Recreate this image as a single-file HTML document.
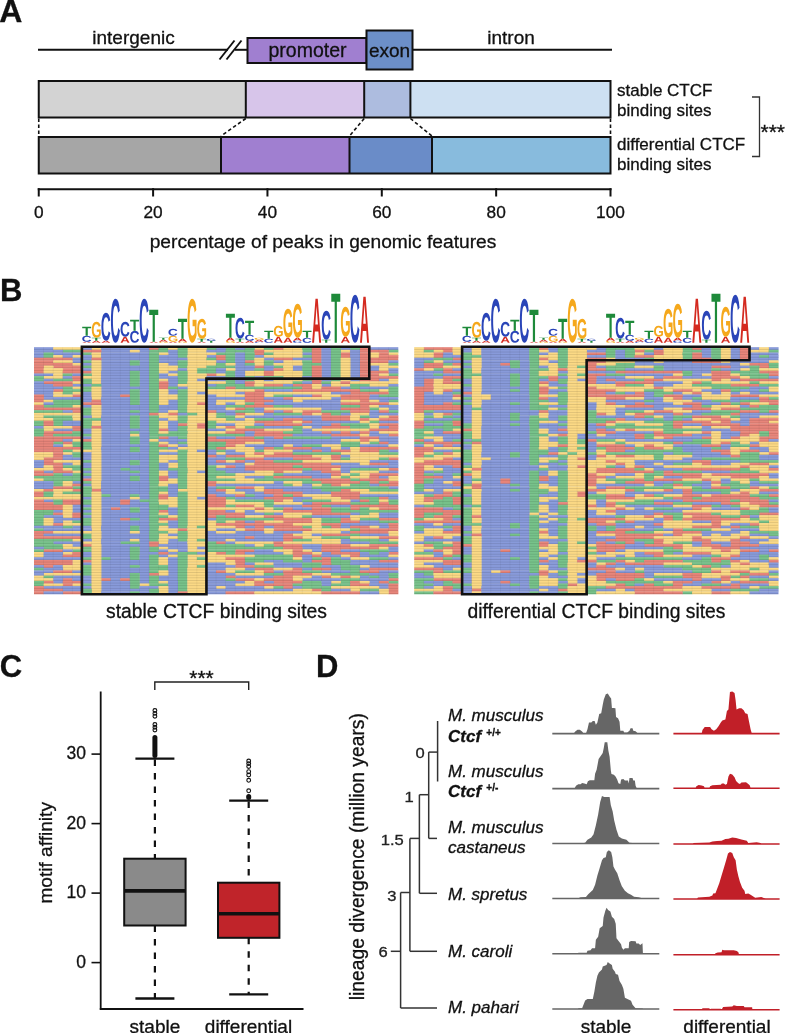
<!DOCTYPE html>
<html><head><meta charset="utf-8"><style>
html,body{margin:0;padding:0;background:#fff;}
svg{display:block;font-family:"Liberation Sans", sans-serif;will-change:transform;}
rect.A{fill:#e8857a}rect.C{fill:#889ada}rect.G{fill:#fbd985}rect.T{fill:#77c28a}
</style></head><body>
<svg width="785" height="1033" viewBox="0 0 785 1033">
<rect width="785" height="1033" fill="#fff"/>
<text x="-0.80" y="21.80" font-size="32" text-anchor="start" font-weight="bold" font-style="normal" fill="#111" stroke="#111" stroke-width="0.3" >A</text>
<text x="-0.10" y="301.00" font-size="31" text-anchor="start" font-weight="bold" font-style="normal" fill="#111" stroke="#111" stroke-width="0.3" >B</text>
<text x="-0.20" y="677.20" font-size="31" text-anchor="start" font-weight="bold" font-style="normal" fill="#111" stroke="#111" stroke-width="0.3" >C</text>
<text x="315.90" y="677.10" font-size="31" text-anchor="start" font-weight="bold" font-style="normal" fill="#111" stroke="#111" stroke-width="0.3" >D</text>
<line x1="38.00" y1="49.80" x2="228.00" y2="49.80" stroke="#111" stroke-width="2" />
<line x1="235.00" y1="49.80" x2="248.00" y2="49.80" stroke="#111" stroke-width="2" />
<line x1="412.00" y1="49.80" x2="612.00" y2="49.80" stroke="#111" stroke-width="2" />
<line x1="219.50" y1="59.50" x2="234.50" y2="40.50" stroke="#111" stroke-width="1.9" />
<line x1="226.50" y1="59.50" x2="241.50" y2="40.50" stroke="#111" stroke-width="1.9" />
<rect x="247.50" y="38.00" width="119.00" height="25.00" fill="#a07fd0" stroke="#111" stroke-width="2" />
<rect x="366.50" y="30.50" width="46.00" height="39.00" fill="#6c8fc8" stroke="#111" stroke-width="2" />
<text x="133.50" y="44.00" font-size="19" text-anchor="middle" font-weight="normal" font-style="normal" fill="#111" stroke="#111" stroke-width="0.3" >intergenic</text>
<text x="307.50" y="57.20" font-size="19.5" text-anchor="middle" font-weight="normal" font-style="normal" fill="#111" stroke="#111" stroke-width="0.3" >promoter</text>
<text x="389.50" y="57.00" font-size="19" text-anchor="middle" font-weight="normal" font-style="normal" fill="#111" stroke="#111" stroke-width="0.3" >exon</text>
<text x="511.00" y="44.00" font-size="19" text-anchor="middle" font-weight="normal" font-style="normal" fill="#111" stroke="#111" stroke-width="0.3" >intron</text>
<rect x="38.75" y="81.00" width="207.05" height="36.50" fill="#d3d3d3" stroke="none" stroke-width="0" />
<rect x="245.80" y="81.00" width="118.40" height="36.50" fill="#d7c5ea" stroke="none" stroke-width="0" />
<rect x="364.20" y="81.00" width="46.20" height="36.50" fill="#adbcdf" stroke="none" stroke-width="0" />
<rect x="410.40" y="81.00" width="200.10" height="36.50" fill="#cde0f2" stroke="none" stroke-width="0" />
<line x1="245.80" y1="81.00" x2="245.80" y2="117.50" stroke="#111" stroke-width="2" />
<line x1="364.20" y1="81.00" x2="364.20" y2="117.50" stroke="#111" stroke-width="2" />
<line x1="410.40" y1="81.00" x2="410.40" y2="117.50" stroke="#111" stroke-width="2" />
<rect x="38.75" y="81.00" width="571.75" height="36.50" fill="none" stroke="#111" stroke-width="2" />
<rect x="38.75" y="137.00" width="182.25" height="36.50" fill="#a6a6a6" stroke="none" stroke-width="0" />
<rect x="221.00" y="137.00" width="128.50" height="36.50" fill="#a07fd0" stroke="none" stroke-width="0" />
<rect x="349.50" y="137.00" width="82.50" height="36.50" fill="#6a8cc8" stroke="none" stroke-width="0" />
<rect x="432.00" y="137.00" width="178.50" height="36.50" fill="#88bbdd" stroke="none" stroke-width="0" />
<line x1="221.00" y1="137.00" x2="221.00" y2="173.50" stroke="#111" stroke-width="2" />
<line x1="349.50" y1="137.00" x2="349.50" y2="173.50" stroke="#111" stroke-width="2" />
<line x1="432.00" y1="137.00" x2="432.00" y2="173.50" stroke="#111" stroke-width="2" />
<rect x="38.75" y="137.00" width="571.75" height="36.50" fill="none" stroke="#111" stroke-width="2" />
<line x1="38.75" y1="118.50" x2="38.75" y2="136.00" stroke="#111" stroke-width="1.6" stroke-dasharray="3.5,2.5"/>
<line x1="245.80" y1="118.50" x2="221.00" y2="136.00" stroke="#111" stroke-width="1.6" stroke-dasharray="3.5,2.5"/>
<line x1="364.20" y1="118.50" x2="349.50" y2="136.00" stroke="#111" stroke-width="1.6" stroke-dasharray="3.5,2.5"/>
<line x1="410.40" y1="118.50" x2="432.00" y2="136.00" stroke="#111" stroke-width="1.6" stroke-dasharray="3.5,2.5"/>
<line x1="610.50" y1="118.50" x2="610.50" y2="136.00" stroke="#111" stroke-width="1.6" stroke-dasharray="3.5,2.5"/>
<line x1="37.75" y1="189.20" x2="611.50" y2="189.20" stroke="#111" stroke-width="2" />
<line x1="38.75" y1="188.20" x2="38.75" y2="196.50" stroke="#111" stroke-width="2" />
<text x="38.75" y="217.80" font-size="17.3" text-anchor="middle" font-weight="normal" font-style="normal" fill="#111" stroke="#111" stroke-width="0.3" >0</text>
<line x1="153.10" y1="188.20" x2="153.10" y2="196.50" stroke="#111" stroke-width="2" />
<text x="153.10" y="217.80" font-size="17.3" text-anchor="middle" font-weight="normal" font-style="normal" fill="#111" stroke="#111" stroke-width="0.3" >20</text>
<line x1="267.45" y1="188.20" x2="267.45" y2="196.50" stroke="#111" stroke-width="2" />
<text x="267.45" y="217.80" font-size="17.3" text-anchor="middle" font-weight="normal" font-style="normal" fill="#111" stroke="#111" stroke-width="0.3" >40</text>
<line x1="381.80" y1="188.20" x2="381.80" y2="196.50" stroke="#111" stroke-width="2" />
<text x="381.80" y="217.80" font-size="17.3" text-anchor="middle" font-weight="normal" font-style="normal" fill="#111" stroke="#111" stroke-width="0.3" >60</text>
<line x1="496.15" y1="188.20" x2="496.15" y2="196.50" stroke="#111" stroke-width="2" />
<text x="496.15" y="217.80" font-size="17.3" text-anchor="middle" font-weight="normal" font-style="normal" fill="#111" stroke="#111" stroke-width="0.3" >80</text>
<line x1="610.50" y1="188.20" x2="610.50" y2="196.50" stroke="#111" stroke-width="2" />
<text x="610.50" y="217.80" font-size="17.3" text-anchor="middle" font-weight="normal" font-style="normal" fill="#111" stroke="#111" stroke-width="0.3" >100</text>
<text x="323.00" y="248.00" font-size="19.2" text-anchor="middle" font-weight="normal" font-style="normal" fill="#111" stroke="#111" stroke-width="0.3" >percentage of peaks in genomic features</text>
<text x="617.00" y="95.50" font-size="17" text-anchor="start" font-weight="normal" font-style="normal" fill="#111" stroke="#111" stroke-width="0.3" >stable CTCF</text>
<text x="617.00" y="115.50" font-size="17" text-anchor="start" font-weight="normal" font-style="normal" fill="#111" stroke="#111" stroke-width="0.3" >binding sites</text>
<text x="617.00" y="149.50" font-size="17" text-anchor="start" font-weight="normal" font-style="normal" fill="#111" stroke="#111" stroke-width="0.3" >differential CTCF</text>
<text x="617.00" y="169.50" font-size="17" text-anchor="start" font-weight="normal" font-style="normal" fill="#111" stroke="#111" stroke-width="0.3" >binding sites</text>
<path d="M752 97 H759.5 V156.5 H752" fill="none" stroke="#333" stroke-width="1.3"/>
<text x="760.50" y="138.70" font-size="21" text-anchor="start" font-weight="normal" font-style="normal" fill="#111" stroke="#111" stroke-width="0.3" >***</text>
<defs><path id="gA" d="M1133 0 1008 360H471L346 0H51L565 1409H913L1425 0ZM739 1192 733 1170Q723 1134 709.0 1088.0Q695 1042 537 582H942L803 987L760 1123Z" fill="#d42a20"/><path id="gC" d="M795 212Q1062 212 1166 480L1423 383Q1340 179 1179.5 79.5Q1019 -20 795 -20Q455 -20 269.5 172.5Q84 365 84 711Q84 1058 263.0 1244.0Q442 1430 782 1430Q1030 1430 1186.0 1330.5Q1342 1231 1405 1038L1145 967Q1112 1073 1015.5 1135.5Q919 1198 788 1198Q588 1198 484.5 1074.0Q381 950 381 711Q381 468 487.5 340.0Q594 212 795 212Z" fill="#2a45b8"/><path id="gG" d="M806 211Q921 211 1029.0 244.5Q1137 278 1196 330V525H852V743H1466V225Q1354 110 1174.5 45.0Q995 -20 798 -20Q454 -20 269.0 170.5Q84 361 84 711Q84 1059 270.0 1244.5Q456 1430 805 1430Q1301 1430 1436 1063L1164 981Q1120 1088 1026.0 1143.0Q932 1198 805 1198Q597 1198 489.0 1072.0Q381 946 381 711Q381 472 492.5 341.5Q604 211 806 211Z" fill="#f5a81c"/><path id="gT" d="M773 1181V0H478V1181H23V1409H1229V1181Z" fill="#1e8a3a"/></defs>
<defs><pattern id="rows" patternUnits="userSpaceOnUse" width="10" height="2.6255" y="347.2"><rect x="0" y="1.8255" width="10" height="0.8" fill="rgba(0,0,0,0.12)"/></pattern></defs>
<rect class="G" x="283.1" y="347.2" width="19.5" height="2.9"/>
<rect class="G" x="91.5" y="347.2" width="9.9" height="2.9"/>
<rect class="C" x="34.0" y="347.2" width="19.5" height="2.9"/>
<rect class="G" x="254.3" y="347.2" width="9.9" height="2.9"/>
<rect class="C" x="101.1" y="347.2" width="48.2" height="2.9"/>
<rect class="T" x="225.6" y="347.2" width="9.9" height="2.9"/>
<rect class="T" x="263.9" y="347.2" width="9.9" height="2.9"/>
<rect class="A" x="359.7" y="347.2" width="9.9" height="2.9"/>
<rect class="A" x="149.0" y="347.2" width="9.9" height="2.9"/>
<rect class="C" x="81.9" y="347.2" width="9.9" height="2.9"/>
<rect class="C" x="235.2" y="347.2" width="9.9" height="2.9"/>
<rect class="A" x="273.5" y="347.2" width="9.9" height="2.9"/>
<rect class="T" x="244.8" y="347.2" width="9.9" height="2.9"/>
<rect class="C" x="369.3" y="347.2" width="29.0" height="2.9"/>
<rect class="T" x="350.1" y="347.2" width="9.9" height="2.9"/>
<rect class="G" x="53.2" y="347.2" width="29.0" height="2.9"/>
<rect class="C" x="340.6" y="347.2" width="9.9" height="2.9"/>
<rect class="C" x="216.0" y="347.2" width="9.9" height="2.9"/>
<rect class="T" x="158.5" y="347.2" width="9.9" height="2.9"/>
<rect class="G" x="168.1" y="347.2" width="9.9" height="2.9"/>
<rect class="T" x="206.4" y="347.2" width="9.9" height="2.9"/>
<rect class="G" x="187.3" y="347.2" width="19.5" height="5.6"/>
<rect class="T" x="302.2" y="347.2" width="9.9" height="5.6"/>
<rect class="C" x="206.4" y="349.8" width="19.5" height="2.9"/>
<rect class="G" x="340.6" y="349.8" width="9.9" height="2.9"/>
<rect class="T" x="62.7" y="349.8" width="19.5" height="2.9"/>
<rect class="T" x="149.0" y="349.8" width="19.5" height="2.9"/>
<rect class="C" x="101.1" y="349.8" width="29.0" height="2.9"/>
<rect class="T" x="388.5" y="349.8" width="9.9" height="2.9"/>
<rect class="T" x="225.6" y="349.8" width="29.0" height="2.9"/>
<rect class="A" x="359.7" y="349.8" width="29.0" height="2.9"/>
<rect class="C" x="34.0" y="349.8" width="29.0" height="2.9"/>
<rect class="G" x="263.9" y="349.8" width="38.6" height="2.9"/>
<rect class="C" x="139.4" y="349.8" width="9.9" height="2.9"/>
<rect class="G" x="129.8" y="349.8" width="9.9" height="2.9"/>
<rect class="A" x="81.9" y="349.8" width="19.5" height="2.9"/>
<rect class="C" x="168.1" y="349.8" width="9.9" height="5.6"/>
<rect class="A" x="254.3" y="349.8" width="9.9" height="5.6"/>
<rect class="C" x="53.2" y="352.5" width="29.0" height="2.9"/>
<rect class="T" x="263.9" y="352.5" width="9.9" height="2.9"/>
<rect class="G" x="388.5" y="352.5" width="9.9" height="2.9"/>
<rect class="A" x="378.9" y="352.5" width="9.9" height="2.9"/>
<rect class="T" x="216.0" y="352.5" width="19.5" height="2.9"/>
<rect class="G" x="187.3" y="352.5" width="29.0" height="2.9"/>
<rect class="T" x="81.9" y="352.5" width="9.9" height="2.9"/>
<rect class="C" x="302.2" y="352.5" width="9.9" height="2.9"/>
<rect class="G" x="273.5" y="352.5" width="29.0" height="2.9"/>
<rect class="G" x="158.5" y="352.5" width="9.9" height="2.9"/>
<rect class="T" x="177.7" y="347.2" width="9.9" height="10.8"/>
<rect class="G" x="91.5" y="352.5" width="9.9" height="5.6"/>
<rect class="A" x="359.7" y="352.5" width="9.9" height="5.6"/>
<rect class="C" x="34.0" y="352.5" width="9.9" height="5.6"/>
<rect class="G" x="369.3" y="352.5" width="9.9" height="5.6"/>
<rect class="A" x="340.6" y="352.5" width="9.9" height="5.6"/>
<rect class="T" x="43.6" y="352.5" width="9.9" height="5.6"/>
<rect class="G" x="72.3" y="355.1" width="9.9" height="2.9"/>
<rect class="A" x="378.9" y="355.1" width="19.5" height="2.9"/>
<rect class="C" x="81.9" y="355.1" width="9.9" height="2.9"/>
<rect class="G" x="53.2" y="355.1" width="9.9" height="2.9"/>
<rect class="T" x="302.2" y="355.1" width="9.9" height="2.9"/>
<rect class="C" x="206.4" y="355.1" width="9.9" height="2.9"/>
<rect class="C" x="254.3" y="355.1" width="9.9" height="2.9"/>
<rect class="G" x="263.9" y="355.1" width="38.6" height="2.9"/>
<rect class="C" x="158.5" y="355.1" width="19.5" height="2.9"/>
<rect class="C" x="62.7" y="355.1" width="9.9" height="2.9"/>
<rect class="C" x="101.1" y="352.5" width="48.2" height="8.2"/>
<rect class="T" x="244.8" y="352.5" width="9.9" height="8.2"/>
<rect class="G" x="187.3" y="355.1" width="19.5" height="5.6"/>
<rect class="A" x="216.0" y="355.1" width="9.9" height="5.6"/>
<rect class="A" x="273.5" y="357.7" width="19.5" height="2.9"/>
<rect class="C" x="72.3" y="357.7" width="19.5" height="2.9"/>
<rect class="A" x="34.0" y="357.7" width="38.6" height="2.9"/>
<rect class="C" x="158.5" y="357.7" width="29.0" height="2.9"/>
<rect class="A" x="91.5" y="357.7" width="9.9" height="2.9"/>
<rect class="C" x="263.9" y="357.7" width="9.9" height="2.9"/>
<rect class="C" x="292.7" y="357.7" width="19.5" height="2.9"/>
<rect class="A" x="359.7" y="357.7" width="38.6" height="2.9"/>
<rect class="T" x="206.4" y="357.7" width="9.9" height="2.9"/>
<rect class="A" x="311.8" y="347.2" width="9.9" height="16.1"/>
<rect class="T" x="225.6" y="355.1" width="9.9" height="8.2"/>
<rect class="G" x="283.1" y="360.3" width="19.5" height="2.9"/>
<rect class="A" x="244.8" y="360.3" width="9.9" height="2.9"/>
<rect class="C" x="273.5" y="360.3" width="9.9" height="2.9"/>
<rect class="T" x="302.2" y="360.3" width="9.9" height="2.9"/>
<rect class="A" x="34.0" y="360.3" width="19.5" height="2.9"/>
<rect class="A" x="359.7" y="360.3" width="29.0" height="2.9"/>
<rect class="C" x="72.3" y="360.3" width="9.9" height="2.9"/>
<rect class="C" x="216.0" y="360.3" width="9.9" height="2.9"/>
<rect class="T" x="81.9" y="360.3" width="9.9" height="2.9"/>
<rect class="G" x="53.2" y="360.3" width="19.5" height="2.9"/>
<rect class="C" x="388.5" y="360.3" width="9.9" height="2.9"/>
<rect class="C" x="158.5" y="360.3" width="19.5" height="2.9"/>
<rect class="C" x="235.2" y="352.5" width="9.9" height="13.4"/>
<rect class="G" x="254.3" y="357.7" width="9.9" height="8.2"/>
<rect class="C" x="101.1" y="360.3" width="29.0" height="5.6"/>
<rect class="T" x="263.9" y="360.3" width="9.9" height="5.6"/>
<rect class="G" x="187.3" y="360.3" width="29.0" height="5.6"/>
<rect class="C" x="139.4" y="360.3" width="9.9" height="5.6"/>
<rect class="T" x="129.8" y="360.3" width="9.9" height="5.6"/>
<rect class="G" x="72.3" y="363.0" width="9.9" height="2.9"/>
<rect class="T" x="216.0" y="363.0" width="9.9" height="2.9"/>
<rect class="G" x="369.3" y="363.0" width="19.5" height="2.9"/>
<rect class="G" x="225.6" y="363.0" width="9.9" height="2.9"/>
<rect class="C" x="81.9" y="363.0" width="9.9" height="2.9"/>
<rect class="T" x="388.5" y="363.0" width="9.9" height="2.9"/>
<rect class="A" x="34.0" y="363.0" width="38.6" height="2.9"/>
<rect class="T" x="244.8" y="363.0" width="9.9" height="2.9"/>
<rect class="C" x="168.1" y="363.0" width="9.9" height="2.9"/>
<rect class="T" x="302.2" y="363.0" width="19.5" height="2.9"/>
<rect class="G" x="273.5" y="363.0" width="29.0" height="2.9"/>
<rect class="G" x="158.5" y="363.0" width="9.9" height="2.9"/>
<rect class="T" x="177.7" y="360.3" width="9.9" height="8.2"/>
<rect class="A" x="53.2" y="365.6" width="29.0" height="2.9"/>
<rect class="G" x="187.3" y="365.6" width="19.5" height="2.9"/>
<rect class="G" x="378.9" y="365.6" width="19.5" height="2.9"/>
<rect class="T" x="273.5" y="365.6" width="9.9" height="2.9"/>
<rect class="T" x="81.9" y="365.6" width="9.9" height="2.9"/>
<rect class="T" x="206.4" y="365.6" width="29.0" height="2.9"/>
<rect class="A" x="254.3" y="365.6" width="9.9" height="2.9"/>
<rect class="G" x="43.6" y="365.6" width="9.9" height="2.9"/>
<rect class="A" x="359.7" y="363.0" width="9.9" height="8.2"/>
<rect class="C" x="369.3" y="365.6" width="9.9" height="5.6"/>
<rect class="C" x="101.1" y="365.6" width="48.2" height="5.6"/>
<rect class="C" x="292.7" y="365.6" width="9.9" height="5.6"/>
<rect class="G" x="158.5" y="365.6" width="19.5" height="5.6"/>
<rect class="G" x="283.1" y="365.6" width="9.9" height="5.6"/>
<rect class="C" x="263.9" y="365.6" width="9.9" height="5.6"/>
<rect class="C" x="235.2" y="365.6" width="19.5" height="5.6"/>
<rect class="T" x="254.3" y="368.2" width="9.9" height="2.9"/>
<rect class="G" x="225.6" y="368.2" width="9.9" height="2.9"/>
<rect class="C" x="81.9" y="368.2" width="9.9" height="2.9"/>
<rect class="A" x="273.5" y="368.2" width="9.9" height="2.9"/>
<rect class="C" x="177.7" y="368.2" width="9.9" height="2.9"/>
<rect class="A" x="62.7" y="368.2" width="19.5" height="2.9"/>
<rect class="G" x="378.9" y="368.2" width="9.9" height="2.9"/>
<rect class="A" x="34.0" y="365.6" width="9.9" height="8.2"/>
<rect class="T" x="196.9" y="368.2" width="19.5" height="5.6"/>
<rect class="G" x="43.6" y="368.2" width="19.5" height="5.6"/>
<rect class="C" x="216.0" y="368.2" width="9.9" height="5.6"/>
<rect class="G" x="187.3" y="368.2" width="9.9" height="5.6"/>
<rect class="C" x="388.5" y="368.2" width="9.9" height="5.6"/>
<rect class="A" x="62.7" y="370.8" width="29.0" height="2.9"/>
<rect class="C" x="168.1" y="370.8" width="9.9" height="2.9"/>
<rect class="A" x="359.7" y="370.8" width="29.0" height="2.9"/>
<rect class="G" x="158.5" y="370.8" width="9.9" height="2.9"/>
<rect class="G" x="91.5" y="360.3" width="9.9" height="16.1"/>
<rect class="T" x="302.2" y="365.6" width="9.9" height="10.8"/>
<rect class="G" x="244.8" y="370.8" width="19.5" height="5.6"/>
<rect class="G" x="273.5" y="370.8" width="29.0" height="5.6"/>
<rect class="A" x="263.9" y="370.8" width="9.9" height="5.6"/>
<rect class="G" x="216.0" y="373.5" width="9.9" height="2.9"/>
<rect class="C" x="34.0" y="373.5" width="19.5" height="2.9"/>
<rect class="G" x="53.2" y="373.5" width="9.9" height="2.9"/>
<rect class="A" x="359.7" y="373.5" width="19.5" height="2.9"/>
<rect class="T" x="388.5" y="373.5" width="9.9" height="2.9"/>
<rect class="T" x="62.7" y="373.5" width="9.9" height="2.9"/>
<rect class="C" x="158.5" y="373.5" width="9.9" height="2.9"/>
<rect class="C" x="72.3" y="373.5" width="9.9" height="2.9"/>
<rect class="A" x="206.4" y="373.5" width="9.9" height="2.9"/>
<rect class="T" x="81.9" y="373.5" width="9.9" height="2.9"/>
<rect class="G" x="378.9" y="373.5" width="9.9" height="2.9"/>
<rect class="G" x="168.1" y="373.5" width="9.9" height="2.9"/>
<rect class="G" x="187.3" y="373.5" width="19.5" height="5.6"/>
<rect class="G" x="283.1" y="376.1" width="19.5" height="2.9"/>
<rect class="C" x="206.4" y="376.1" width="19.5" height="2.9"/>
<rect class="G" x="81.9" y="376.1" width="19.5" height="2.9"/>
<rect class="G" x="43.6" y="376.1" width="19.5" height="2.9"/>
<rect class="C" x="254.3" y="376.1" width="9.9" height="2.9"/>
<rect class="C" x="302.2" y="376.1" width="9.9" height="2.9"/>
<rect class="T" x="263.9" y="376.1" width="19.5" height="2.9"/>
<rect class="C" x="158.5" y="376.1" width="19.5" height="2.9"/>
<rect class="C" x="62.7" y="376.1" width="9.9" height="2.9"/>
<rect class="A" x="359.7" y="376.1" width="38.6" height="2.9"/>
<rect class="C" x="321.4" y="347.2" width="9.9" height="34.4"/>
<rect class="T" x="331.0" y="347.2" width="9.9" height="34.4"/>
<rect class="C" x="350.1" y="349.8" width="9.9" height="31.8"/>
<rect class="G" x="340.6" y="357.7" width="9.9" height="23.9"/>
<rect class="T" x="34.0" y="376.1" width="9.9" height="5.6"/>
<rect class="T" x="244.8" y="376.1" width="9.9" height="5.6"/>
<rect class="A" x="72.3" y="376.1" width="9.9" height="5.6"/>
<rect class="G" x="254.3" y="378.7" width="9.9" height="2.9"/>
<rect class="T" x="302.2" y="378.7" width="9.9" height="2.9"/>
<rect class="C" x="43.6" y="378.7" width="9.9" height="2.9"/>
<rect class="G" x="388.5" y="378.7" width="9.9" height="2.9"/>
<rect class="C" x="378.9" y="378.7" width="9.9" height="2.9"/>
<rect class="C" x="196.9" y="378.7" width="29.0" height="2.9"/>
<rect class="G" x="187.3" y="378.7" width="9.9" height="2.9"/>
<rect class="T" x="53.2" y="378.7" width="19.5" height="2.9"/>
<rect class="C" x="263.9" y="378.7" width="9.9" height="2.9"/>
<rect class="G" x="273.5" y="378.7" width="29.0" height="2.9"/>
<rect class="G" x="158.5" y="378.7" width="9.9" height="2.9"/>
<rect class="A" x="359.7" y="378.7" width="19.5" height="2.9"/>
<rect class="A" x="311.8" y="365.6" width="9.9" height="18.7"/>
<rect class="T" x="177.7" y="370.8" width="9.9" height="13.4"/>
<rect class="T" x="225.6" y="370.8" width="9.9" height="13.4"/>
<rect class="C" x="235.2" y="370.8" width="9.9" height="13.4"/>
<rect class="G" x="91.5" y="378.7" width="9.9" height="5.6"/>
<rect class="T" x="81.9" y="378.7" width="9.9" height="5.6"/>
<rect class="G" x="72.3" y="381.3" width="9.9" height="2.9"/>
<rect class="G" x="187.3" y="381.3" width="38.6" height="2.9"/>
<rect class="A" x="43.6" y="381.3" width="29.0" height="2.9"/>
<rect class="T" x="321.4" y="381.3" width="9.9" height="2.9"/>
<rect class="C" x="34.0" y="381.3" width="9.9" height="2.9"/>
<rect class="G" x="331.0" y="381.3" width="9.9" height="2.9"/>
<rect class="G" x="254.3" y="381.3" width="38.6" height="2.9"/>
<rect class="A" x="340.6" y="381.3" width="9.9" height="2.9"/>
<rect class="T" x="292.7" y="381.3" width="9.9" height="2.9"/>
<rect class="G" x="350.1" y="381.3" width="48.2" height="2.9"/>
<rect class="C" x="302.2" y="381.3" width="9.9" height="2.9"/>
<rect class="C" x="101.1" y="370.8" width="29.0" height="16.1"/>
<rect class="C" x="139.4" y="370.8" width="9.9" height="16.1"/>
<rect class="T" x="129.8" y="370.8" width="9.9" height="16.1"/>
<rect class="C" x="168.1" y="378.7" width="9.9" height="8.2"/>
<rect class="A" x="244.8" y="381.3" width="9.9" height="5.6"/>
<rect class="C" x="321.4" y="384.0" width="9.9" height="2.9"/>
<rect class="G" x="177.7" y="384.0" width="29.0" height="2.9"/>
<rect class="T" x="216.0" y="384.0" width="29.0" height="2.9"/>
<rect class="C" x="34.0" y="384.0" width="19.5" height="2.9"/>
<rect class="C" x="72.3" y="384.0" width="19.5" height="2.9"/>
<rect class="G" x="369.3" y="384.0" width="19.5" height="2.9"/>
<rect class="G" x="254.3" y="384.0" width="9.9" height="2.9"/>
<rect class="G" x="331.0" y="384.0" width="19.5" height="2.9"/>
<rect class="A" x="53.2" y="384.0" width="19.5" height="2.9"/>
<rect class="C" x="206.4" y="384.0" width="9.9" height="2.9"/>
<rect class="A" x="263.9" y="384.0" width="19.5" height="2.9"/>
<rect class="C" x="388.5" y="384.0" width="9.9" height="2.9"/>
<rect class="A" x="292.7" y="384.0" width="19.5" height="2.9"/>
<rect class="C" x="283.1" y="384.0" width="9.9" height="2.9"/>
<rect class="T" x="91.5" y="384.0" width="9.9" height="2.9"/>
<rect class="T" x="350.1" y="384.0" width="19.5" height="2.9"/>
<rect class="A" x="158.5" y="381.3" width="9.9" height="8.2"/>
<rect class="G" x="311.8" y="384.0" width="9.9" height="5.6"/>
<rect class="G" x="72.3" y="386.6" width="9.9" height="2.9"/>
<rect class="T" x="235.2" y="386.6" width="67.4" height="2.9"/>
<rect class="G" x="187.3" y="386.6" width="19.5" height="2.9"/>
<rect class="C" x="101.1" y="386.6" width="48.2" height="2.9"/>
<rect class="C" x="359.7" y="386.6" width="29.0" height="2.9"/>
<rect class="T" x="62.7" y="386.6" width="9.9" height="2.9"/>
<rect class="T" x="350.1" y="386.6" width="9.9" height="2.9"/>
<rect class="T" x="206.4" y="386.6" width="19.5" height="2.9"/>
<rect class="C" x="340.6" y="386.6" width="9.9" height="2.9"/>
<rect class="C" x="177.7" y="386.6" width="9.9" height="2.9"/>
<rect class="C" x="34.0" y="386.6" width="29.0" height="2.9"/>
<rect class="A" x="321.4" y="386.6" width="19.5" height="2.9"/>
<rect class="T" x="81.9" y="386.6" width="9.9" height="2.9"/>
<rect class="T" x="168.1" y="386.6" width="9.9" height="2.9"/>
<rect class="A" x="225.6" y="386.6" width="9.9" height="2.9"/>
<rect class="A" x="302.2" y="386.6" width="9.9" height="2.9"/>
<rect class="G" x="378.9" y="389.2" width="9.9" height="2.9"/>
<rect class="C" x="263.9" y="389.2" width="29.0" height="2.9"/>
<rect class="T" x="62.7" y="389.2" width="29.0" height="2.9"/>
<rect class="A" x="254.3" y="389.2" width="9.9" height="2.9"/>
<rect class="A" x="53.2" y="389.2" width="9.9" height="2.9"/>
<rect class="G" x="187.3" y="389.2" width="67.4" height="2.9"/>
<rect class="T" x="359.7" y="389.2" width="19.5" height="2.9"/>
<rect class="A" x="292.7" y="389.2" width="67.4" height="2.9"/>
<rect class="T" x="388.5" y="386.6" width="9.9" height="8.2"/>
<rect class="C" x="34.0" y="389.2" width="19.5" height="5.6"/>
<rect class="C" x="101.1" y="389.2" width="29.0" height="5.6"/>
<rect class="C" x="168.1" y="389.2" width="9.9" height="5.6"/>
<rect class="G" x="158.5" y="389.2" width="9.9" height="5.6"/>
<rect class="G" x="72.3" y="391.8" width="9.9" height="2.9"/>
<rect class="G" x="53.2" y="391.8" width="9.9" height="2.9"/>
<rect class="C" x="235.2" y="391.8" width="9.9" height="2.9"/>
<rect class="T" x="62.7" y="391.8" width="9.9" height="2.9"/>
<rect class="C" x="196.9" y="391.8" width="9.9" height="2.9"/>
<rect class="G" x="263.9" y="391.8" width="67.4" height="2.9"/>
<rect class="G" x="187.3" y="391.8" width="9.9" height="2.9"/>
<rect class="A" x="350.1" y="391.8" width="38.6" height="2.9"/>
<rect class="C" x="331.0" y="391.8" width="19.5" height="2.9"/>
<rect class="G" x="206.4" y="391.8" width="29.0" height="2.9"/>
<rect class="C" x="81.9" y="391.8" width="9.9" height="5.6"/>
<rect class="G" x="321.4" y="394.5" width="19.5" height="2.9"/>
<rect class="A" x="311.8" y="394.5" width="9.9" height="2.9"/>
<rect class="G" x="216.0" y="394.5" width="29.0" height="2.9"/>
<rect class="C" x="369.3" y="394.5" width="9.9" height="2.9"/>
<rect class="G" x="263.9" y="394.5" width="9.9" height="2.9"/>
<rect class="C" x="43.6" y="394.5" width="9.9" height="2.9"/>
<rect class="T" x="273.5" y="394.5" width="19.5" height="2.9"/>
<rect class="T" x="378.9" y="394.5" width="19.5" height="2.9"/>
<rect class="C" x="101.1" y="394.5" width="19.5" height="2.9"/>
<rect class="C" x="206.4" y="394.5" width="9.9" height="2.9"/>
<rect class="A" x="72.3" y="394.5" width="9.9" height="2.9"/>
<rect class="C" x="292.7" y="394.5" width="19.5" height="2.9"/>
<rect class="G" x="53.2" y="394.5" width="19.5" height="2.9"/>
<rect class="A" x="120.2" y="394.5" width="9.9" height="2.9"/>
<rect class="G" x="91.5" y="386.6" width="9.9" height="13.4"/>
<rect class="A" x="244.8" y="391.8" width="19.5" height="8.2"/>
<rect class="G" x="158.5" y="394.5" width="19.5" height="5.6"/>
<rect class="A" x="340.6" y="394.5" width="29.0" height="5.6"/>
<rect class="C" x="206.4" y="397.1" width="38.6" height="2.9"/>
<rect class="A" x="283.1" y="397.1" width="9.9" height="2.9"/>
<rect class="C" x="331.0" y="397.1" width="9.9" height="2.9"/>
<rect class="G" x="292.7" y="397.1" width="38.6" height="2.9"/>
<rect class="C" x="369.3" y="397.1" width="29.0" height="2.9"/>
<rect class="C" x="43.6" y="397.1" width="48.2" height="2.9"/>
<rect class="C" x="263.9" y="397.1" width="19.5" height="2.9"/>
<rect class="G" x="187.3" y="394.5" width="19.5" height="8.2"/>
<rect class="A" x="34.0" y="394.5" width="9.9" height="8.2"/>
<rect class="G" x="216.0" y="399.7" width="29.0" height="2.9"/>
<rect class="A" x="359.7" y="399.7" width="9.9" height="2.9"/>
<rect class="C" x="81.9" y="399.7" width="9.9" height="2.9"/>
<rect class="A" x="244.8" y="399.7" width="29.0" height="2.9"/>
<rect class="T" x="388.5" y="399.7" width="9.9" height="2.9"/>
<rect class="C" x="302.2" y="399.7" width="38.6" height="2.9"/>
<rect class="G" x="340.6" y="399.7" width="19.5" height="2.9"/>
<rect class="C" x="378.9" y="399.7" width="9.9" height="2.9"/>
<rect class="A" x="91.5" y="399.7" width="9.9" height="2.9"/>
<rect class="G" x="369.3" y="399.7" width="9.9" height="2.9"/>
<rect class="G" x="292.7" y="399.7" width="9.9" height="2.9"/>
<rect class="G" x="43.6" y="399.7" width="9.9" height="2.9"/>
<rect class="C" x="273.5" y="399.7" width="19.5" height="2.9"/>
<rect class="C" x="139.4" y="389.2" width="9.9" height="16.1"/>
<rect class="T" x="129.8" y="389.2" width="9.9" height="16.1"/>
<rect class="C" x="101.1" y="397.1" width="29.0" height="8.2"/>
<rect class="T" x="53.2" y="399.7" width="29.0" height="5.6"/>
<rect class="C" x="168.1" y="399.7" width="9.9" height="5.6"/>
<rect class="C" x="206.4" y="399.7" width="9.9" height="5.6"/>
<rect class="G" x="158.5" y="399.7" width="9.9" height="5.6"/>
<rect class="G" x="34.0" y="402.3" width="9.9" height="2.9"/>
<rect class="G" x="216.0" y="402.3" width="9.9" height="2.9"/>
<rect class="C" x="43.6" y="402.3" width="9.9" height="2.9"/>
<rect class="T" x="244.8" y="402.3" width="9.9" height="2.9"/>
<rect class="G" x="388.5" y="402.3" width="9.9" height="2.9"/>
<rect class="C" x="263.9" y="402.3" width="76.9" height="2.9"/>
<rect class="A" x="196.9" y="402.3" width="9.9" height="2.9"/>
<rect class="G" x="187.3" y="402.3" width="9.9" height="2.9"/>
<rect class="C" x="225.6" y="402.3" width="9.9" height="2.9"/>
<rect class="A" x="340.6" y="402.3" width="48.2" height="2.9"/>
<rect class="A" x="254.3" y="402.3" width="9.9" height="2.9"/>
<rect class="G" x="235.2" y="402.3" width="9.9" height="2.9"/>
<rect class="A" x="81.9" y="402.3" width="19.5" height="2.9"/>
<rect class="G" x="72.3" y="405.0" width="9.9" height="2.9"/>
<rect class="A" x="359.7" y="405.0" width="9.9" height="2.9"/>
<rect class="C" x="81.9" y="405.0" width="9.9" height="2.9"/>
<rect class="A" x="244.8" y="405.0" width="29.0" height="2.9"/>
<rect class="T" x="340.6" y="405.0" width="19.5" height="2.9"/>
<rect class="T" x="273.5" y="405.0" width="19.5" height="2.9"/>
<rect class="C" x="292.7" y="405.0" width="48.2" height="2.9"/>
<rect class="G" x="369.3" y="405.0" width="9.9" height="2.9"/>
<rect class="T" x="43.6" y="405.0" width="29.0" height="2.9"/>
<rect class="A" x="34.0" y="405.0" width="9.9" height="2.9"/>
<rect class="T" x="225.6" y="405.0" width="19.5" height="2.9"/>
<rect class="C" x="378.9" y="405.0" width="19.5" height="2.9"/>
<rect class="C" x="206.4" y="405.0" width="19.5" height="5.6"/>
<rect class="C" x="101.1" y="405.0" width="48.2" height="5.6"/>
<rect class="C" x="158.5" y="405.0" width="19.5" height="5.6"/>
<rect class="G" x="263.9" y="407.6" width="57.8" height="2.9"/>
<rect class="G" x="225.6" y="407.6" width="9.9" height="2.9"/>
<rect class="T" x="244.8" y="407.6" width="9.9" height="2.9"/>
<rect class="A" x="235.2" y="407.6" width="9.9" height="2.9"/>
<rect class="C" x="321.4" y="407.6" width="19.5" height="2.9"/>
<rect class="T" x="369.3" y="407.6" width="9.9" height="2.9"/>
<rect class="A" x="340.6" y="407.6" width="29.0" height="2.9"/>
<rect class="C" x="388.5" y="407.6" width="9.9" height="2.9"/>
<rect class="A" x="34.0" y="407.6" width="48.2" height="2.9"/>
<rect class="G" x="378.9" y="407.6" width="9.9" height="2.9"/>
<rect class="T" x="149.0" y="352.5" width="9.9" height="60.7"/>
<rect class="T" x="177.7" y="389.2" width="9.9" height="23.9"/>
<rect class="G" x="187.3" y="405.0" width="19.5" height="8.2"/>
<rect class="C" x="254.3" y="407.6" width="9.9" height="5.6"/>
<rect class="A" x="283.1" y="410.2" width="9.9" height="2.9"/>
<rect class="C" x="216.0" y="410.2" width="19.5" height="2.9"/>
<rect class="T" x="34.0" y="410.2" width="29.0" height="2.9"/>
<rect class="C" x="101.1" y="410.2" width="29.0" height="2.9"/>
<rect class="C" x="369.3" y="410.2" width="9.9" height="2.9"/>
<rect class="C" x="273.5" y="410.2" width="9.9" height="2.9"/>
<rect class="T" x="235.2" y="410.2" width="19.5" height="2.9"/>
<rect class="T" x="388.5" y="410.2" width="9.9" height="2.9"/>
<rect class="C" x="158.5" y="410.2" width="9.9" height="2.9"/>
<rect class="A" x="302.2" y="410.2" width="19.5" height="2.9"/>
<rect class="A" x="378.9" y="410.2" width="9.9" height="2.9"/>
<rect class="A" x="206.4" y="410.2" width="9.9" height="2.9"/>
<rect class="A" x="72.3" y="410.2" width="9.9" height="2.9"/>
<rect class="T" x="321.4" y="410.2" width="29.0" height="2.9"/>
<rect class="A" x="350.1" y="410.2" width="19.5" height="2.9"/>
<rect class="G" x="292.7" y="410.2" width="9.9" height="2.9"/>
<rect class="C" x="139.4" y="410.2" width="9.9" height="2.9"/>
<rect class="T" x="129.8" y="410.2" width="9.9" height="2.9"/>
<rect class="A" x="263.9" y="410.2" width="9.9" height="2.9"/>
<rect class="C" x="62.7" y="410.2" width="9.9" height="2.9"/>
<rect class="G" x="168.1" y="410.2" width="9.9" height="2.9"/>
<rect class="T" x="81.9" y="407.6" width="9.9" height="8.2"/>
<rect class="G" x="350.1" y="412.8" width="19.5" height="2.9"/>
<rect class="T" x="216.0" y="412.8" width="9.9" height="2.9"/>
<rect class="G" x="244.8" y="412.8" width="19.5" height="2.9"/>
<rect class="A" x="321.4" y="412.8" width="9.9" height="2.9"/>
<rect class="G" x="34.0" y="412.8" width="48.2" height="2.9"/>
<rect class="C" x="101.1" y="412.8" width="48.2" height="2.9"/>
<rect class="A" x="149.0" y="412.8" width="9.9" height="2.9"/>
<rect class="G" x="196.9" y="412.8" width="19.5" height="2.9"/>
<rect class="C" x="369.3" y="412.8" width="29.0" height="2.9"/>
<rect class="G" x="311.8" y="412.8" width="9.9" height="2.9"/>
<rect class="A" x="235.2" y="412.8" width="9.9" height="2.9"/>
<rect class="C" x="340.6" y="412.8" width="9.9" height="2.9"/>
<rect class="A" x="168.1" y="412.8" width="9.9" height="2.9"/>
<rect class="C" x="177.7" y="412.8" width="9.9" height="2.9"/>
<rect class="T" x="331.0" y="412.8" width="9.9" height="2.9"/>
<rect class="T" x="187.3" y="412.8" width="9.9" height="2.9"/>
<rect class="C" x="225.6" y="412.8" width="9.9" height="2.9"/>
<rect class="C" x="263.9" y="412.8" width="9.9" height="2.9"/>
<rect class="T" x="273.5" y="412.8" width="29.0" height="2.9"/>
<rect class="G" x="158.5" y="412.8" width="9.9" height="2.9"/>
<rect class="A" x="302.2" y="412.8" width="9.9" height="2.9"/>
<rect class="G" x="91.5" y="405.0" width="9.9" height="13.4"/>
<rect class="A" x="388.5" y="415.5" width="9.9" height="2.9"/>
<rect class="G" x="34.0" y="415.5" width="9.9" height="2.9"/>
<rect class="C" x="369.3" y="415.5" width="9.9" height="2.9"/>
<rect class="C" x="81.9" y="415.5" width="9.9" height="2.9"/>
<rect class="G" x="158.5" y="415.5" width="19.5" height="2.9"/>
<rect class="T" x="359.7" y="415.5" width="9.9" height="2.9"/>
<rect class="T" x="216.0" y="415.5" width="19.5" height="2.9"/>
<rect class="T" x="43.6" y="415.5" width="29.0" height="2.9"/>
<rect class="G" x="187.3" y="415.5" width="29.0" height="2.9"/>
<rect class="G" x="235.2" y="415.5" width="9.9" height="2.9"/>
<rect class="C" x="244.8" y="415.5" width="76.9" height="2.9"/>
<rect class="G" x="378.9" y="415.5" width="9.9" height="2.9"/>
<rect class="G" x="72.3" y="415.5" width="9.9" height="5.6"/>
<rect class="A" x="321.4" y="415.5" width="29.0" height="5.6"/>
<rect class="G" x="350.1" y="415.5" width="9.9" height="5.6"/>
<rect class="A" x="378.9" y="418.1" width="19.5" height="2.9"/>
<rect class="C" x="273.5" y="418.1" width="9.9" height="2.9"/>
<rect class="T" x="225.6" y="418.1" width="9.9" height="2.9"/>
<rect class="T" x="81.9" y="418.1" width="19.5" height="2.9"/>
<rect class="A" x="359.7" y="418.1" width="9.9" height="2.9"/>
<rect class="C" x="235.2" y="418.1" width="9.9" height="2.9"/>
<rect class="C" x="302.2" y="418.1" width="19.5" height="2.9"/>
<rect class="G" x="187.3" y="418.1" width="38.6" height="2.9"/>
<rect class="C" x="158.5" y="418.1" width="9.9" height="2.9"/>
<rect class="G" x="244.8" y="418.1" width="9.9" height="2.9"/>
<rect class="G" x="34.0" y="418.1" width="19.5" height="2.9"/>
<rect class="A" x="283.1" y="418.1" width="19.5" height="2.9"/>
<rect class="T" x="254.3" y="418.1" width="19.5" height="2.9"/>
<rect class="G" x="369.3" y="418.1" width="9.9" height="2.9"/>
<rect class="T" x="53.2" y="418.1" width="19.5" height="2.9"/>
<rect class="G" x="168.1" y="418.1" width="9.9" height="2.9"/>
<rect class="T" x="177.7" y="415.5" width="9.9" height="8.2"/>
<rect class="C" x="311.8" y="420.7" width="48.2" height="2.9"/>
<rect class="G" x="187.3" y="420.7" width="19.5" height="2.9"/>
<rect class="A" x="254.3" y="420.7" width="38.6" height="2.9"/>
<rect class="T" x="369.3" y="420.7" width="9.9" height="2.9"/>
<rect class="G" x="359.7" y="420.7" width="9.9" height="2.9"/>
<rect class="G" x="216.0" y="420.7" width="38.6" height="2.9"/>
<rect class="G" x="292.7" y="420.7" width="9.9" height="2.9"/>
<rect class="C" x="378.9" y="420.7" width="19.5" height="2.9"/>
<rect class="A" x="302.2" y="420.7" width="9.9" height="2.9"/>
<rect class="G" x="91.5" y="420.7" width="9.9" height="5.6"/>
<rect class="T" x="34.0" y="420.7" width="9.9" height="5.6"/>
<rect class="T" x="53.2" y="420.7" width="9.9" height="5.6"/>
<rect class="A" x="43.6" y="420.7" width="9.9" height="5.6"/>
<rect class="C" x="62.7" y="420.7" width="19.5" height="5.6"/>
<rect class="A" x="378.9" y="423.3" width="19.5" height="2.9"/>
<rect class="C" x="216.0" y="423.3" width="19.5" height="2.9"/>
<rect class="A" x="331.0" y="423.3" width="9.9" height="2.9"/>
<rect class="G" x="235.2" y="423.3" width="19.5" height="2.9"/>
<rect class="A" x="263.9" y="423.3" width="38.6" height="2.9"/>
<rect class="C" x="254.3" y="423.3" width="9.9" height="2.9"/>
<rect class="A" x="177.7" y="423.3" width="9.9" height="2.9"/>
<rect class="C" x="302.2" y="423.3" width="29.0" height="2.9"/>
<rect class="T" x="340.6" y="423.3" width="29.0" height="2.9"/>
<rect class="C" x="101.1" y="415.5" width="29.0" height="13.4"/>
<rect class="C" x="139.4" y="415.5" width="9.9" height="13.4"/>
<rect class="T" x="129.8" y="415.5" width="9.9" height="13.4"/>
<rect class="T" x="81.9" y="420.7" width="9.9" height="8.2"/>
<rect class="G" x="158.5" y="420.7" width="9.9" height="8.2"/>
<rect class="T" x="206.4" y="420.7" width="9.9" height="8.2"/>
<rect class="A" x="196.9" y="423.3" width="9.9" height="5.6"/>
<rect class="G" x="369.3" y="423.3" width="9.9" height="5.6"/>
<rect class="G" x="187.3" y="423.3" width="9.9" height="5.6"/>
<rect class="T" x="244.8" y="426.0" width="19.5" height="2.9"/>
<rect class="A" x="388.5" y="426.0" width="9.9" height="2.9"/>
<rect class="G" x="216.0" y="426.0" width="9.9" height="2.9"/>
<rect class="G" x="302.2" y="426.0" width="9.9" height="2.9"/>
<rect class="A" x="321.4" y="426.0" width="29.0" height="2.9"/>
<rect class="C" x="378.9" y="426.0" width="9.9" height="2.9"/>
<rect class="C" x="34.0" y="426.0" width="9.9" height="2.9"/>
<rect class="A" x="91.5" y="426.0" width="9.9" height="2.9"/>
<rect class="G" x="43.6" y="426.0" width="29.0" height="2.9"/>
<rect class="C" x="263.9" y="426.0" width="29.0" height="2.9"/>
<rect class="G" x="235.2" y="426.0" width="9.9" height="2.9"/>
<rect class="A" x="225.6" y="426.0" width="9.9" height="2.9"/>
<rect class="C" x="311.8" y="426.0" width="9.9" height="2.9"/>
<rect class="T" x="350.1" y="426.0" width="19.5" height="2.9"/>
<rect class="C" x="168.1" y="420.7" width="9.9" height="10.8"/>
<rect class="T" x="177.7" y="426.0" width="9.9" height="5.6"/>
<rect class="A" x="72.3" y="426.0" width="9.9" height="5.6"/>
<rect class="T" x="292.7" y="426.0" width="9.9" height="5.6"/>
<rect class="C" x="206.4" y="428.6" width="19.5" height="2.9"/>
<rect class="G" x="311.8" y="428.6" width="57.8" height="2.9"/>
<rect class="G" x="187.3" y="428.6" width="19.5" height="2.9"/>
<rect class="C" x="101.1" y="428.6" width="48.2" height="2.9"/>
<rect class="G" x="225.6" y="428.6" width="9.9" height="2.9"/>
<rect class="C" x="53.2" y="428.6" width="19.5" height="2.9"/>
<rect class="G" x="263.9" y="428.6" width="29.0" height="2.9"/>
<rect class="A" x="369.3" y="428.6" width="29.0" height="2.9"/>
<rect class="A" x="158.5" y="428.6" width="9.9" height="2.9"/>
<rect class="A" x="235.2" y="428.6" width="29.0" height="2.9"/>
<rect class="C" x="302.2" y="428.6" width="9.9" height="2.9"/>
<rect class="G" x="43.6" y="428.6" width="9.9" height="2.9"/>
<rect class="T" x="149.0" y="415.5" width="9.9" height="18.7"/>
<rect class="C" x="81.9" y="428.6" width="9.9" height="5.6"/>
<rect class="C" x="350.1" y="431.2" width="9.9" height="2.9"/>
<rect class="C" x="331.0" y="431.2" width="9.9" height="2.9"/>
<rect class="A" x="321.4" y="431.2" width="9.9" height="2.9"/>
<rect class="C" x="369.3" y="431.2" width="9.9" height="2.9"/>
<rect class="A" x="359.7" y="431.2" width="9.9" height="2.9"/>
<rect class="C" x="302.2" y="431.2" width="19.5" height="2.9"/>
<rect class="G" x="187.3" y="431.2" width="38.6" height="2.9"/>
<rect class="A" x="43.6" y="431.2" width="29.0" height="2.9"/>
<rect class="T" x="168.1" y="431.2" width="19.5" height="2.9"/>
<rect class="G" x="378.9" y="431.2" width="19.5" height="2.9"/>
<rect class="A" x="225.6" y="431.2" width="19.5" height="2.9"/>
<rect class="A" x="340.6" y="431.2" width="9.9" height="2.9"/>
<rect class="A" x="254.3" y="431.2" width="29.0" height="2.9"/>
<rect class="T" x="129.8" y="431.2" width="9.9" height="2.9"/>
<rect class="G" x="158.5" y="431.2" width="9.9" height="2.9"/>
<rect class="T" x="283.1" y="431.2" width="19.5" height="2.9"/>
<rect class="T" x="72.3" y="431.2" width="9.9" height="2.9"/>
<rect class="T" x="34.0" y="428.6" width="9.9" height="8.2"/>
<rect class="C" x="244.8" y="431.2" width="9.9" height="5.6"/>
<rect class="A" x="43.6" y="433.8" width="9.9" height="2.9"/>
<rect class="T" x="149.0" y="433.8" width="38.6" height="2.9"/>
<rect class="T" x="206.4" y="433.8" width="38.6" height="2.9"/>
<rect class="A" x="388.5" y="433.8" width="9.9" height="2.9"/>
<rect class="A" x="331.0" y="433.8" width="29.0" height="2.9"/>
<rect class="G" x="359.7" y="433.8" width="9.9" height="2.9"/>
<rect class="A" x="254.3" y="433.8" width="38.6" height="2.9"/>
<rect class="C" x="369.3" y="433.8" width="19.5" height="2.9"/>
<rect class="G" x="129.8" y="433.8" width="9.9" height="2.9"/>
<rect class="T" x="53.2" y="433.8" width="38.6" height="2.9"/>
<rect class="C" x="292.7" y="433.8" width="38.6" height="2.9"/>
<rect class="A" x="235.2" y="436.5" width="19.5" height="2.9"/>
<rect class="T" x="177.7" y="436.5" width="9.9" height="2.9"/>
<rect class="C" x="216.0" y="436.5" width="19.5" height="2.9"/>
<rect class="T" x="254.3" y="436.5" width="9.9" height="2.9"/>
<rect class="C" x="81.9" y="436.5" width="9.9" height="2.9"/>
<rect class="C" x="331.0" y="436.5" width="29.0" height="2.9"/>
<rect class="A" x="273.5" y="436.5" width="9.9" height="2.9"/>
<rect class="C" x="168.1" y="436.5" width="9.9" height="2.9"/>
<rect class="A" x="158.5" y="436.5" width="9.9" height="2.9"/>
<rect class="T" x="149.0" y="436.5" width="9.9" height="2.9"/>
<rect class="T" x="283.1" y="436.5" width="48.2" height="2.9"/>
<rect class="A" x="206.4" y="436.5" width="9.9" height="2.9"/>
<rect class="C" x="263.9" y="436.5" width="9.9" height="2.9"/>
<rect class="A" x="34.0" y="436.5" width="48.2" height="2.9"/>
<rect class="A" x="359.7" y="436.5" width="19.5" height="2.9"/>
<rect class="C" x="378.9" y="436.5" width="19.5" height="5.6"/>
<rect class="A" x="359.7" y="439.1" width="9.9" height="2.9"/>
<rect class="G" x="72.3" y="439.1" width="9.9" height="2.9"/>
<rect class="A" x="34.0" y="439.1" width="29.0" height="2.9"/>
<rect class="G" x="149.0" y="439.1" width="9.9" height="2.9"/>
<rect class="A" x="206.4" y="439.1" width="57.8" height="2.9"/>
<rect class="G" x="340.6" y="439.1" width="19.5" height="2.9"/>
<rect class="A" x="81.9" y="439.1" width="9.9" height="2.9"/>
<rect class="C" x="62.7" y="439.1" width="9.9" height="2.9"/>
<rect class="C" x="158.5" y="439.1" width="29.0" height="2.9"/>
<rect class="G" x="369.3" y="439.1" width="9.9" height="2.9"/>
<rect class="C" x="101.1" y="431.2" width="29.0" height="13.4"/>
<rect class="C" x="139.4" y="431.2" width="9.9" height="13.4"/>
<rect class="T" x="129.8" y="436.5" width="9.9" height="8.2"/>
<rect class="C" x="263.9" y="439.1" width="76.9" height="5.6"/>
<rect class="T" x="177.7" y="441.7" width="9.9" height="2.9"/>
<rect class="G" x="244.8" y="441.7" width="19.5" height="2.9"/>
<rect class="A" x="62.7" y="441.7" width="9.9" height="2.9"/>
<rect class="T" x="53.2" y="441.7" width="9.9" height="2.9"/>
<rect class="C" x="168.1" y="441.7" width="9.9" height="2.9"/>
<rect class="A" x="225.6" y="441.7" width="19.5" height="2.9"/>
<rect class="A" x="378.9" y="441.7" width="9.9" height="2.9"/>
<rect class="T" x="369.3" y="441.7" width="9.9" height="2.9"/>
<rect class="G" x="359.7" y="441.7" width="9.9" height="2.9"/>
<rect class="C" x="388.5" y="441.7" width="9.9" height="2.9"/>
<rect class="G" x="158.5" y="441.7" width="9.9" height="2.9"/>
<rect class="G" x="187.3" y="433.8" width="19.5" height="13.4"/>
<rect class="A" x="34.0" y="441.7" width="19.5" height="5.6"/>
<rect class="T" x="340.6" y="441.7" width="19.5" height="5.6"/>
<rect class="T" x="206.4" y="441.7" width="19.5" height="5.6"/>
<rect class="T" x="149.0" y="441.7" width="9.9" height="5.6"/>
<rect class="T" x="72.3" y="441.7" width="19.5" height="5.6"/>
<rect class="G" x="321.4" y="444.3" width="19.5" height="2.9"/>
<rect class="C" x="101.1" y="444.3" width="48.2" height="2.9"/>
<rect class="C" x="292.7" y="444.3" width="9.9" height="2.9"/>
<rect class="C" x="359.7" y="444.3" width="29.0" height="2.9"/>
<rect class="G" x="388.5" y="444.3" width="9.9" height="2.9"/>
<rect class="G" x="62.7" y="444.3" width="9.9" height="2.9"/>
<rect class="G" x="283.1" y="444.3" width="9.9" height="2.9"/>
<rect class="A" x="158.5" y="444.3" width="9.9" height="2.9"/>
<rect class="C" x="177.7" y="444.3" width="9.9" height="2.9"/>
<rect class="C" x="53.2" y="444.3" width="9.9" height="2.9"/>
<rect class="C" x="244.8" y="444.3" width="38.6" height="2.9"/>
<rect class="T" x="302.2" y="444.3" width="19.5" height="2.9"/>
<rect class="G" x="235.2" y="444.3" width="9.9" height="2.9"/>
<rect class="A" x="225.6" y="444.3" width="9.9" height="2.9"/>
<rect class="G" x="168.1" y="444.3" width="9.9" height="2.9"/>
<rect class="G" x="91.5" y="428.6" width="9.9" height="21.3"/>
<rect class="T" x="149.0" y="447.0" width="19.5" height="2.9"/>
<rect class="G" x="177.7" y="447.0" width="29.0" height="2.9"/>
<rect class="A" x="283.1" y="447.0" width="29.0" height="2.9"/>
<rect class="G" x="225.6" y="447.0" width="29.0" height="2.9"/>
<rect class="C" x="168.1" y="447.0" width="9.9" height="2.9"/>
<rect class="C" x="340.6" y="447.0" width="9.9" height="2.9"/>
<rect class="C" x="311.8" y="447.0" width="19.5" height="2.9"/>
<rect class="G" x="331.0" y="447.0" width="9.9" height="2.9"/>
<rect class="C" x="254.3" y="447.0" width="9.9" height="2.9"/>
<rect class="T" x="273.5" y="447.0" width="9.9" height="2.9"/>
<rect class="T" x="81.9" y="447.0" width="9.9" height="2.9"/>
<rect class="A" x="216.0" y="447.0" width="9.9" height="2.9"/>
<rect class="A" x="34.0" y="447.0" width="48.2" height="2.9"/>
<rect class="A" x="263.9" y="447.0" width="9.9" height="2.9"/>
<rect class="A" x="359.7" y="447.0" width="38.6" height="2.9"/>
<rect class="T" x="206.4" y="447.0" width="9.9" height="2.9"/>
<rect class="C" x="101.1" y="447.0" width="29.0" height="5.6"/>
<rect class="G" x="350.1" y="447.0" width="9.9" height="5.6"/>
<rect class="C" x="139.4" y="447.0" width="9.9" height="5.6"/>
<rect class="T" x="129.8" y="447.0" width="9.9" height="5.6"/>
<rect class="C" x="321.4" y="449.6" width="9.9" height="2.9"/>
<rect class="G" x="72.3" y="449.6" width="29.0" height="2.9"/>
<rect class="T" x="216.0" y="449.6" width="9.9" height="2.9"/>
<rect class="A" x="311.8" y="449.6" width="9.9" height="2.9"/>
<rect class="T" x="254.3" y="449.6" width="9.9" height="2.9"/>
<rect class="G" x="263.9" y="449.6" width="29.0" height="2.9"/>
<rect class="G" x="235.2" y="449.6" width="19.5" height="2.9"/>
<rect class="T" x="62.7" y="449.6" width="9.9" height="2.9"/>
<rect class="G" x="158.5" y="449.6" width="19.5" height="2.9"/>
<rect class="G" x="187.3" y="449.6" width="9.9" height="2.9"/>
<rect class="C" x="225.6" y="449.6" width="9.9" height="2.9"/>
<rect class="C" x="292.7" y="449.6" width="19.5" height="2.9"/>
<rect class="C" x="196.9" y="449.6" width="19.5" height="2.9"/>
<rect class="A" x="34.0" y="449.6" width="29.0" height="2.9"/>
<rect class="C" x="388.5" y="449.6" width="9.9" height="2.9"/>
<rect class="T" x="378.9" y="449.6" width="9.9" height="2.9"/>
<rect class="A" x="331.0" y="449.6" width="19.5" height="2.9"/>
<rect class="A" x="359.7" y="449.6" width="19.5" height="2.9"/>
<rect class="A" x="273.5" y="452.2" width="19.5" height="2.9"/>
<rect class="G" x="216.0" y="452.2" width="9.9" height="2.9"/>
<rect class="G" x="263.9" y="452.2" width="9.9" height="2.9"/>
<rect class="G" x="62.7" y="452.2" width="9.9" height="2.9"/>
<rect class="C" x="225.6" y="452.2" width="19.5" height="2.9"/>
<rect class="G" x="244.8" y="452.2" width="9.9" height="2.9"/>
<rect class="T" x="378.9" y="452.2" width="19.5" height="2.9"/>
<rect class="C" x="206.4" y="452.2" width="9.9" height="2.9"/>
<rect class="G" x="340.6" y="452.2" width="38.6" height="2.9"/>
<rect class="A" x="254.3" y="452.2" width="9.9" height="2.9"/>
<rect class="C" x="158.5" y="452.2" width="19.5" height="2.9"/>
<rect class="T" x="292.7" y="452.2" width="48.2" height="2.9"/>
<rect class="C" x="81.9" y="452.2" width="9.9" height="5.6"/>
<rect class="G" x="34.0" y="452.2" width="19.5" height="5.6"/>
<rect class="A" x="53.2" y="452.2" width="9.9" height="5.6"/>
<rect class="T" x="72.3" y="452.2" width="9.9" height="5.6"/>
<rect class="G" x="244.8" y="454.8" width="19.5" height="2.9"/>
<rect class="G" x="311.8" y="454.8" width="19.5" height="2.9"/>
<rect class="A" x="263.9" y="454.8" width="48.2" height="2.9"/>
<rect class="C" x="340.6" y="454.8" width="9.9" height="2.9"/>
<rect class="A" x="225.6" y="454.8" width="19.5" height="2.9"/>
<rect class="C" x="216.0" y="454.8" width="9.9" height="2.9"/>
<rect class="A" x="206.4" y="454.8" width="9.9" height="2.9"/>
<rect class="G" x="350.1" y="454.8" width="48.2" height="2.9"/>
<rect class="C" x="62.7" y="454.8" width="9.9" height="2.9"/>
<rect class="C" x="101.1" y="452.2" width="48.2" height="8.2"/>
<rect class="A" x="331.0" y="454.8" width="9.9" height="5.6"/>
<rect class="G" x="158.5" y="454.8" width="19.5" height="5.6"/>
<rect class="A" x="43.6" y="457.5" width="19.5" height="2.9"/>
<rect class="C" x="206.4" y="457.5" width="19.5" height="2.9"/>
<rect class="T" x="340.6" y="457.5" width="9.9" height="2.9"/>
<rect class="A" x="388.5" y="457.5" width="9.9" height="2.9"/>
<rect class="G" x="34.0" y="457.5" width="9.9" height="2.9"/>
<rect class="C" x="62.7" y="457.5" width="29.0" height="2.9"/>
<rect class="A" x="292.7" y="457.5" width="29.0" height="2.9"/>
<rect class="G" x="321.4" y="457.5" width="9.9" height="2.9"/>
<rect class="G" x="350.1" y="457.5" width="29.0" height="2.9"/>
<rect class="A" x="244.8" y="457.5" width="19.5" height="2.9"/>
<rect class="C" x="263.9" y="457.5" width="29.0" height="2.9"/>
<rect class="T" x="225.6" y="457.5" width="19.5" height="2.9"/>
<rect class="T" x="378.9" y="457.5" width="9.9" height="2.9"/>
<rect class="G" x="225.6" y="460.1" width="9.9" height="2.9"/>
<rect class="A" x="254.3" y="460.1" width="19.5" height="2.9"/>
<rect class="C" x="369.3" y="460.1" width="29.0" height="2.9"/>
<rect class="C" x="168.1" y="460.1" width="9.9" height="2.9"/>
<rect class="G" x="53.2" y="460.1" width="29.0" height="2.9"/>
<rect class="A" x="235.2" y="460.1" width="9.9" height="2.9"/>
<rect class="A" x="43.6" y="460.1" width="9.9" height="2.9"/>
<rect class="C" x="206.4" y="460.1" width="9.9" height="2.9"/>
<rect class="G" x="302.2" y="460.1" width="67.4" height="2.9"/>
<rect class="T" x="81.9" y="460.1" width="9.9" height="2.9"/>
<rect class="A" x="216.0" y="460.1" width="9.9" height="2.9"/>
<rect class="T" x="273.5" y="460.1" width="29.0" height="2.9"/>
<rect class="C" x="244.8" y="460.1" width="9.9" height="2.9"/>
<rect class="G" x="158.5" y="460.1" width="9.9" height="2.9"/>
<rect class="C" x="101.1" y="460.1" width="29.0" height="5.6"/>
<rect class="C" x="139.4" y="460.1" width="9.9" height="5.6"/>
<rect class="T" x="129.8" y="460.1" width="9.9" height="5.6"/>
<rect class="A" x="43.6" y="462.7" width="19.5" height="2.9"/>
<rect class="G" x="72.3" y="462.7" width="9.9" height="2.9"/>
<rect class="C" x="206.4" y="462.7" width="38.6" height="2.9"/>
<rect class="C" x="331.0" y="462.7" width="29.0" height="2.9"/>
<rect class="G" x="244.8" y="462.7" width="9.9" height="2.9"/>
<rect class="A" x="254.3" y="462.7" width="76.9" height="2.9"/>
<rect class="G" x="359.7" y="462.7" width="9.9" height="2.9"/>
<rect class="A" x="369.3" y="462.7" width="19.5" height="2.9"/>
<rect class="C" x="388.5" y="462.7" width="9.9" height="2.9"/>
<rect class="C" x="62.7" y="462.7" width="9.9" height="2.9"/>
<rect class="T" x="177.7" y="449.6" width="9.9" height="18.7"/>
<rect class="C" x="34.0" y="460.1" width="9.9" height="8.2"/>
<rect class="C" x="81.9" y="462.7" width="9.9" height="5.6"/>
<rect class="G" x="168.1" y="462.7" width="9.9" height="5.6"/>
<rect class="T" x="62.7" y="465.3" width="19.5" height="2.9"/>
<rect class="G" x="216.0" y="465.3" width="9.9" height="2.9"/>
<rect class="C" x="340.6" y="465.3" width="57.8" height="2.9"/>
<rect class="C" x="101.1" y="465.3" width="48.2" height="2.9"/>
<rect class="A" x="244.8" y="465.3" width="48.2" height="2.9"/>
<rect class="C" x="235.2" y="465.3" width="9.9" height="2.9"/>
<rect class="A" x="302.2" y="465.3" width="38.6" height="2.9"/>
<rect class="T" x="292.7" y="465.3" width="9.9" height="2.9"/>
<rect class="G" x="43.6" y="465.3" width="9.9" height="2.9"/>
<rect class="A" x="225.6" y="465.3" width="9.9" height="2.9"/>
<rect class="G" x="187.3" y="452.2" width="19.5" height="18.7"/>
<rect class="C" x="158.5" y="462.7" width="9.9" height="8.2"/>
<rect class="A" x="53.2" y="465.3" width="9.9" height="5.6"/>
<rect class="T" x="206.4" y="465.3" width="9.9" height="5.6"/>
<rect class="A" x="388.5" y="468.0" width="9.9" height="2.9"/>
<rect class="C" x="129.8" y="468.0" width="19.5" height="2.9"/>
<rect class="T" x="120.2" y="468.0" width="9.9" height="2.9"/>
<rect class="T" x="302.2" y="468.0" width="9.9" height="2.9"/>
<rect class="G" x="62.7" y="468.0" width="9.9" height="2.9"/>
<rect class="T" x="168.1" y="468.0" width="19.5" height="2.9"/>
<rect class="C" x="101.1" y="468.0" width="19.5" height="2.9"/>
<rect class="G" x="34.0" y="468.0" width="19.5" height="2.9"/>
<rect class="T" x="72.3" y="468.0" width="19.5" height="2.9"/>
<rect class="C" x="216.0" y="468.0" width="29.0" height="2.9"/>
<rect class="G" x="331.0" y="468.0" width="9.9" height="2.9"/>
<rect class="T" x="350.1" y="468.0" width="29.0" height="2.9"/>
<rect class="A" x="311.8" y="468.0" width="19.5" height="2.9"/>
<rect class="G" x="378.9" y="468.0" width="9.9" height="2.9"/>
<rect class="A" x="244.8" y="468.0" width="57.8" height="2.9"/>
<rect class="C" x="340.6" y="468.0" width="9.9" height="5.6"/>
<rect class="G" x="283.1" y="470.6" width="19.5" height="2.9"/>
<rect class="G" x="72.3" y="470.6" width="9.9" height="2.9"/>
<rect class="C" x="101.1" y="470.6" width="29.0" height="2.9"/>
<rect class="C" x="81.9" y="470.6" width="9.9" height="2.9"/>
<rect class="C" x="43.6" y="470.6" width="9.9" height="2.9"/>
<rect class="C" x="302.2" y="470.6" width="19.5" height="2.9"/>
<rect class="A" x="273.5" y="470.6" width="9.9" height="2.9"/>
<rect class="A" x="53.2" y="470.6" width="19.5" height="2.9"/>
<rect class="C" x="196.9" y="470.6" width="9.9" height="2.9"/>
<rect class="T" x="206.4" y="470.6" width="19.5" height="2.9"/>
<rect class="G" x="254.3" y="470.6" width="19.5" height="2.9"/>
<rect class="G" x="187.3" y="470.6" width="9.9" height="2.9"/>
<rect class="G" x="350.1" y="470.6" width="29.0" height="2.9"/>
<rect class="A" x="321.4" y="470.6" width="19.5" height="2.9"/>
<rect class="A" x="34.0" y="470.6" width="9.9" height="2.9"/>
<rect class="C" x="139.4" y="470.6" width="9.9" height="2.9"/>
<rect class="T" x="129.8" y="470.6" width="9.9" height="2.9"/>
<rect class="C" x="225.6" y="470.6" width="29.0" height="2.9"/>
<rect class="C" x="378.9" y="470.6" width="19.5" height="2.9"/>
<rect class="G" x="158.5" y="470.6" width="9.9" height="5.6"/>
<rect class="G" x="340.6" y="473.2" width="9.9" height="2.9"/>
<rect class="C" x="283.1" y="473.2" width="48.2" height="2.9"/>
<rect class="C" x="101.1" y="473.2" width="48.2" height="2.9"/>
<rect class="T" x="53.2" y="473.2" width="9.9" height="2.9"/>
<rect class="A" x="331.0" y="473.2" width="9.9" height="2.9"/>
<rect class="A" x="34.0" y="473.2" width="19.5" height="2.9"/>
<rect class="T" x="350.1" y="473.2" width="9.9" height="2.9"/>
<rect class="A" x="369.3" y="473.2" width="29.0" height="2.9"/>
<rect class="G" x="235.2" y="473.2" width="38.6" height="2.9"/>
<rect class="G" x="359.7" y="473.2" width="9.9" height="2.9"/>
<rect class="T" x="72.3" y="473.2" width="19.5" height="2.9"/>
<rect class="T" x="273.5" y="473.2" width="9.9" height="2.9"/>
<rect class="T" x="206.4" y="473.2" width="29.0" height="2.9"/>
<rect class="C" x="62.7" y="473.2" width="9.9" height="2.9"/>
<rect class="C" x="168.1" y="470.6" width="9.9" height="8.2"/>
<rect class="T" x="340.6" y="475.9" width="9.9" height="2.9"/>
<rect class="G" x="350.1" y="475.9" width="19.5" height="2.9"/>
<rect class="T" x="34.0" y="475.9" width="48.2" height="2.9"/>
<rect class="G" x="216.0" y="475.9" width="29.0" height="2.9"/>
<rect class="T" x="263.9" y="475.9" width="9.9" height="2.9"/>
<rect class="A" x="273.5" y="475.9" width="38.6" height="2.9"/>
<rect class="C" x="81.9" y="475.9" width="9.9" height="2.9"/>
<rect class="A" x="369.3" y="475.9" width="9.9" height="2.9"/>
<rect class="C" x="378.9" y="475.9" width="9.9" height="2.9"/>
<rect class="C" x="244.8" y="475.9" width="19.5" height="2.9"/>
<rect class="C" x="311.8" y="475.9" width="19.5" height="2.9"/>
<rect class="G" x="331.0" y="475.9" width="9.9" height="2.9"/>
<rect class="T" x="206.4" y="475.9" width="9.9" height="2.9"/>
<rect class="C" x="101.1" y="475.9" width="29.0" height="5.6"/>
<rect class="G" x="388.5" y="475.9" width="9.9" height="5.6"/>
<rect class="A" x="158.5" y="475.9" width="9.9" height="5.6"/>
<rect class="C" x="139.4" y="475.9" width="9.9" height="5.6"/>
<rect class="T" x="129.8" y="475.9" width="9.9" height="5.6"/>
<rect class="G" x="34.0" y="478.5" width="9.9" height="2.9"/>
<rect class="T" x="43.6" y="478.5" width="38.6" height="2.9"/>
<rect class="G" x="235.2" y="478.5" width="19.5" height="2.9"/>
<rect class="A" x="81.9" y="478.5" width="9.9" height="2.9"/>
<rect class="T" x="350.1" y="478.5" width="9.9" height="2.9"/>
<rect class="A" x="359.7" y="478.5" width="29.0" height="2.9"/>
<rect class="A" x="311.8" y="478.5" width="38.6" height="2.9"/>
<rect class="T" x="206.4" y="478.5" width="29.0" height="2.9"/>
<rect class="T" x="254.3" y="478.5" width="57.8" height="2.9"/>
<rect class="G" x="168.1" y="478.5" width="9.9" height="2.9"/>
<rect class="G" x="283.1" y="481.1" width="19.5" height="2.9"/>
<rect class="A" x="388.5" y="481.1" width="9.9" height="2.9"/>
<rect class="C" x="273.5" y="481.1" width="9.9" height="2.9"/>
<rect class="A" x="369.3" y="481.1" width="9.9" height="2.9"/>
<rect class="G" x="158.5" y="481.1" width="19.5" height="2.9"/>
<rect class="C" x="72.3" y="481.1" width="9.9" height="2.9"/>
<rect class="T" x="359.7" y="481.1" width="9.9" height="2.9"/>
<rect class="T" x="81.9" y="481.1" width="9.9" height="2.9"/>
<rect class="T" x="302.2" y="481.1" width="19.5" height="2.9"/>
<rect class="G" x="216.0" y="481.1" width="57.8" height="2.9"/>
<rect class="A" x="321.4" y="481.1" width="38.6" height="2.9"/>
<rect class="T" x="378.9" y="481.1" width="9.9" height="2.9"/>
<rect class="T" x="149.0" y="449.6" width="9.9" height="37.1"/>
<rect class="T" x="53.2" y="481.1" width="9.9" height="5.6"/>
<rect class="G" x="62.7" y="481.1" width="9.9" height="5.6"/>
<rect class="A" x="206.4" y="481.1" width="9.9" height="5.6"/>
<rect class="G" x="340.6" y="483.7" width="9.9" height="2.9"/>
<rect class="A" x="378.9" y="483.7" width="19.5" height="2.9"/>
<rect class="C" x="369.3" y="483.7" width="9.9" height="2.9"/>
<rect class="C" x="81.9" y="483.7" width="9.9" height="2.9"/>
<rect class="A" x="331.0" y="483.7" width="9.9" height="2.9"/>
<rect class="T" x="283.1" y="483.7" width="9.9" height="2.9"/>
<rect class="T" x="321.4" y="483.7" width="9.9" height="2.9"/>
<rect class="G" x="311.8" y="483.7" width="9.9" height="2.9"/>
<rect class="A" x="72.3" y="483.7" width="9.9" height="2.9"/>
<rect class="G" x="292.7" y="483.7" width="9.9" height="2.9"/>
<rect class="C" x="302.2" y="483.7" width="9.9" height="2.9"/>
<rect class="C" x="216.0" y="483.7" width="67.4" height="2.9"/>
<rect class="G" x="158.5" y="483.7" width="9.9" height="2.9"/>
<rect class="T" x="350.1" y="483.7" width="19.5" height="2.9"/>
<rect class="G" x="91.5" y="452.2" width="9.9" height="37.1"/>
<rect class="T" x="177.7" y="470.6" width="9.9" height="18.7"/>
<rect class="G" x="187.3" y="473.2" width="19.5" height="16.1"/>
<rect class="C" x="34.0" y="481.1" width="19.5" height="8.2"/>
<rect class="A" x="235.2" y="486.4" width="19.5" height="2.9"/>
<rect class="T" x="216.0" y="486.4" width="19.5" height="2.9"/>
<rect class="C" x="388.5" y="486.4" width="9.9" height="2.9"/>
<rect class="T" x="72.3" y="486.4" width="19.5" height="2.9"/>
<rect class="T" x="311.8" y="486.4" width="76.9" height="2.9"/>
<rect class="A" x="53.2" y="486.4" width="19.5" height="2.9"/>
<rect class="C" x="263.9" y="486.4" width="48.2" height="2.9"/>
<rect class="C" x="206.4" y="486.4" width="9.9" height="5.6"/>
<rect class="T" x="149.0" y="486.4" width="19.5" height="5.6"/>
<rect class="G" x="254.3" y="486.4" width="9.9" height="5.6"/>
<rect class="G" x="350.1" y="489.0" width="19.5" height="2.9"/>
<rect class="G" x="34.0" y="489.0" width="9.9" height="2.9"/>
<rect class="G" x="177.7" y="489.0" width="29.0" height="2.9"/>
<rect class="G" x="225.6" y="489.0" width="9.9" height="2.9"/>
<rect class="A" x="43.6" y="489.0" width="9.9" height="2.9"/>
<rect class="A" x="263.9" y="489.0" width="19.5" height="2.9"/>
<rect class="A" x="91.5" y="489.0" width="9.9" height="2.9"/>
<rect class="A" x="72.3" y="489.0" width="9.9" height="2.9"/>
<rect class="C" x="283.1" y="489.0" width="38.6" height="2.9"/>
<rect class="A" x="340.6" y="489.0" width="9.9" height="2.9"/>
<rect class="T" x="81.9" y="489.0" width="9.9" height="2.9"/>
<rect class="A" x="216.0" y="489.0" width="9.9" height="2.9"/>
<rect class="G" x="53.2" y="489.0" width="19.5" height="2.9"/>
<rect class="T" x="369.3" y="489.0" width="29.0" height="2.9"/>
<rect class="C" x="235.2" y="489.0" width="19.5" height="2.9"/>
<rect class="T" x="321.4" y="489.0" width="19.5" height="2.9"/>
<rect class="C" x="101.1" y="481.1" width="48.2" height="13.4"/>
<rect class="G" x="53.2" y="491.6" width="9.9" height="2.9"/>
<rect class="T" x="62.7" y="491.6" width="29.0" height="2.9"/>
<rect class="C" x="206.4" y="491.6" width="19.5" height="2.9"/>
<rect class="G" x="359.7" y="491.6" width="38.6" height="2.9"/>
<rect class="C" x="244.8" y="491.6" width="19.5" height="2.9"/>
<rect class="C" x="302.2" y="491.6" width="29.0" height="2.9"/>
<rect class="G" x="225.6" y="491.6" width="19.5" height="2.9"/>
<rect class="G" x="158.5" y="491.6" width="9.9" height="2.9"/>
<rect class="A" x="263.9" y="491.6" width="38.6" height="2.9"/>
<rect class="C" x="168.1" y="483.7" width="9.9" height="13.4"/>
<rect class="G" x="187.3" y="491.6" width="19.5" height="5.6"/>
<rect class="A" x="34.0" y="491.6" width="9.9" height="5.6"/>
<rect class="T" x="43.6" y="491.6" width="9.9" height="5.6"/>
<rect class="A" x="331.0" y="491.6" width="29.0" height="5.6"/>
<rect class="C" x="216.0" y="494.2" width="19.5" height="2.9"/>
<rect class="C" x="254.3" y="494.2" width="19.5" height="2.9"/>
<rect class="G" x="302.2" y="494.2" width="29.0" height="2.9"/>
<rect class="A" x="273.5" y="494.2" width="9.9" height="2.9"/>
<rect class="T" x="244.8" y="494.2" width="9.9" height="2.9"/>
<rect class="T" x="101.1" y="494.2" width="9.9" height="2.9"/>
<rect class="A" x="292.7" y="494.2" width="9.9" height="2.9"/>
<rect class="T" x="283.1" y="494.2" width="9.9" height="2.9"/>
<rect class="G" x="53.2" y="494.2" width="29.0" height="2.9"/>
<rect class="A" x="235.2" y="494.2" width="9.9" height="2.9"/>
<rect class="A" x="206.4" y="494.2" width="9.9" height="2.9"/>
<rect class="T" x="81.9" y="494.2" width="9.9" height="2.9"/>
<rect class="C" x="110.6" y="494.2" width="19.5" height="2.9"/>
<rect class="C" x="359.7" y="494.2" width="38.6" height="2.9"/>
<rect class="T" x="129.8" y="494.2" width="9.9" height="2.9"/>
<rect class="T" x="149.0" y="491.6" width="9.9" height="8.2"/>
<rect class="A" x="158.5" y="494.2" width="9.9" height="5.6"/>
<rect class="C" x="139.4" y="494.2" width="9.9" height="5.6"/>
<rect class="A" x="340.6" y="496.9" width="19.5" height="2.9"/>
<rect class="C" x="101.1" y="496.9" width="29.0" height="2.9"/>
<rect class="G" x="34.0" y="496.9" width="48.2" height="2.9"/>
<rect class="T" x="359.7" y="496.9" width="19.5" height="2.9"/>
<rect class="T" x="225.6" y="496.9" width="9.9" height="2.9"/>
<rect class="C" x="81.9" y="496.9" width="9.9" height="2.9"/>
<rect class="C" x="196.9" y="496.9" width="9.9" height="2.9"/>
<rect class="G" x="168.1" y="496.9" width="9.9" height="2.9"/>
<rect class="C" x="235.2" y="496.9" width="29.0" height="2.9"/>
<rect class="A" x="378.9" y="496.9" width="9.9" height="2.9"/>
<rect class="G" x="311.8" y="496.9" width="29.0" height="2.9"/>
<rect class="G" x="187.3" y="496.9" width="9.9" height="2.9"/>
<rect class="C" x="292.7" y="496.9" width="19.5" height="2.9"/>
<rect class="C" x="388.5" y="496.9" width="9.9" height="2.9"/>
<rect class="G" x="129.8" y="496.9" width="9.9" height="2.9"/>
<rect class="A" x="263.9" y="496.9" width="29.0" height="2.9"/>
<rect class="T" x="139.4" y="499.5" width="19.5" height="2.9"/>
<rect class="C" x="350.1" y="499.5" width="9.9" height="2.9"/>
<rect class="G" x="225.6" y="499.5" width="9.9" height="2.9"/>
<rect class="C" x="292.7" y="499.5" width="9.9" height="2.9"/>
<rect class="A" x="359.7" y="499.5" width="9.9" height="2.9"/>
<rect class="G" x="331.0" y="499.5" width="19.5" height="2.9"/>
<rect class="C" x="43.6" y="499.5" width="9.9" height="2.9"/>
<rect class="T" x="302.2" y="499.5" width="29.0" height="2.9"/>
<rect class="A" x="273.5" y="499.5" width="9.9" height="2.9"/>
<rect class="C" x="129.8" y="499.5" width="9.9" height="2.9"/>
<rect class="G" x="283.1" y="499.5" width="9.9" height="2.9"/>
<rect class="T" x="235.2" y="499.5" width="38.6" height="2.9"/>
<rect class="T" x="369.3" y="499.5" width="9.9" height="2.9"/>
<rect class="A" x="34.0" y="499.5" width="9.9" height="2.9"/>
<rect class="G" x="378.9" y="499.5" width="9.9" height="2.9"/>
<rect class="T" x="53.2" y="499.5" width="9.9" height="5.6"/>
<rect class="T" x="388.5" y="499.5" width="9.9" height="5.6"/>
<rect class="G" x="158.5" y="499.5" width="19.5" height="5.6"/>
<rect class="C" x="101.1" y="499.5" width="19.5" height="5.6"/>
<rect class="T" x="81.9" y="499.5" width="9.9" height="5.6"/>
<rect class="A" x="62.7" y="499.5" width="19.5" height="5.6"/>
<rect class="A" x="120.2" y="499.5" width="9.9" height="5.6"/>
<rect class="C" x="129.8" y="502.1" width="19.5" height="2.9"/>
<rect class="A" x="34.0" y="502.1" width="19.5" height="2.9"/>
<rect class="T" x="149.0" y="502.1" width="9.9" height="2.9"/>
<rect class="A" x="378.9" y="502.1" width="9.9" height="2.9"/>
<rect class="T" x="350.1" y="502.1" width="29.0" height="2.9"/>
<rect class="A" x="311.8" y="502.1" width="38.6" height="2.9"/>
<rect class="C" x="302.2" y="502.1" width="9.9" height="2.9"/>
<rect class="G" x="273.5" y="502.1" width="29.0" height="2.9"/>
<rect class="G" x="225.6" y="502.1" width="38.6" height="2.9"/>
<rect class="A" x="206.4" y="496.9" width="19.5" height="10.8"/>
<rect class="G" x="187.3" y="499.5" width="19.5" height="8.2"/>
<rect class="T" x="263.9" y="502.1" width="9.9" height="5.6"/>
<rect class="A" x="235.2" y="504.7" width="19.5" height="2.9"/>
<rect class="C" x="72.3" y="504.7" width="19.5" height="2.9"/>
<rect class="G" x="254.3" y="504.7" width="9.9" height="2.9"/>
<rect class="C" x="101.1" y="504.7" width="48.2" height="2.9"/>
<rect class="T" x="225.6" y="504.7" width="9.9" height="2.9"/>
<rect class="A" x="350.1" y="504.7" width="48.2" height="2.9"/>
<rect class="T" x="321.4" y="504.7" width="9.9" height="2.9"/>
<rect class="C" x="273.5" y="504.7" width="29.0" height="2.9"/>
<rect class="A" x="302.2" y="504.7" width="19.5" height="2.9"/>
<rect class="C" x="331.0" y="504.7" width="19.5" height="2.9"/>
<rect class="G" x="168.1" y="504.7" width="9.9" height="2.9"/>
<rect class="T" x="149.0" y="504.7" width="19.5" height="5.6"/>
<rect class="A" x="34.0" y="504.7" width="29.0" height="5.6"/>
<rect class="A" x="378.9" y="507.4" width="19.5" height="2.9"/>
<rect class="A" x="283.1" y="507.4" width="9.9" height="2.9"/>
<rect class="A" x="350.1" y="507.4" width="9.9" height="2.9"/>
<rect class="A" x="110.6" y="507.4" width="9.9" height="2.9"/>
<rect class="T" x="331.0" y="507.4" width="19.5" height="2.9"/>
<rect class="G" x="263.9" y="507.4" width="9.9" height="2.9"/>
<rect class="C" x="72.3" y="507.4" width="9.9" height="2.9"/>
<rect class="T" x="359.7" y="507.4" width="9.9" height="2.9"/>
<rect class="G" x="369.3" y="507.4" width="9.9" height="2.9"/>
<rect class="T" x="273.5" y="507.4" width="9.9" height="2.9"/>
<rect class="T" x="81.9" y="507.4" width="9.9" height="2.9"/>
<rect class="C" x="292.7" y="507.4" width="19.5" height="2.9"/>
<rect class="A" x="311.8" y="507.4" width="19.5" height="2.9"/>
<rect class="C" x="120.2" y="507.4" width="9.9" height="2.9"/>
<rect class="A" x="254.3" y="507.4" width="9.9" height="2.9"/>
<rect class="C" x="101.1" y="507.4" width="9.9" height="2.9"/>
<rect class="G" x="187.3" y="507.4" width="67.4" height="2.9"/>
<rect class="C" x="139.4" y="507.4" width="9.9" height="5.6"/>
<rect class="T" x="129.8" y="507.4" width="9.9" height="5.6"/>
<rect class="T" x="331.0" y="510.0" width="67.4" height="2.9"/>
<rect class="G" x="254.3" y="510.0" width="29.0" height="2.9"/>
<rect class="C" x="72.3" y="510.0" width="19.5" height="2.9"/>
<rect class="C" x="101.1" y="510.0" width="29.0" height="2.9"/>
<rect class="A" x="206.4" y="510.0" width="19.5" height="2.9"/>
<rect class="A" x="283.1" y="510.0" width="48.2" height="2.9"/>
<rect class="A" x="158.5" y="510.0" width="9.9" height="2.9"/>
<rect class="C" x="225.6" y="510.0" width="9.9" height="2.9"/>
<rect class="C" x="53.2" y="510.0" width="9.9" height="2.9"/>
<rect class="G" x="235.2" y="510.0" width="9.9" height="2.9"/>
<rect class="C" x="244.8" y="510.0" width="9.9" height="2.9"/>
<rect class="C" x="168.1" y="507.4" width="9.9" height="8.2"/>
<rect class="T" x="149.0" y="510.0" width="9.9" height="5.6"/>
<rect class="T" x="34.0" y="510.0" width="19.5" height="5.6"/>
<rect class="C" x="350.1" y="512.6" width="9.9" height="2.9"/>
<rect class="C" x="273.5" y="512.6" width="9.9" height="2.9"/>
<rect class="A" x="206.4" y="512.6" width="38.6" height="2.9"/>
<rect class="T" x="263.9" y="512.6" width="9.9" height="2.9"/>
<rect class="T" x="359.7" y="512.6" width="9.9" height="2.9"/>
<rect class="C" x="244.8" y="512.6" width="19.5" height="2.9"/>
<rect class="A" x="311.8" y="512.6" width="38.6" height="2.9"/>
<rect class="G" x="369.3" y="512.6" width="9.9" height="2.9"/>
<rect class="G" x="283.1" y="512.6" width="29.0" height="2.9"/>
<rect class="T" x="81.9" y="512.6" width="9.9" height="2.9"/>
<rect class="G" x="158.5" y="512.6" width="9.9" height="2.9"/>
<rect class="A" x="53.2" y="512.6" width="9.9" height="2.9"/>
<rect class="G" x="62.7" y="504.7" width="9.9" height="13.4"/>
<rect class="C" x="101.1" y="512.6" width="48.2" height="5.6"/>
<rect class="A" x="72.3" y="512.6" width="9.9" height="5.6"/>
<rect class="C" x="378.9" y="512.6" width="19.5" height="5.6"/>
<rect class="G" x="283.1" y="515.2" width="19.5" height="2.9"/>
<rect class="T" x="216.0" y="515.2" width="9.9" height="2.9"/>
<rect class="G" x="244.8" y="515.2" width="19.5" height="2.9"/>
<rect class="T" x="149.0" y="515.2" width="19.5" height="2.9"/>
<rect class="C" x="81.9" y="515.2" width="9.9" height="2.9"/>
<rect class="T" x="302.2" y="515.2" width="9.9" height="2.9"/>
<rect class="C" x="311.8" y="515.2" width="38.6" height="2.9"/>
<rect class="A" x="225.6" y="515.2" width="19.5" height="2.9"/>
<rect class="A" x="263.9" y="515.2" width="19.5" height="2.9"/>
<rect class="A" x="206.4" y="515.2" width="9.9" height="2.9"/>
<rect class="G" x="350.1" y="515.2" width="29.0" height="2.9"/>
<rect class="C" x="43.6" y="515.2" width="19.5" height="2.9"/>
<rect class="G" x="168.1" y="515.2" width="9.9" height="2.9"/>
<rect class="G" x="187.3" y="510.0" width="19.5" height="10.8"/>
<rect class="C" x="53.2" y="517.9" width="29.0" height="2.9"/>
<rect class="A" x="158.5" y="517.9" width="19.5" height="2.9"/>
<rect class="A" x="378.9" y="517.9" width="19.5" height="2.9"/>
<rect class="T" x="359.7" y="517.9" width="19.5" height="2.9"/>
<rect class="A" x="273.5" y="517.9" width="38.6" height="2.9"/>
<rect class="C" x="101.1" y="517.9" width="19.5" height="2.9"/>
<rect class="C" x="206.4" y="517.9" width="9.9" height="2.9"/>
<rect class="G" x="350.1" y="517.9" width="9.9" height="2.9"/>
<rect class="A" x="340.6" y="517.9" width="9.9" height="2.9"/>
<rect class="T" x="81.9" y="517.9" width="9.9" height="2.9"/>
<rect class="T" x="216.0" y="517.9" width="57.8" height="2.9"/>
<rect class="C" x="139.4" y="517.9" width="9.9" height="2.9"/>
<rect class="T" x="129.8" y="517.9" width="9.9" height="2.9"/>
<rect class="A" x="120.2" y="517.9" width="9.9" height="2.9"/>
<rect class="G" x="311.8" y="517.9" width="9.9" height="5.6"/>
<rect class="T" x="321.4" y="517.9" width="19.5" height="5.6"/>
<rect class="T" x="149.0" y="517.9" width="9.9" height="5.6"/>
<rect class="T" x="216.0" y="520.5" width="9.9" height="2.9"/>
<rect class="A" x="340.6" y="520.5" width="19.5" height="2.9"/>
<rect class="G" x="225.6" y="520.5" width="9.9" height="2.9"/>
<rect class="A" x="283.1" y="520.5" width="29.0" height="2.9"/>
<rect class="G" x="62.7" y="520.5" width="9.9" height="2.9"/>
<rect class="T" x="378.9" y="520.5" width="19.5" height="2.9"/>
<rect class="A" x="235.2" y="520.5" width="9.9" height="2.9"/>
<rect class="T" x="72.3" y="520.5" width="19.5" height="2.9"/>
<rect class="C" x="53.2" y="520.5" width="9.9" height="2.9"/>
<rect class="C" x="359.7" y="520.5" width="19.5" height="2.9"/>
<rect class="A" x="254.3" y="520.5" width="9.9" height="2.9"/>
<rect class="C" x="244.8" y="520.5" width="9.9" height="2.9"/>
<rect class="G" x="158.5" y="520.5" width="9.9" height="2.9"/>
<rect class="G" x="263.9" y="520.5" width="19.5" height="2.9"/>
<rect class="T" x="34.0" y="515.2" width="9.9" height="10.8"/>
<rect class="G" x="43.6" y="517.9" width="9.9" height="8.2"/>
<rect class="C" x="101.1" y="520.5" width="48.2" height="5.6"/>
<rect class="G" x="187.3" y="520.5" width="29.0" height="5.6"/>
<rect class="G" x="292.7" y="523.1" width="29.0" height="2.9"/>
<rect class="A" x="216.0" y="523.1" width="76.9" height="2.9"/>
<rect class="T" x="149.0" y="523.1" width="19.5" height="2.9"/>
<rect class="G" x="62.7" y="523.1" width="19.5" height="2.9"/>
<rect class="C" x="340.6" y="523.1" width="48.2" height="2.9"/>
<rect class="A" x="53.2" y="523.1" width="9.9" height="2.9"/>
<rect class="A" x="321.4" y="523.1" width="19.5" height="2.9"/>
<rect class="T" x="81.9" y="523.1" width="9.9" height="2.9"/>
<rect class="T" x="177.7" y="491.6" width="9.9" height="37.1"/>
<rect class="C" x="168.1" y="520.5" width="9.9" height="8.2"/>
<rect class="A" x="388.5" y="523.1" width="9.9" height="5.6"/>
<rect class="C" x="72.3" y="525.7" width="19.5" height="2.9"/>
<rect class="A" x="331.0" y="525.7" width="9.9" height="2.9"/>
<rect class="T" x="302.2" y="525.7" width="9.9" height="2.9"/>
<rect class="T" x="62.7" y="525.7" width="9.9" height="2.9"/>
<rect class="C" x="378.9" y="525.7" width="9.9" height="2.9"/>
<rect class="T" x="321.4" y="525.7" width="9.9" height="2.9"/>
<rect class="G" x="311.8" y="525.7" width="9.9" height="2.9"/>
<rect class="A" x="235.2" y="525.7" width="9.9" height="2.9"/>
<rect class="C" x="340.6" y="525.7" width="9.9" height="2.9"/>
<rect class="A" x="273.5" y="525.7" width="29.0" height="2.9"/>
<rect class="G" x="369.3" y="525.7" width="9.9" height="2.9"/>
<rect class="C" x="34.0" y="525.7" width="29.0" height="2.9"/>
<rect class="A" x="350.1" y="525.7" width="19.5" height="2.9"/>
<rect class="G" x="187.3" y="525.7" width="9.9" height="2.9"/>
<rect class="C" x="263.9" y="525.7" width="9.9" height="2.9"/>
<rect class="A" x="254.3" y="525.7" width="9.9" height="2.9"/>
<rect class="G" x="206.4" y="525.7" width="29.0" height="2.9"/>
<rect class="C" x="244.8" y="525.7" width="9.9" height="2.9"/>
<rect class="G" x="158.5" y="525.7" width="9.9" height="2.9"/>
<rect class="T" x="196.9" y="525.7" width="9.9" height="2.9"/>
<rect class="G" x="91.5" y="491.6" width="9.9" height="39.7"/>
<rect class="T" x="149.0" y="525.7" width="9.9" height="5.6"/>
<rect class="T" x="129.8" y="525.7" width="9.9" height="5.6"/>
<rect class="A" x="177.7" y="528.4" width="9.9" height="2.9"/>
<rect class="A" x="273.5" y="528.4" width="38.6" height="2.9"/>
<rect class="A" x="244.8" y="528.4" width="19.5" height="2.9"/>
<rect class="G" x="311.8" y="528.4" width="38.6" height="2.9"/>
<rect class="T" x="34.0" y="528.4" width="9.9" height="2.9"/>
<rect class="G" x="235.2" y="528.4" width="9.9" height="2.9"/>
<rect class="C" x="216.0" y="528.4" width="19.5" height="2.9"/>
<rect class="G" x="158.5" y="528.4" width="19.5" height="2.9"/>
<rect class="A" x="359.7" y="528.4" width="38.6" height="2.9"/>
<rect class="T" x="350.1" y="528.4" width="9.9" height="2.9"/>
<rect class="C" x="43.6" y="528.4" width="48.2" height="2.9"/>
<rect class="G" x="187.3" y="528.4" width="29.0" height="2.9"/>
<rect class="C" x="101.1" y="525.7" width="29.0" height="8.2"/>
<rect class="C" x="139.4" y="525.7" width="9.9" height="8.2"/>
<rect class="G" x="263.9" y="528.4" width="9.9" height="5.6"/>
<rect class="C" x="206.4" y="531.0" width="9.9" height="2.9"/>
<rect class="C" x="235.2" y="531.0" width="29.0" height="2.9"/>
<rect class="C" x="340.6" y="531.0" width="9.9" height="2.9"/>
<rect class="A" x="34.0" y="531.0" width="19.5" height="2.9"/>
<rect class="T" x="149.0" y="531.0" width="19.5" height="2.9"/>
<rect class="G" x="302.2" y="531.0" width="38.6" height="2.9"/>
<rect class="A" x="350.1" y="531.0" width="38.6" height="2.9"/>
<rect class="G" x="53.2" y="531.0" width="48.2" height="2.9"/>
<rect class="G" x="129.8" y="531.0" width="9.9" height="2.9"/>
<rect class="G" x="216.0" y="531.0" width="19.5" height="2.9"/>
<rect class="C" x="273.5" y="531.0" width="29.0" height="2.9"/>
<rect class="G" x="168.1" y="531.0" width="9.9" height="2.9"/>
<rect class="G" x="388.5" y="531.0" width="9.9" height="5.6"/>
<rect class="G" x="292.7" y="533.6" width="19.5" height="2.9"/>
<rect class="A" x="34.0" y="533.6" width="9.9" height="2.9"/>
<rect class="C" x="359.7" y="533.6" width="29.0" height="2.9"/>
<rect class="A" x="321.4" y="533.6" width="29.0" height="2.9"/>
<rect class="A" x="283.1" y="533.6" width="9.9" height="2.9"/>
<rect class="C" x="43.6" y="533.6" width="38.6" height="2.9"/>
<rect class="C" x="206.4" y="533.6" width="76.9" height="2.9"/>
<rect class="G" x="158.5" y="533.6" width="9.9" height="2.9"/>
<rect class="C" x="311.8" y="533.6" width="9.9" height="2.9"/>
<rect class="C" x="168.1" y="533.6" width="9.9" height="2.9"/>
<rect class="T" x="350.1" y="533.6" width="9.9" height="2.9"/>
<rect class="G" x="187.3" y="531.0" width="19.5" height="8.2"/>
<rect class="C" x="101.1" y="533.6" width="48.2" height="5.6"/>
<rect class="T" x="81.9" y="533.6" width="9.9" height="5.6"/>
<rect class="A" x="244.8" y="536.2" width="9.9" height="2.9"/>
<rect class="C" x="206.4" y="536.2" width="38.6" height="2.9"/>
<rect class="C" x="254.3" y="536.2" width="29.0" height="2.9"/>
<rect class="G" x="302.2" y="536.2" width="19.5" height="2.9"/>
<rect class="A" x="378.9" y="536.2" width="19.5" height="2.9"/>
<rect class="A" x="34.0" y="536.2" width="48.2" height="2.9"/>
<rect class="A" x="283.1" y="536.2" width="19.5" height="2.9"/>
<rect class="T" x="321.4" y="536.2" width="29.0" height="2.9"/>
<rect class="G" x="158.5" y="536.2" width="19.5" height="2.9"/>
<rect class="G" x="350.1" y="536.2" width="29.0" height="2.9"/>
<rect class="T" x="177.7" y="531.0" width="9.9" height="10.8"/>
<rect class="G" x="91.5" y="533.6" width="9.9" height="8.2"/>
<rect class="T" x="149.0" y="533.6" width="9.9" height="8.2"/>
<rect class="G" x="72.3" y="538.9" width="9.9" height="2.9"/>
<rect class="C" x="206.4" y="538.9" width="19.5" height="2.9"/>
<rect class="A" x="283.1" y="538.9" width="9.9" height="2.9"/>
<rect class="C" x="101.1" y="538.9" width="29.0" height="2.9"/>
<rect class="T" x="292.7" y="538.9" width="19.5" height="2.9"/>
<rect class="G" x="225.6" y="538.9" width="9.9" height="2.9"/>
<rect class="C" x="81.9" y="538.9" width="9.9" height="2.9"/>
<rect class="G" x="388.5" y="538.9" width="9.9" height="2.9"/>
<rect class="C" x="378.9" y="538.9" width="9.9" height="2.9"/>
<rect class="C" x="168.1" y="538.9" width="9.9" height="2.9"/>
<rect class="C" x="235.2" y="538.9" width="48.2" height="2.9"/>
<rect class="C" x="340.6" y="538.9" width="9.9" height="2.9"/>
<rect class="G" x="311.8" y="538.9" width="29.0" height="2.9"/>
<rect class="T" x="350.1" y="538.9" width="29.0" height="2.9"/>
<rect class="T" x="34.0" y="538.9" width="38.6" height="2.9"/>
<rect class="G" x="187.3" y="538.9" width="9.9" height="2.9"/>
<rect class="G" x="129.8" y="538.9" width="9.9" height="2.9"/>
<rect class="T" x="196.9" y="538.9" width="9.9" height="2.9"/>
<rect class="C" x="139.4" y="538.9" width="9.9" height="5.6"/>
<rect class="G" x="158.5" y="538.9" width="9.9" height="5.6"/>
<rect class="G" x="81.9" y="541.5" width="19.5" height="2.9"/>
<rect class="C" x="53.2" y="541.5" width="29.0" height="2.9"/>
<rect class="C" x="168.1" y="541.5" width="19.5" height="2.9"/>
<rect class="A" x="216.0" y="541.5" width="9.9" height="2.9"/>
<rect class="T" x="120.2" y="541.5" width="19.5" height="2.9"/>
<rect class="C" x="225.6" y="541.5" width="9.9" height="2.9"/>
<rect class="G" x="235.2" y="541.5" width="38.6" height="2.9"/>
<rect class="T" x="369.3" y="541.5" width="29.0" height="2.9"/>
<rect class="A" x="273.5" y="541.5" width="9.9" height="2.9"/>
<rect class="T" x="34.0" y="541.5" width="19.5" height="2.9"/>
<rect class="C" x="340.6" y="541.5" width="29.0" height="2.9"/>
<rect class="C" x="101.1" y="541.5" width="19.5" height="2.9"/>
<rect class="T" x="206.4" y="541.5" width="9.9" height="2.9"/>
<rect class="G" x="283.1" y="541.5" width="57.8" height="2.9"/>
<rect class="A" x="149.0" y="541.5" width="9.9" height="5.6"/>
<rect class="G" x="187.3" y="541.5" width="19.5" height="5.6"/>
<rect class="C" x="72.3" y="544.1" width="9.9" height="2.9"/>
<rect class="T" x="206.4" y="544.1" width="38.6" height="2.9"/>
<rect class="G" x="350.1" y="544.1" width="19.5" height="2.9"/>
<rect class="A" x="369.3" y="544.1" width="29.0" height="2.9"/>
<rect class="A" x="273.5" y="544.1" width="29.0" height="2.9"/>
<rect class="A" x="321.4" y="544.1" width="29.0" height="2.9"/>
<rect class="G" x="254.3" y="544.1" width="9.9" height="2.9"/>
<rect class="T" x="34.0" y="544.1" width="29.0" height="2.9"/>
<rect class="G" x="62.7" y="544.1" width="9.9" height="2.9"/>
<rect class="C" x="244.8" y="544.1" width="9.9" height="2.9"/>
<rect class="A" x="81.9" y="544.1" width="9.9" height="2.9"/>
<rect class="C" x="158.5" y="544.1" width="29.0" height="2.9"/>
<rect class="C" x="101.1" y="544.1" width="48.2" height="2.9"/>
<rect class="T" x="263.9" y="544.1" width="9.9" height="2.9"/>
<rect class="C" x="302.2" y="544.1" width="19.5" height="5.6"/>
<rect class="G" x="62.7" y="546.7" width="19.5" height="2.9"/>
<rect class="T" x="43.6" y="546.7" width="19.5" height="2.9"/>
<rect class="C" x="196.9" y="546.7" width="9.9" height="2.9"/>
<rect class="T" x="206.4" y="546.7" width="76.9" height="2.9"/>
<rect class="C" x="34.0" y="546.7" width="9.9" height="2.9"/>
<rect class="A" x="283.1" y="546.7" width="19.5" height="2.9"/>
<rect class="G" x="187.3" y="546.7" width="9.9" height="2.9"/>
<rect class="A" x="321.4" y="546.7" width="57.8" height="2.9"/>
<rect class="T" x="81.9" y="546.7" width="9.9" height="2.9"/>
<rect class="G" x="158.5" y="546.7" width="9.9" height="2.9"/>
<rect class="G" x="378.9" y="546.7" width="9.9" height="2.9"/>
<rect class="C" x="168.1" y="546.7" width="19.5" height="2.9"/>
<rect class="T" x="149.0" y="546.7" width="9.9" height="5.6"/>
<rect class="C" x="139.4" y="546.7" width="9.9" height="5.6"/>
<rect class="C" x="388.5" y="546.7" width="9.9" height="5.6"/>
<rect class="A" x="235.2" y="549.4" width="19.5" height="2.9"/>
<rect class="A" x="43.6" y="549.4" width="19.5" height="2.9"/>
<rect class="T" x="34.0" y="549.4" width="9.9" height="2.9"/>
<rect class="C" x="254.3" y="549.4" width="19.5" height="2.9"/>
<rect class="G" x="187.3" y="549.4" width="19.5" height="2.9"/>
<rect class="C" x="311.8" y="549.4" width="9.9" height="2.9"/>
<rect class="G" x="302.2" y="549.4" width="9.9" height="2.9"/>
<rect class="G" x="273.5" y="549.4" width="19.5" height="2.9"/>
<rect class="C" x="158.5" y="549.4" width="9.9" height="2.9"/>
<rect class="A" x="292.7" y="549.4" width="9.9" height="2.9"/>
<rect class="C" x="177.7" y="549.4" width="9.9" height="2.9"/>
<rect class="T" x="72.3" y="549.4" width="19.5" height="2.9"/>
<rect class="A" x="321.4" y="549.4" width="19.5" height="2.9"/>
<rect class="T" x="359.7" y="549.4" width="29.0" height="2.9"/>
<rect class="T" x="206.4" y="549.4" width="29.0" height="2.9"/>
<rect class="C" x="62.7" y="549.4" width="9.9" height="2.9"/>
<rect class="C" x="340.6" y="549.4" width="19.5" height="2.9"/>
<rect class="G" x="168.1" y="549.4" width="9.9" height="2.9"/>
<rect class="C" x="321.4" y="552.0" width="9.9" height="2.9"/>
<rect class="A" x="388.5" y="552.0" width="9.9" height="2.9"/>
<rect class="C" x="359.7" y="552.0" width="9.9" height="2.9"/>
<rect class="T" x="225.6" y="552.0" width="9.9" height="2.9"/>
<rect class="G" x="62.7" y="552.0" width="9.9" height="2.9"/>
<rect class="C" x="378.9" y="552.0" width="9.9" height="2.9"/>
<rect class="C" x="168.1" y="552.0" width="9.9" height="2.9"/>
<rect class="G" x="311.8" y="552.0" width="9.9" height="2.9"/>
<rect class="C" x="196.9" y="552.0" width="9.9" height="2.9"/>
<rect class="A" x="331.0" y="552.0" width="29.0" height="2.9"/>
<rect class="G" x="283.1" y="552.0" width="9.9" height="2.9"/>
<rect class="A" x="235.2" y="552.0" width="9.9" height="2.9"/>
<rect class="C" x="139.4" y="552.0" width="19.5" height="2.9"/>
<rect class="A" x="158.5" y="552.0" width="9.9" height="2.9"/>
<rect class="T" x="369.3" y="552.0" width="9.9" height="2.9"/>
<rect class="A" x="72.3" y="552.0" width="9.9" height="2.9"/>
<rect class="T" x="177.7" y="552.0" width="19.5" height="2.9"/>
<rect class="A" x="216.0" y="552.0" width="9.9" height="2.9"/>
<rect class="C" x="244.8" y="552.0" width="38.6" height="2.9"/>
<rect class="A" x="292.7" y="552.0" width="19.5" height="2.9"/>
<rect class="G" x="206.4" y="552.0" width="9.9" height="2.9"/>
<rect class="C" x="101.1" y="546.7" width="29.0" height="10.8"/>
<rect class="G" x="34.0" y="552.0" width="9.9" height="5.6"/>
<rect class="C" x="81.9" y="552.0" width="9.9" height="5.6"/>
<rect class="C" x="43.6" y="552.0" width="19.5" height="5.6"/>
<rect class="G" x="340.6" y="554.6" width="9.9" height="2.9"/>
<rect class="A" x="311.8" y="554.6" width="9.9" height="2.9"/>
<rect class="A" x="350.1" y="554.6" width="9.9" height="2.9"/>
<rect class="C" x="359.7" y="554.6" width="29.0" height="2.9"/>
<rect class="G" x="388.5" y="554.6" width="9.9" height="2.9"/>
<rect class="C" x="158.5" y="554.6" width="9.9" height="2.9"/>
<rect class="A" x="292.7" y="554.6" width="9.9" height="2.9"/>
<rect class="C" x="321.4" y="554.6" width="19.5" height="2.9"/>
<rect class="T" x="254.3" y="554.6" width="38.6" height="2.9"/>
<rect class="A" x="62.7" y="554.6" width="19.5" height="2.9"/>
<rect class="G" x="187.3" y="554.6" width="67.4" height="2.9"/>
<rect class="G" x="168.1" y="554.6" width="9.9" height="2.9"/>
<rect class="T" x="129.8" y="546.7" width="9.9" height="13.4"/>
<rect class="C" x="139.4" y="554.6" width="9.9" height="5.6"/>
<rect class="G" x="350.1" y="557.2" width="19.5" height="2.9"/>
<rect class="T" x="369.3" y="557.2" width="19.5" height="2.9"/>
<rect class="A" x="321.4" y="557.2" width="9.9" height="2.9"/>
<rect class="T" x="311.8" y="557.2" width="9.9" height="2.9"/>
<rect class="T" x="101.1" y="557.2" width="9.9" height="2.9"/>
<rect class="G" x="206.4" y="557.2" width="19.5" height="2.9"/>
<rect class="C" x="340.6" y="557.2" width="9.9" height="2.9"/>
<rect class="A" x="225.6" y="557.2" width="19.5" height="2.9"/>
<rect class="T" x="244.8" y="557.2" width="48.2" height="2.9"/>
<rect class="T" x="331.0" y="557.2" width="9.9" height="2.9"/>
<rect class="G" x="187.3" y="557.2" width="9.9" height="2.9"/>
<rect class="G" x="292.7" y="557.2" width="9.9" height="2.9"/>
<rect class="C" x="34.0" y="557.2" width="48.2" height="2.9"/>
<rect class="T" x="81.9" y="557.2" width="9.9" height="2.9"/>
<rect class="C" x="110.6" y="557.2" width="19.5" height="2.9"/>
<rect class="C" x="388.5" y="557.2" width="9.9" height="2.9"/>
<rect class="T" x="196.9" y="557.2" width="9.9" height="2.9"/>
<rect class="C" x="302.2" y="554.6" width="9.9" height="8.2"/>
<rect class="T" x="244.8" y="559.9" width="19.5" height="2.9"/>
<rect class="A" x="378.9" y="559.9" width="19.5" height="2.9"/>
<rect class="C" x="350.1" y="559.9" width="29.0" height="2.9"/>
<rect class="A" x="81.9" y="559.9" width="9.9" height="2.9"/>
<rect class="C" x="263.9" y="559.9" width="19.5" height="2.9"/>
<rect class="G" x="187.3" y="559.9" width="48.2" height="2.9"/>
<rect class="A" x="311.8" y="559.9" width="19.5" height="2.9"/>
<rect class="T" x="283.1" y="559.9" width="19.5" height="2.9"/>
<rect class="T" x="149.0" y="554.6" width="9.9" height="10.8"/>
<rect class="G" x="158.5" y="557.2" width="9.9" height="8.2"/>
<rect class="G" x="72.3" y="559.9" width="9.9" height="5.6"/>
<rect class="C" x="101.1" y="559.9" width="48.2" height="5.6"/>
<rect class="T" x="331.0" y="559.9" width="19.5" height="5.6"/>
<rect class="A" x="34.0" y="559.9" width="38.6" height="5.6"/>
<rect class="A" x="235.2" y="559.9" width="9.9" height="5.6"/>
<rect class="C" x="206.4" y="562.5" width="19.5" height="2.9"/>
<rect class="A" x="321.4" y="562.5" width="9.9" height="2.9"/>
<rect class="G" x="187.3" y="562.5" width="19.5" height="2.9"/>
<rect class="G" x="225.6" y="562.5" width="9.9" height="2.9"/>
<rect class="C" x="350.1" y="562.5" width="48.2" height="2.9"/>
<rect class="C" x="81.9" y="562.5" width="9.9" height="2.9"/>
<rect class="G" x="254.3" y="562.5" width="19.5" height="2.9"/>
<rect class="C" x="244.8" y="562.5" width="9.9" height="2.9"/>
<rect class="C" x="273.5" y="562.5" width="29.0" height="5.6"/>
<rect class="T" x="302.2" y="562.5" width="19.5" height="5.6"/>
<rect class="A" x="235.2" y="565.1" width="19.5" height="2.9"/>
<rect class="C" x="101.1" y="565.1" width="29.0" height="2.9"/>
<rect class="C" x="369.3" y="565.1" width="29.0" height="2.9"/>
<rect class="C" x="206.4" y="565.1" width="29.0" height="2.9"/>
<rect class="A" x="43.6" y="565.1" width="9.9" height="2.9"/>
<rect class="C" x="321.4" y="565.1" width="19.5" height="2.9"/>
<rect class="G" x="359.7" y="565.1" width="9.9" height="2.9"/>
<rect class="C" x="34.0" y="565.1" width="9.9" height="2.9"/>
<rect class="T" x="254.3" y="565.1" width="19.5" height="2.9"/>
<rect class="G" x="187.3" y="565.1" width="9.9" height="2.9"/>
<rect class="C" x="53.2" y="565.1" width="9.9" height="2.9"/>
<rect class="C" x="139.4" y="565.1" width="9.9" height="2.9"/>
<rect class="T" x="129.8" y="565.1" width="9.9" height="2.9"/>
<rect class="T" x="196.9" y="565.1" width="9.9" height="2.9"/>
<rect class="T" x="149.0" y="565.1" width="19.5" height="5.6"/>
<rect class="G" x="62.7" y="565.1" width="19.5" height="5.6"/>
<rect class="T" x="340.6" y="565.1" width="19.5" height="5.6"/>
<rect class="C" x="206.4" y="567.7" width="19.5" height="2.9"/>
<rect class="T" x="34.0" y="567.7" width="9.9" height="2.9"/>
<rect class="C" x="359.7" y="567.7" width="9.9" height="2.9"/>
<rect class="C" x="331.0" y="567.7" width="9.9" height="2.9"/>
<rect class="A" x="254.3" y="567.7" width="19.5" height="2.9"/>
<rect class="G" x="273.5" y="567.7" width="19.5" height="2.9"/>
<rect class="A" x="292.7" y="567.7" width="9.9" height="2.9"/>
<rect class="A" x="369.3" y="567.7" width="29.0" height="2.9"/>
<rect class="A" x="311.8" y="567.7" width="19.5" height="2.9"/>
<rect class="C" x="302.2" y="567.7" width="9.9" height="2.9"/>
<rect class="C" x="43.6" y="567.7" width="19.5" height="2.9"/>
<rect class="C" x="244.8" y="567.7" width="9.9" height="2.9"/>
<rect class="G" x="225.6" y="567.7" width="19.5" height="2.9"/>
<rect class="C" x="101.1" y="567.7" width="48.2" height="5.6"/>
<rect class="C" x="34.0" y="570.4" width="19.5" height="2.9"/>
<rect class="G" x="254.3" y="570.4" width="9.9" height="2.9"/>
<rect class="C" x="273.5" y="570.4" width="9.9" height="2.9"/>
<rect class="G" x="225.6" y="570.4" width="9.9" height="2.9"/>
<rect class="C" x="321.4" y="570.4" width="29.0" height="2.9"/>
<rect class="T" x="235.2" y="570.4" width="19.5" height="2.9"/>
<rect class="A" x="53.2" y="570.4" width="19.5" height="2.9"/>
<rect class="T" x="350.1" y="570.4" width="9.9" height="2.9"/>
<rect class="C" x="206.4" y="570.4" width="9.9" height="2.9"/>
<rect class="C" x="72.3" y="570.4" width="9.9" height="2.9"/>
<rect class="T" x="149.0" y="570.4" width="9.9" height="2.9"/>
<rect class="A" x="283.1" y="570.4" width="19.5" height="2.9"/>
<rect class="A" x="216.0" y="570.4" width="9.9" height="2.9"/>
<rect class="T" x="302.2" y="570.4" width="19.5" height="2.9"/>
<rect class="A" x="263.9" y="570.4" width="9.9" height="2.9"/>
<rect class="C" x="378.9" y="570.4" width="19.5" height="2.9"/>
<rect class="A" x="359.7" y="570.4" width="19.5" height="2.9"/>
<rect class="C" x="168.1" y="557.2" width="9.9" height="18.7"/>
<rect class="T" x="81.9" y="565.1" width="9.9" height="10.8"/>
<rect class="G" x="158.5" y="570.4" width="9.9" height="5.6"/>
<rect class="G" x="235.2" y="573.0" width="29.0" height="2.9"/>
<rect class="G" x="311.8" y="573.0" width="19.5" height="2.9"/>
<rect class="A" x="149.0" y="573.0" width="9.9" height="2.9"/>
<rect class="A" x="283.1" y="573.0" width="29.0" height="2.9"/>
<rect class="T" x="331.0" y="573.0" width="38.6" height="2.9"/>
<rect class="C" x="206.4" y="573.0" width="29.0" height="2.9"/>
<rect class="G" x="43.6" y="573.0" width="38.6" height="2.9"/>
<rect class="C" x="34.0" y="573.0" width="9.9" height="2.9"/>
<rect class="C" x="369.3" y="573.0" width="19.5" height="2.9"/>
<rect class="T" x="263.9" y="573.0" width="19.5" height="2.9"/>
<rect class="C" x="101.1" y="573.0" width="29.0" height="5.6"/>
<rect class="T" x="388.5" y="573.0" width="9.9" height="5.6"/>
<rect class="C" x="235.2" y="575.6" width="38.6" height="2.9"/>
<rect class="A" x="273.5" y="575.6" width="19.5" height="2.9"/>
<rect class="C" x="359.7" y="575.6" width="9.9" height="2.9"/>
<rect class="G" x="34.0" y="575.6" width="9.9" height="2.9"/>
<rect class="A" x="321.4" y="575.6" width="9.9" height="2.9"/>
<rect class="G" x="292.7" y="575.6" width="19.5" height="2.9"/>
<rect class="C" x="378.9" y="575.6" width="9.9" height="2.9"/>
<rect class="G" x="350.1" y="575.6" width="9.9" height="2.9"/>
<rect class="C" x="53.2" y="575.6" width="38.6" height="2.9"/>
<rect class="T" x="369.3" y="575.6" width="9.9" height="2.9"/>
<rect class="G" x="331.0" y="575.6" width="9.9" height="2.9"/>
<rect class="A" x="340.6" y="575.6" width="9.9" height="2.9"/>
<rect class="T" x="43.6" y="575.6" width="9.9" height="2.9"/>
<rect class="A" x="225.6" y="575.6" width="9.9" height="2.9"/>
<rect class="C" x="311.8" y="575.6" width="9.9" height="2.9"/>
<rect class="C" x="206.4" y="575.6" width="19.5" height="5.6"/>
<rect class="C" x="158.5" y="575.6" width="19.5" height="5.6"/>
<rect class="A" x="235.2" y="578.2" width="19.5" height="2.9"/>
<rect class="A" x="388.5" y="578.2" width="9.9" height="2.9"/>
<rect class="A" x="62.7" y="578.2" width="9.9" height="2.9"/>
<rect class="A" x="101.1" y="578.2" width="9.9" height="2.9"/>
<rect class="C" x="110.6" y="578.2" width="9.9" height="2.9"/>
<rect class="C" x="72.3" y="578.2" width="19.5" height="2.9"/>
<rect class="G" x="254.3" y="578.2" width="9.9" height="2.9"/>
<rect class="T" x="225.6" y="578.2" width="9.9" height="2.9"/>
<rect class="C" x="359.7" y="578.2" width="29.0" height="2.9"/>
<rect class="T" x="340.6" y="578.2" width="19.5" height="2.9"/>
<rect class="C" x="302.2" y="578.2" width="38.6" height="2.9"/>
<rect class="A" x="120.2" y="578.2" width="9.9" height="2.9"/>
<rect class="G" x="34.0" y="578.2" width="19.5" height="2.9"/>
<rect class="G" x="292.7" y="578.2" width="9.9" height="2.9"/>
<rect class="A" x="263.9" y="578.2" width="29.0" height="2.9"/>
<rect class="C" x="139.4" y="573.0" width="9.9" height="10.8"/>
<rect class="T" x="149.0" y="575.6" width="9.9" height="8.2"/>
<rect class="C" x="53.2" y="578.2" width="9.9" height="5.6"/>
<rect class="T" x="340.6" y="580.9" width="9.9" height="2.9"/>
<rect class="C" x="206.4" y="580.9" width="38.6" height="2.9"/>
<rect class="A" x="350.1" y="580.9" width="9.9" height="2.9"/>
<rect class="C" x="369.3" y="580.9" width="9.9" height="2.9"/>
<rect class="C" x="81.9" y="580.9" width="9.9" height="2.9"/>
<rect class="T" x="388.5" y="580.9" width="9.9" height="2.9"/>
<rect class="G" x="244.8" y="580.9" width="9.9" height="2.9"/>
<rect class="A" x="43.6" y="580.9" width="9.9" height="2.9"/>
<rect class="A" x="378.9" y="580.9" width="9.9" height="2.9"/>
<rect class="A" x="273.5" y="580.9" width="29.0" height="2.9"/>
<rect class="G" x="359.7" y="580.9" width="9.9" height="2.9"/>
<rect class="G" x="331.0" y="580.9" width="9.9" height="2.9"/>
<rect class="A" x="62.7" y="580.9" width="19.5" height="2.9"/>
<rect class="C" x="263.9" y="580.9" width="9.9" height="2.9"/>
<rect class="A" x="254.3" y="580.9" width="9.9" height="2.9"/>
<rect class="T" x="302.2" y="580.9" width="19.5" height="2.9"/>
<rect class="G" x="158.5" y="580.9" width="9.9" height="2.9"/>
<rect class="C" x="321.4" y="580.9" width="9.9" height="5.6"/>
<rect class="T" x="34.0" y="580.9" width="9.9" height="5.6"/>
<rect class="G" x="72.3" y="583.5" width="9.9" height="2.9"/>
<rect class="A" x="62.7" y="583.5" width="9.9" height="2.9"/>
<rect class="T" x="149.0" y="583.5" width="19.5" height="2.9"/>
<rect class="T" x="331.0" y="583.5" width="19.5" height="2.9"/>
<rect class="G" x="139.4" y="583.5" width="9.9" height="2.9"/>
<rect class="G" x="235.2" y="583.5" width="19.5" height="2.9"/>
<rect class="G" x="43.6" y="583.5" width="19.5" height="2.9"/>
<rect class="A" x="254.3" y="583.5" width="38.6" height="2.9"/>
<rect class="C" x="206.4" y="583.5" width="29.0" height="2.9"/>
<rect class="A" x="350.1" y="583.5" width="19.5" height="2.9"/>
<rect class="T" x="292.7" y="583.5" width="29.0" height="2.9"/>
<rect class="C" x="369.3" y="583.5" width="19.5" height="2.9"/>
<rect class="T" x="81.9" y="583.5" width="9.9" height="2.9"/>
<rect class="T" x="129.8" y="573.0" width="9.9" height="16.1"/>
<rect class="C" x="101.1" y="580.9" width="29.0" height="8.2"/>
<rect class="A" x="283.1" y="586.1" width="9.9" height="2.9"/>
<rect class="G" x="216.0" y="586.1" width="9.9" height="2.9"/>
<rect class="C" x="292.7" y="586.1" width="9.9" height="2.9"/>
<rect class="G" x="263.9" y="586.1" width="9.9" height="2.9"/>
<rect class="T" x="302.2" y="586.1" width="29.0" height="2.9"/>
<rect class="C" x="43.6" y="586.1" width="48.2" height="2.9"/>
<rect class="C" x="378.9" y="586.1" width="9.9" height="2.9"/>
<rect class="C" x="225.6" y="586.1" width="38.6" height="2.9"/>
<rect class="C" x="206.4" y="586.1" width="9.9" height="2.9"/>
<rect class="C" x="139.4" y="586.1" width="19.5" height="2.9"/>
<rect class="T" x="273.5" y="586.1" width="9.9" height="2.9"/>
<rect class="A" x="34.0" y="586.1" width="9.9" height="2.9"/>
<rect class="G" x="331.0" y="586.1" width="48.2" height="2.9"/>
<rect class="T" x="177.7" y="554.6" width="9.9" height="37.1"/>
<rect class="A" x="311.8" y="588.7" width="9.9" height="2.9"/>
<rect class="C" x="101.1" y="588.7" width="48.2" height="2.9"/>
<rect class="T" x="359.7" y="588.7" width="19.5" height="2.9"/>
<rect class="G" x="292.7" y="588.7" width="19.5" height="2.9"/>
<rect class="T" x="321.4" y="588.7" width="9.9" height="2.9"/>
<rect class="G" x="350.1" y="588.7" width="9.9" height="2.9"/>
<rect class="C" x="62.7" y="588.7" width="19.5" height="2.9"/>
<rect class="C" x="331.0" y="588.7" width="19.5" height="2.9"/>
<rect class="C" x="206.4" y="588.7" width="86.5" height="2.9"/>
<rect class="A" x="34.0" y="588.7" width="29.0" height="2.9"/>
<rect class="G" x="91.5" y="544.1" width="9.9" height="50.2"/>
<rect class="G" x="187.3" y="567.7" width="19.5" height="26.6"/>
<rect class="C" x="168.1" y="580.9" width="9.9" height="13.4"/>
<rect class="A" x="388.5" y="583.5" width="9.9" height="10.8"/>
<rect class="G" x="158.5" y="586.1" width="9.9" height="8.2"/>
<rect class="T" x="149.0" y="588.7" width="9.9" height="5.6"/>
<rect class="T" x="81.9" y="588.7" width="9.9" height="5.6"/>
<rect class="G" x="378.9" y="588.7" width="9.9" height="5.6"/>
<rect class="C" x="206.4" y="591.4" width="19.5" height="2.9"/>
<rect class="A" x="225.6" y="591.4" width="29.0" height="2.9"/>
<rect class="C" x="101.1" y="591.4" width="29.0" height="2.9"/>
<rect class="G" x="254.3" y="591.4" width="67.4" height="2.9"/>
<rect class="A" x="62.7" y="591.4" width="19.5" height="2.9"/>
<rect class="A" x="177.7" y="591.4" width="9.9" height="2.9"/>
<rect class="A" x="34.0" y="591.4" width="9.9" height="2.9"/>
<rect class="C" x="359.7" y="591.4" width="19.5" height="2.9"/>
<rect class="C" x="43.6" y="591.4" width="19.5" height="2.9"/>
<rect class="C" x="139.4" y="591.4" width="9.9" height="2.9"/>
<rect class="A" x="321.4" y="591.4" width="38.6" height="2.9"/>
<rect class="T" x="129.8" y="591.4" width="9.9" height="2.9"/>
<rect x="34" y="347.2" width="364.04" height="246.8" fill="url(#rows)"/>
<rect x="43.18" y="347.2" width="0.8" height="246.8" fill="rgba(0,0,0,0.05)"/>
<rect x="52.76" y="347.2" width="0.8" height="246.8" fill="rgba(0,0,0,0.05)"/>
<rect x="62.34" y="347.2" width="0.8" height="246.8" fill="rgba(0,0,0,0.05)"/>
<rect x="71.92" y="347.2" width="0.8" height="246.8" fill="rgba(0,0,0,0.05)"/>
<rect x="81.50" y="347.2" width="0.8" height="246.8" fill="rgba(0,0,0,0.05)"/>
<rect x="91.08" y="347.2" width="0.8" height="246.8" fill="rgba(0,0,0,0.05)"/>
<rect x="100.66" y="347.2" width="0.8" height="246.8" fill="rgba(0,0,0,0.05)"/>
<rect x="110.24" y="347.2" width="0.8" height="246.8" fill="rgba(0,0,0,0.05)"/>
<rect x="119.82" y="347.2" width="0.8" height="246.8" fill="rgba(0,0,0,0.05)"/>
<rect x="129.40" y="347.2" width="0.8" height="246.8" fill="rgba(0,0,0,0.05)"/>
<rect x="138.98" y="347.2" width="0.8" height="246.8" fill="rgba(0,0,0,0.05)"/>
<rect x="148.56" y="347.2" width="0.8" height="246.8" fill="rgba(0,0,0,0.05)"/>
<rect x="158.14" y="347.2" width="0.8" height="246.8" fill="rgba(0,0,0,0.05)"/>
<rect x="167.72" y="347.2" width="0.8" height="246.8" fill="rgba(0,0,0,0.05)"/>
<rect x="177.30" y="347.2" width="0.8" height="246.8" fill="rgba(0,0,0,0.05)"/>
<rect x="186.88" y="347.2" width="0.8" height="246.8" fill="rgba(0,0,0,0.05)"/>
<rect x="196.46" y="347.2" width="0.8" height="246.8" fill="rgba(0,0,0,0.05)"/>
<rect x="206.04" y="347.2" width="0.8" height="246.8" fill="rgba(0,0,0,0.05)"/>
<rect x="215.62" y="347.2" width="0.8" height="246.8" fill="rgba(0,0,0,0.05)"/>
<rect x="225.20" y="347.2" width="0.8" height="246.8" fill="rgba(0,0,0,0.05)"/>
<rect x="234.78" y="347.2" width="0.8" height="246.8" fill="rgba(0,0,0,0.05)"/>
<rect x="244.36" y="347.2" width="0.8" height="246.8" fill="rgba(0,0,0,0.05)"/>
<rect x="253.94" y="347.2" width="0.8" height="246.8" fill="rgba(0,0,0,0.05)"/>
<rect x="263.52" y="347.2" width="0.8" height="246.8" fill="rgba(0,0,0,0.05)"/>
<rect x="273.10" y="347.2" width="0.8" height="246.8" fill="rgba(0,0,0,0.05)"/>
<rect x="282.68" y="347.2" width="0.8" height="246.8" fill="rgba(0,0,0,0.05)"/>
<rect x="292.26" y="347.2" width="0.8" height="246.8" fill="rgba(0,0,0,0.05)"/>
<rect x="301.84" y="347.2" width="0.8" height="246.8" fill="rgba(0,0,0,0.05)"/>
<rect x="311.42" y="347.2" width="0.8" height="246.8" fill="rgba(0,0,0,0.05)"/>
<rect x="321.00" y="347.2" width="0.8" height="246.8" fill="rgba(0,0,0,0.05)"/>
<rect x="330.58" y="347.2" width="0.8" height="246.8" fill="rgba(0,0,0,0.05)"/>
<rect x="340.16" y="347.2" width="0.8" height="246.8" fill="rgba(0,0,0,0.05)"/>
<rect x="349.74" y="347.2" width="0.8" height="246.8" fill="rgba(0,0,0,0.05)"/>
<rect x="359.32" y="347.2" width="0.8" height="246.8" fill="rgba(0,0,0,0.05)"/>
<rect x="368.90" y="347.2" width="0.8" height="246.8" fill="rgba(0,0,0,0.05)"/>
<rect x="378.48" y="347.2" width="0.8" height="246.8" fill="rgba(0,0,0,0.05)"/>
<rect x="388.06" y="347.2" width="0.8" height="246.8" fill="rgba(0,0,0,0.05)"/>
<use href="#gA" transform="matrix(0.00654 0 0 -0.00071 81.867 342.800)"/>
<use href="#gC" transform="matrix(0.00671 0 0 -0.00414 81.637 341.717)"/>
<use href="#gT" transform="matrix(0.00745 0 0 -0.00639 82.029 335.800)"/>
<use href="#gA" transform="matrix(0.00654 0 0 -0.00142 91.447 342.800)"/>
<use href="#gT" transform="matrix(0.00745 0 0 -0.00213 91.609 340.800)"/>
<use href="#gG" transform="matrix(0.00650 0 0 -0.01103 91.234 337.579)"/>
<use href="#gA" transform="matrix(0.00654 0 0 -0.00142 101.027 342.800)"/>
<use href="#gC" transform="matrix(0.00671 0 0 -0.01931 100.797 340.414)"/>
<use href="#gC" transform="matrix(0.00671 0 0 -0.03034 110.377 342.193)"/>
<use href="#gA" transform="matrix(0.00654 0 0 -0.00426 120.187 342.800)"/>
<use href="#gC" transform="matrix(0.00671 0 0 -0.01034 119.957 336.593)"/>
<use href="#gC" transform="matrix(0.00671 0 0 -0.00828 129.537 342.634)"/>
<use href="#gT" transform="matrix(0.00745 0 0 -0.00781 129.929 330.800)"/>
<use href="#gC" transform="matrix(0.00671 0 0 -0.03034 139.117 342.193)"/>
<use href="#gA" transform="matrix(0.00654 0 0 -0.00071 148.927 342.800)"/>
<use href="#gT" transform="matrix(0.00745 0 0 -0.02271 149.089 341.800)"/>
<use href="#gG" transform="matrix(0.00650 0 0 -0.00069 158.294 342.786)"/>
<use href="#gA" transform="matrix(0.00654 0 0 -0.00142 158.507 341.800)"/>
<use href="#gT" transform="matrix(0.00745 0 0 -0.00142 158.669 339.800)"/>
<use href="#gA" transform="matrix(0.00654 0 0 -0.00071 168.087 342.800)"/>
<use href="#gG" transform="matrix(0.00650 0 0 -0.00414 167.874 341.717)"/>
<use href="#gC" transform="matrix(0.00671 0 0 -0.00483 167.857 335.703)"/>
<use href="#gG" transform="matrix(0.00650 0 0 -0.00069 177.454 342.786)"/>
<use href="#gA" transform="matrix(0.00654 0 0 -0.00213 177.667 341.800)"/>
<use href="#gT" transform="matrix(0.00745 0 0 -0.01419 177.829 338.800)"/>
<use href="#gG" transform="matrix(0.00650 0 0 -0.03034 187.034 342.193)"/>
<use href="#gA" transform="matrix(0.00654 0 0 -0.00071 196.827 342.800)"/>
<use href="#gT" transform="matrix(0.00745 0 0 -0.00213 196.989 341.800)"/>
<use href="#gG" transform="matrix(0.00650 0 0 -0.01379 196.614 338.524)"/>
<use href="#gT" transform="matrix(0.00745 0 0 -0.00142 206.569 342.800)"/>
<use href="#gC" transform="matrix(0.00671 0 0 -0.00138 206.177 340.772)"/>
<use href="#gG" transform="matrix(0.00650 0 0 -0.00138 225.354 342.772)"/>
<use href="#gA" transform="matrix(0.00654 0 0 -0.00213 225.567 340.800)"/>
<use href="#gT" transform="matrix(0.00745 0 0 -0.01703 225.729 337.800)"/>
<use href="#gA" transform="matrix(0.00654 0 0 -0.00071 235.147 342.800)"/>
<use href="#gT" transform="matrix(0.00745 0 0 -0.00213 235.309 341.800)"/>
<use href="#gC" transform="matrix(0.00671 0 0 -0.01448 234.917 338.510)"/>
<use href="#gA" transform="matrix(0.00654 0 0 -0.00142 244.727 342.800)"/>
<use href="#gC" transform="matrix(0.00671 0 0 -0.00414 244.497 340.717)"/>
<use href="#gT" transform="matrix(0.00745 0 0 -0.00994 244.889 334.800)"/>
<use href="#gC" transform="matrix(0.00671 0 0 -0.00069 254.077 342.786)"/>
<use href="#gA" transform="matrix(0.00654 0 0 -0.00142 254.307 341.800)"/>
<use href="#gG" transform="matrix(0.00650 0 0 -0.00138 254.094 339.772)"/>
<use href="#gC" transform="matrix(0.00671 0 0 -0.00276 263.657 342.745)"/>
<use href="#gT" transform="matrix(0.00745 0 0 -0.00568 264.049 338.800)"/>
<use href="#gA" transform="matrix(0.00654 0 0 -0.00426 273.467 342.800)"/>
<use href="#gG" transform="matrix(0.00650 0 0 -0.00759 273.254 336.648)"/>
<use href="#gA" transform="matrix(0.00654 0 0 -0.00355 283.047 342.800)"/>
<use href="#gG" transform="matrix(0.00650 0 0 -0.02000 282.834 337.400)"/>
<use href="#gC" transform="matrix(0.00671 0 0 -0.00138 292.397 342.772)"/>
<use href="#gA" transform="matrix(0.00654 0 0 -0.00213 292.627 340.800)"/>
<use href="#gG" transform="matrix(0.00650 0 0 -0.02345 292.414 337.331)"/>
<use href="#gC" transform="matrix(0.00671 0 0 -0.00345 301.977 342.731)"/>
<use href="#gT" transform="matrix(0.00745 0 0 -0.00497 302.369 337.800)"/>
<use href="#gA" transform="matrix(0.00654 0 0 -0.03123 311.787 342.800)"/>
<use href="#gT" transform="matrix(0.00745 0 0 -0.00213 321.529 342.800)"/>
<use href="#gC" transform="matrix(0.00671 0 0 -0.02000 321.137 339.400)"/>
<use href="#gT" transform="matrix(0.00745 0 0 -0.03478 331.109 342.800)"/>
<use href="#gA" transform="matrix(0.00654 0 0 -0.00426 340.527 342.800)"/>
<use href="#gG" transform="matrix(0.00650 0 0 -0.02069 340.314 336.386)"/>
<use href="#gC" transform="matrix(0.00671 0 0 -0.03310 349.877 342.138)"/>
<use href="#gA" transform="matrix(0.00654 0 0 -0.03265 359.687 342.800)"/>
<rect class="A" x="692.0" y="347.2" width="9.9" height="2.9"/>
<rect class="C" x="749.5" y="347.2" width="9.9" height="2.9"/>
<rect class="C" x="653.7" y="347.2" width="9.9" height="2.9"/>
<rect class="T" x="682.4" y="347.2" width="9.9" height="2.9"/>
<rect class="A" x="423.8" y="347.2" width="29.0" height="2.9"/>
<rect class="T" x="605.8" y="347.2" width="29.0" height="2.9"/>
<rect class="A" x="538.7" y="347.2" width="9.9" height="2.9"/>
<rect class="C" x="596.2" y="347.2" width="9.9" height="2.9"/>
<rect class="G" x="634.5" y="347.2" width="19.5" height="2.9"/>
<rect class="G" x="567.5" y="347.2" width="29.0" height="2.9"/>
<rect class="C" x="768.7" y="347.2" width="9.9" height="2.9"/>
<rect class="G" x="759.1" y="347.2" width="9.9" height="2.9"/>
<rect class="G" x="414.2" y="347.2" width="9.9" height="5.6"/>
<rect class="C" x="462.1" y="347.2" width="9.9" height="5.6"/>
<rect class="C" x="548.3" y="347.2" width="9.9" height="5.6"/>
<rect class="C" x="586.6" y="349.8" width="19.5" height="2.9"/>
<rect class="A" x="442.9" y="349.8" width="9.9" height="2.9"/>
<rect class="G" x="749.5" y="349.8" width="19.5" height="2.9"/>
<rect class="T" x="644.1" y="349.8" width="9.9" height="2.9"/>
<rect class="G" x="433.4" y="349.8" width="9.9" height="2.9"/>
<rect class="T" x="768.7" y="349.8" width="9.9" height="2.9"/>
<rect class="T" x="423.8" y="349.8" width="9.9" height="2.9"/>
<rect class="A" x="634.5" y="349.8" width="9.9" height="2.9"/>
<rect class="T" x="682.4" y="349.8" width="19.5" height="2.9"/>
<rect class="G" x="538.7" y="349.8" width="9.9" height="2.9"/>
<rect class="G" x="663.3" y="347.2" width="19.5" height="8.2"/>
<rect class="G" x="471.7" y="347.2" width="9.9" height="8.2"/>
<rect class="G" x="452.5" y="347.2" width="9.9" height="8.2"/>
<rect class="A" x="653.7" y="349.8" width="9.9" height="5.6"/>
<rect class="A" x="586.6" y="352.5" width="19.5" height="2.9"/>
<rect class="G" x="634.5" y="352.5" width="9.9" height="2.9"/>
<rect class="C" x="749.5" y="352.5" width="29.0" height="2.9"/>
<rect class="C" x="538.7" y="352.5" width="9.9" height="2.9"/>
<rect class="T" x="462.1" y="352.5" width="9.9" height="2.9"/>
<rect class="C" x="644.1" y="352.5" width="9.9" height="2.9"/>
<rect class="C" x="442.9" y="352.5" width="9.9" height="2.9"/>
<rect class="G" x="548.3" y="352.5" width="9.9" height="2.9"/>
<rect class="C" x="701.6" y="347.2" width="9.9" height="10.8"/>
<rect class="T" x="605.8" y="349.8" width="9.9" height="8.2"/>
<rect class="C" x="615.4" y="349.8" width="9.9" height="8.2"/>
<rect class="T" x="625.0" y="349.8" width="9.9" height="8.2"/>
<rect class="A" x="692.0" y="352.5" width="9.9" height="5.6"/>
<rect class="A" x="433.4" y="352.5" width="9.9" height="5.6"/>
<rect class="G" x="414.2" y="352.5" width="19.5" height="5.6"/>
<rect class="C" x="586.6" y="355.1" width="19.5" height="2.9"/>
<rect class="C" x="749.5" y="355.1" width="9.9" height="2.9"/>
<rect class="T" x="462.1" y="355.1" width="19.5" height="2.9"/>
<rect class="A" x="634.5" y="355.1" width="19.5" height="2.9"/>
<rect class="G" x="538.7" y="355.1" width="19.5" height="2.9"/>
<rect class="C" x="442.9" y="355.1" width="19.5" height="2.9"/>
<rect class="C" x="768.7" y="355.1" width="9.9" height="2.9"/>
<rect class="T" x="759.1" y="355.1" width="9.9" height="2.9"/>
<rect class="C" x="730.3" y="347.2" width="9.9" height="13.4"/>
<rect class="C" x="481.3" y="347.2" width="48.2" height="13.4"/>
<rect class="A" x="739.9" y="347.2" width="9.9" height="13.4"/>
<rect class="T" x="711.2" y="347.2" width="9.9" height="13.4"/>
<rect class="T" x="682.4" y="352.5" width="9.9" height="8.2"/>
<rect class="G" x="653.7" y="355.1" width="29.0" height="5.6"/>
<rect class="C" x="414.2" y="357.7" width="19.5" height="2.9"/>
<rect class="G" x="605.8" y="357.7" width="9.9" height="2.9"/>
<rect class="T" x="644.1" y="357.7" width="9.9" height="2.9"/>
<rect class="C" x="749.5" y="357.7" width="29.0" height="2.9"/>
<rect class="C" x="615.4" y="357.7" width="29.0" height="2.9"/>
<rect class="A" x="538.7" y="357.7" width="9.9" height="2.9"/>
<rect class="A" x="452.5" y="357.7" width="9.9" height="2.9"/>
<rect class="T" x="462.1" y="357.7" width="9.9" height="2.9"/>
<rect class="T" x="433.4" y="357.7" width="19.5" height="2.9"/>
<rect class="A" x="692.0" y="357.7" width="19.5" height="2.9"/>
<rect class="G" x="548.3" y="357.7" width="9.9" height="2.9"/>
<rect class="G" x="720.8" y="347.2" width="9.9" height="16.1"/>
<rect class="A" x="586.6" y="357.7" width="19.5" height="5.6"/>
<rect class="C" x="442.9" y="360.3" width="29.0" height="2.9"/>
<rect class="C" x="663.3" y="360.3" width="29.0" height="2.9"/>
<rect class="C" x="481.3" y="360.3" width="29.0" height="2.9"/>
<rect class="C" x="634.5" y="360.3" width="19.5" height="2.9"/>
<rect class="A" x="692.0" y="360.3" width="29.0" height="2.9"/>
<rect class="G" x="433.4" y="360.3" width="9.9" height="2.9"/>
<rect class="G" x="768.7" y="360.3" width="9.9" height="2.9"/>
<rect class="G" x="605.8" y="360.3" width="29.0" height="2.9"/>
<rect class="C" x="548.3" y="360.3" width="9.9" height="2.9"/>
<rect class="C" x="730.3" y="360.3" width="38.6" height="2.9"/>
<rect class="G" x="653.7" y="360.3" width="9.9" height="2.9"/>
<rect class="T" x="423.8" y="360.3" width="9.9" height="2.9"/>
<rect class="G" x="538.7" y="360.3" width="9.9" height="2.9"/>
<rect class="G" x="567.5" y="349.8" width="19.5" height="16.1"/>
<rect class="C" x="634.5" y="363.0" width="105.7" height="2.9"/>
<rect class="T" x="615.4" y="363.0" width="19.5" height="2.9"/>
<rect class="T" x="442.9" y="363.0" width="9.9" height="2.9"/>
<rect class="G" x="538.7" y="363.0" width="19.5" height="2.9"/>
<rect class="C" x="481.3" y="363.0" width="19.5" height="2.9"/>
<rect class="G" x="739.9" y="363.0" width="9.9" height="2.9"/>
<rect class="G" x="596.2" y="363.0" width="19.5" height="2.9"/>
<rect class="A" x="452.5" y="363.0" width="9.9" height="2.9"/>
<rect class="T" x="462.1" y="363.0" width="9.9" height="2.9"/>
<rect class="A" x="749.5" y="363.0" width="19.5" height="2.9"/>
<rect class="A" x="500.4" y="363.0" width="9.9" height="2.9"/>
<rect class="T" x="557.9" y="347.2" width="9.9" height="21.3"/>
<rect class="T" x="529.2" y="347.2" width="9.9" height="21.3"/>
<rect class="C" x="414.2" y="360.3" width="9.9" height="8.2"/>
<rect class="C" x="519.6" y="360.3" width="9.9" height="8.2"/>
<rect class="T" x="510.0" y="360.3" width="9.9" height="8.2"/>
<rect class="A" x="423.8" y="363.0" width="19.5" height="5.6"/>
<rect class="T" x="768.7" y="363.0" width="9.9" height="5.6"/>
<rect class="A" x="586.6" y="363.0" width="9.9" height="5.6"/>
<rect class="G" x="442.9" y="365.6" width="19.5" height="2.9"/>
<rect class="C" x="481.3" y="365.6" width="29.0" height="2.9"/>
<rect class="C" x="462.1" y="365.6" width="9.9" height="2.9"/>
<rect class="C" x="538.7" y="365.6" width="9.9" height="2.9"/>
<rect class="T" x="605.8" y="365.6" width="29.0" height="2.9"/>
<rect class="C" x="730.3" y="365.6" width="19.5" height="2.9"/>
<rect class="A" x="759.1" y="365.6" width="9.9" height="2.9"/>
<rect class="C" x="596.2" y="365.6" width="9.9" height="2.9"/>
<rect class="G" x="634.5" y="365.6" width="19.5" height="2.9"/>
<rect class="G" x="567.5" y="365.6" width="9.9" height="2.9"/>
<rect class="T" x="577.1" y="365.6" width="9.9" height="2.9"/>
<rect class="A" x="711.2" y="365.6" width="19.5" height="2.9"/>
<rect class="C" x="663.3" y="365.6" width="48.2" height="5.6"/>
<rect class="T" x="749.5" y="365.6" width="9.9" height="5.6"/>
<rect class="T" x="653.7" y="365.6" width="9.9" height="5.6"/>
<rect class="G" x="548.3" y="365.6" width="9.9" height="5.6"/>
<rect class="A" x="442.9" y="368.2" width="9.9" height="2.9"/>
<rect class="T" x="529.2" y="368.2" width="19.5" height="2.9"/>
<rect class="C" x="625.0" y="368.2" width="29.0" height="2.9"/>
<rect class="A" x="586.6" y="368.2" width="19.5" height="2.9"/>
<rect class="T" x="433.4" y="368.2" width="9.9" height="2.9"/>
<rect class="G" x="759.1" y="368.2" width="19.5" height="2.9"/>
<rect class="C" x="452.5" y="368.2" width="9.9" height="2.9"/>
<rect class="T" x="711.2" y="368.2" width="9.9" height="2.9"/>
<rect class="G" x="739.9" y="368.2" width="9.9" height="2.9"/>
<rect class="A" x="557.9" y="368.2" width="9.9" height="2.9"/>
<rect class="A" x="414.2" y="368.2" width="9.9" height="2.9"/>
<rect class="G" x="423.8" y="368.2" width="9.9" height="2.9"/>
<rect class="T" x="605.8" y="368.2" width="19.5" height="2.9"/>
<rect class="C" x="720.8" y="368.2" width="19.5" height="2.9"/>
<rect class="G" x="471.7" y="357.7" width="9.9" height="16.1"/>
<rect class="G" x="567.5" y="368.2" width="19.5" height="5.6"/>
<rect class="C" x="481.3" y="368.2" width="48.2" height="5.6"/>
<rect class="T" x="462.1" y="368.2" width="9.9" height="5.6"/>
<rect class="A" x="442.9" y="370.8" width="19.5" height="2.9"/>
<rect class="A" x="615.4" y="370.8" width="67.4" height="2.9"/>
<rect class="C" x="557.9" y="370.8" width="9.9" height="2.9"/>
<rect class="A" x="759.1" y="370.8" width="19.5" height="2.9"/>
<rect class="C" x="692.0" y="370.8" width="19.5" height="2.9"/>
<rect class="T" x="730.3" y="370.8" width="29.0" height="2.9"/>
<rect class="C" x="586.6" y="370.8" width="29.0" height="2.9"/>
<rect class="C" x="414.2" y="370.8" width="29.0" height="2.9"/>
<rect class="A" x="711.2" y="370.8" width="19.5" height="5.6"/>
<rect class="T" x="682.4" y="370.8" width="9.9" height="5.6"/>
<rect class="T" x="529.2" y="370.8" width="9.9" height="5.6"/>
<rect class="G" x="538.7" y="370.8" width="19.5" height="5.6"/>
<rect class="A" x="768.7" y="373.5" width="9.9" height="2.9"/>
<rect class="T" x="557.9" y="373.5" width="9.9" height="2.9"/>
<rect class="C" x="414.2" y="373.5" width="19.5" height="2.9"/>
<rect class="C" x="625.0" y="373.5" width="48.2" height="2.9"/>
<rect class="A" x="586.6" y="373.5" width="19.5" height="2.9"/>
<rect class="T" x="433.4" y="373.5" width="9.9" height="2.9"/>
<rect class="T" x="462.1" y="373.5" width="19.5" height="2.9"/>
<rect class="G" x="701.6" y="373.5" width="9.9" height="2.9"/>
<rect class="G" x="730.3" y="373.5" width="9.9" height="2.9"/>
<rect class="C" x="442.9" y="373.5" width="19.5" height="2.9"/>
<rect class="G" x="567.5" y="373.5" width="9.9" height="2.9"/>
<rect class="G" x="672.9" y="373.5" width="9.9" height="2.9"/>
<rect class="T" x="739.9" y="373.5" width="29.0" height="2.9"/>
<rect class="T" x="577.1" y="373.5" width="9.9" height="2.9"/>
<rect class="T" x="605.8" y="373.5" width="19.5" height="2.9"/>
<rect class="C" x="692.0" y="373.5" width="9.9" height="2.9"/>
<rect class="T" x="529.2" y="376.1" width="19.5" height="2.9"/>
<rect class="T" x="749.5" y="376.1" width="19.5" height="2.9"/>
<rect class="C" x="653.7" y="376.1" width="9.9" height="2.9"/>
<rect class="G" x="567.5" y="376.1" width="19.5" height="2.9"/>
<rect class="A" x="711.2" y="376.1" width="29.0" height="2.9"/>
<rect class="C" x="557.9" y="376.1" width="9.9" height="2.9"/>
<rect class="G" x="625.0" y="376.1" width="29.0" height="2.9"/>
<rect class="G" x="739.9" y="376.1" width="9.9" height="2.9"/>
<rect class="C" x="596.2" y="376.1" width="29.0" height="2.9"/>
<rect class="A" x="663.3" y="376.1" width="19.5" height="2.9"/>
<rect class="C" x="414.2" y="376.1" width="29.0" height="2.9"/>
<rect class="T" x="462.1" y="376.1" width="9.9" height="2.9"/>
<rect class="A" x="442.9" y="376.1" width="19.5" height="2.9"/>
<rect class="C" x="682.4" y="376.1" width="29.0" height="2.9"/>
<rect class="C" x="768.7" y="376.1" width="9.9" height="2.9"/>
<rect class="A" x="548.3" y="376.1" width="9.9" height="5.6"/>
<rect class="C" x="730.3" y="378.7" width="9.9" height="2.9"/>
<rect class="G" x="720.8" y="378.7" width="9.9" height="2.9"/>
<rect class="A" x="442.9" y="378.7" width="9.9" height="2.9"/>
<rect class="T" x="634.5" y="378.7" width="9.9" height="2.9"/>
<rect class="A" x="711.2" y="378.7" width="9.9" height="2.9"/>
<rect class="C" x="538.7" y="378.7" width="9.9" height="2.9"/>
<rect class="C" x="577.1" y="378.7" width="9.9" height="2.9"/>
<rect class="C" x="596.2" y="378.7" width="9.9" height="2.9"/>
<rect class="A" x="644.1" y="378.7" width="19.5" height="2.9"/>
<rect class="G" x="567.5" y="378.7" width="9.9" height="2.9"/>
<rect class="G" x="663.3" y="378.7" width="48.2" height="2.9"/>
<rect class="C" x="615.4" y="378.7" width="19.5" height="2.9"/>
<rect class="A" x="605.8" y="378.7" width="9.9" height="2.9"/>
<rect class="A" x="739.9" y="378.7" width="38.6" height="2.9"/>
<rect class="T" x="452.5" y="378.7" width="9.9" height="2.9"/>
<rect class="A" x="586.6" y="376.1" width="9.9" height="8.2"/>
<rect class="T" x="557.9" y="378.7" width="9.9" height="5.6"/>
<rect class="C" x="462.1" y="378.7" width="9.9" height="5.6"/>
<rect class="G" x="433.4" y="378.7" width="9.9" height="5.6"/>
<rect class="A" x="692.0" y="381.3" width="9.9" height="2.9"/>
<rect class="C" x="596.2" y="381.3" width="19.5" height="2.9"/>
<rect class="A" x="615.4" y="381.3" width="38.6" height="2.9"/>
<rect class="G" x="567.5" y="381.3" width="19.5" height="2.9"/>
<rect class="G" x="682.4" y="381.3" width="9.9" height="2.9"/>
<rect class="G" x="711.2" y="381.3" width="38.6" height="2.9"/>
<rect class="C" x="548.3" y="381.3" width="9.9" height="2.9"/>
<rect class="C" x="653.7" y="381.3" width="29.0" height="2.9"/>
<rect class="T" x="701.6" y="381.3" width="9.9" height="2.9"/>
<rect class="G" x="759.1" y="381.3" width="19.5" height="2.9"/>
<rect class="A" x="538.7" y="381.3" width="9.9" height="2.9"/>
<rect class="T" x="749.5" y="381.3" width="9.9" height="2.9"/>
<rect class="A" x="442.9" y="381.3" width="19.5" height="2.9"/>
<rect class="C" x="481.3" y="373.5" width="29.0" height="13.4"/>
<rect class="C" x="519.6" y="373.5" width="9.9" height="13.4"/>
<rect class="T" x="510.0" y="373.5" width="9.9" height="13.4"/>
<rect class="A" x="423.8" y="378.7" width="9.9" height="8.2"/>
<rect class="C" x="414.2" y="378.7" width="9.9" height="8.2"/>
<rect class="T" x="625.0" y="384.0" width="19.5" height="2.9"/>
<rect class="C" x="548.3" y="384.0" width="19.5" height="2.9"/>
<rect class="G" x="672.9" y="384.0" width="19.5" height="2.9"/>
<rect class="G" x="644.1" y="384.0" width="9.9" height="2.9"/>
<rect class="A" x="730.3" y="384.0" width="29.0" height="2.9"/>
<rect class="T" x="759.1" y="384.0" width="19.5" height="2.9"/>
<rect class="A" x="615.4" y="384.0" width="9.9" height="2.9"/>
<rect class="G" x="567.5" y="384.0" width="48.2" height="2.9"/>
<rect class="T" x="462.1" y="384.0" width="9.9" height="2.9"/>
<rect class="C" x="653.7" y="384.0" width="19.5" height="2.9"/>
<rect class="G" x="538.7" y="384.0" width="9.9" height="2.9"/>
<rect class="T" x="692.0" y="384.0" width="38.6" height="2.9"/>
<rect class="G" x="433.4" y="384.0" width="29.0" height="5.6"/>
<rect class="G" x="548.3" y="386.6" width="9.9" height="2.9"/>
<rect class="C" x="462.1" y="386.6" width="9.9" height="2.9"/>
<rect class="T" x="711.2" y="386.6" width="38.6" height="2.9"/>
<rect class="T" x="557.9" y="386.6" width="9.9" height="2.9"/>
<rect class="A" x="653.7" y="386.6" width="9.9" height="2.9"/>
<rect class="G" x="596.2" y="386.6" width="57.8" height="2.9"/>
<rect class="C" x="749.5" y="386.6" width="19.5" height="2.9"/>
<rect class="A" x="586.6" y="386.6" width="9.9" height="2.9"/>
<rect class="G" x="663.3" y="386.6" width="48.2" height="2.9"/>
<rect class="C" x="481.3" y="386.6" width="48.2" height="2.9"/>
<rect class="A" x="414.2" y="386.6" width="19.5" height="5.6"/>
<rect class="G" x="768.7" y="386.6" width="9.9" height="5.6"/>
<rect class="G" x="615.4" y="389.2" width="29.0" height="2.9"/>
<rect class="A" x="442.9" y="389.2" width="9.9" height="2.9"/>
<rect class="C" x="452.5" y="389.2" width="19.5" height="2.9"/>
<rect class="C" x="481.3" y="389.2" width="29.0" height="2.9"/>
<rect class="G" x="692.0" y="389.2" width="9.9" height="2.9"/>
<rect class="T" x="730.3" y="389.2" width="9.9" height="2.9"/>
<rect class="G" x="663.3" y="389.2" width="9.9" height="2.9"/>
<rect class="C" x="701.6" y="389.2" width="19.5" height="2.9"/>
<rect class="A" x="586.6" y="389.2" width="29.0" height="2.9"/>
<rect class="A" x="720.8" y="389.2" width="9.9" height="2.9"/>
<rect class="C" x="739.9" y="389.2" width="19.5" height="2.9"/>
<rect class="C" x="519.6" y="389.2" width="9.9" height="2.9"/>
<rect class="T" x="644.1" y="389.2" width="19.5" height="2.9"/>
<rect class="T" x="510.0" y="389.2" width="9.9" height="2.9"/>
<rect class="T" x="759.1" y="389.2" width="9.9" height="2.9"/>
<rect class="A" x="672.9" y="389.2" width="19.5" height="2.9"/>
<rect class="C" x="548.3" y="389.2" width="19.5" height="2.9"/>
<rect class="G" x="471.7" y="376.1" width="9.9" height="18.7"/>
<rect class="A" x="538.7" y="386.6" width="9.9" height="8.2"/>
<rect class="G" x="433.4" y="389.2" width="9.9" height="5.6"/>
<rect class="C" x="730.3" y="391.8" width="9.9" height="2.9"/>
<rect class="G" x="720.8" y="391.8" width="9.9" height="2.9"/>
<rect class="A" x="692.0" y="391.8" width="9.9" height="2.9"/>
<rect class="C" x="711.2" y="391.8" width="9.9" height="2.9"/>
<rect class="A" x="586.6" y="391.8" width="19.5" height="2.9"/>
<rect class="C" x="481.3" y="391.8" width="48.2" height="2.9"/>
<rect class="C" x="672.9" y="391.8" width="9.9" height="2.9"/>
<rect class="C" x="423.8" y="391.8" width="9.9" height="2.9"/>
<rect class="G" x="682.4" y="391.8" width="9.9" height="2.9"/>
<rect class="C" x="749.5" y="391.8" width="29.0" height="2.9"/>
<rect class="T" x="653.7" y="391.8" width="19.5" height="2.9"/>
<rect class="A" x="462.1" y="391.8" width="9.9" height="2.9"/>
<rect class="C" x="548.3" y="391.8" width="9.9" height="2.9"/>
<rect class="G" x="701.6" y="391.8" width="9.9" height="2.9"/>
<rect class="G" x="739.9" y="391.8" width="9.9" height="2.9"/>
<rect class="C" x="605.8" y="391.8" width="9.9" height="2.9"/>
<rect class="T" x="615.4" y="391.8" width="9.9" height="2.9"/>
<rect class="A" x="634.5" y="391.8" width="9.9" height="2.9"/>
<rect class="C" x="625.0" y="391.8" width="9.9" height="2.9"/>
<rect class="C" x="442.9" y="391.8" width="9.9" height="2.9"/>
<rect class="T" x="452.5" y="391.8" width="9.9" height="2.9"/>
<rect class="G" x="567.5" y="386.6" width="19.5" height="10.8"/>
<rect class="C" x="644.1" y="391.8" width="9.9" height="5.6"/>
<rect class="C" x="462.1" y="394.5" width="9.9" height="2.9"/>
<rect class="A" x="730.3" y="394.5" width="29.0" height="2.9"/>
<rect class="C" x="682.4" y="394.5" width="19.5" height="2.9"/>
<rect class="A" x="663.3" y="394.5" width="19.5" height="2.9"/>
<rect class="A" x="586.6" y="394.5" width="57.8" height="2.9"/>
<rect class="A" x="452.5" y="394.5" width="9.9" height="2.9"/>
<rect class="T" x="653.7" y="394.5" width="9.9" height="2.9"/>
<rect class="G" x="538.7" y="394.5" width="19.5" height="2.9"/>
<rect class="G" x="759.1" y="394.5" width="19.5" height="2.9"/>
<rect class="T" x="529.2" y="378.7" width="9.9" height="21.3"/>
<rect class="C" x="423.8" y="394.5" width="29.0" height="5.6"/>
<rect class="G" x="471.7" y="394.5" width="19.5" height="5.6"/>
<rect class="C" x="490.8" y="394.5" width="38.6" height="5.6"/>
<rect class="G" x="701.6" y="394.5" width="29.0" height="5.6"/>
<rect class="G" x="452.5" y="397.1" width="9.9" height="2.9"/>
<rect class="G" x="625.0" y="397.1" width="19.5" height="2.9"/>
<rect class="C" x="730.3" y="397.1" width="29.0" height="2.9"/>
<rect class="T" x="768.7" y="397.1" width="9.9" height="2.9"/>
<rect class="T" x="692.0" y="397.1" width="9.9" height="2.9"/>
<rect class="A" x="672.9" y="397.1" width="9.9" height="2.9"/>
<rect class="C" x="644.1" y="397.1" width="19.5" height="2.9"/>
<rect class="G" x="663.3" y="397.1" width="9.9" height="2.9"/>
<rect class="A" x="538.7" y="397.1" width="9.9" height="2.9"/>
<rect class="A" x="605.8" y="397.1" width="19.5" height="2.9"/>
<rect class="A" x="759.1" y="397.1" width="9.9" height="2.9"/>
<rect class="T" x="462.1" y="397.1" width="9.9" height="2.9"/>
<rect class="C" x="682.4" y="397.1" width="9.9" height="2.9"/>
<rect class="G" x="567.5" y="397.1" width="38.6" height="5.6"/>
<rect class="C" x="548.3" y="397.1" width="9.9" height="5.6"/>
<rect class="C" x="653.7" y="399.7" width="9.9" height="2.9"/>
<rect class="T" x="711.2" y="399.7" width="19.5" height="2.9"/>
<rect class="C" x="730.3" y="399.7" width="9.9" height="2.9"/>
<rect class="T" x="529.2" y="399.7" width="19.5" height="2.9"/>
<rect class="A" x="759.1" y="399.7" width="19.5" height="2.9"/>
<rect class="C" x="692.0" y="399.7" width="19.5" height="2.9"/>
<rect class="G" x="663.3" y="399.7" width="29.0" height="2.9"/>
<rect class="C" x="423.8" y="399.7" width="48.2" height="2.9"/>
<rect class="C" x="605.8" y="399.7" width="38.6" height="2.9"/>
<rect class="C" x="481.3" y="399.7" width="48.2" height="2.9"/>
<rect class="T" x="739.9" y="399.7" width="19.5" height="2.9"/>
<rect class="T" x="644.1" y="399.7" width="9.9" height="2.9"/>
<rect class="T" x="557.9" y="391.8" width="9.9" height="13.4"/>
<rect class="A" x="414.2" y="391.8" width="9.9" height="13.4"/>
<rect class="A" x="768.7" y="402.3" width="9.9" height="2.9"/>
<rect class="A" x="442.9" y="402.3" width="9.9" height="2.9"/>
<rect class="G" x="596.2" y="402.3" width="9.9" height="2.9"/>
<rect class="C" x="481.3" y="402.3" width="29.0" height="2.9"/>
<rect class="G" x="749.5" y="402.3" width="19.5" height="2.9"/>
<rect class="A" x="739.9" y="402.3" width="9.9" height="2.9"/>
<rect class="G" x="538.7" y="402.3" width="19.5" height="2.9"/>
<rect class="T" x="730.3" y="402.3" width="9.9" height="2.9"/>
<rect class="A" x="682.4" y="402.3" width="19.5" height="2.9"/>
<rect class="C" x="701.6" y="402.3" width="19.5" height="2.9"/>
<rect class="T" x="529.2" y="402.3" width="9.9" height="2.9"/>
<rect class="T" x="452.5" y="402.3" width="19.5" height="2.9"/>
<rect class="A" x="720.8" y="402.3" width="9.9" height="2.9"/>
<rect class="G" x="672.9" y="402.3" width="9.9" height="2.9"/>
<rect class="C" x="644.1" y="402.3" width="29.0" height="2.9"/>
<rect class="A" x="634.5" y="402.3" width="9.9" height="2.9"/>
<rect class="C" x="615.4" y="402.3" width="19.5" height="2.9"/>
<rect class="C" x="423.8" y="402.3" width="19.5" height="2.9"/>
<rect class="C" x="519.6" y="402.3" width="9.9" height="2.9"/>
<rect class="T" x="510.0" y="402.3" width="9.9" height="2.9"/>
<rect class="A" x="605.8" y="402.3" width="9.9" height="2.9"/>
<rect class="G" x="471.7" y="399.7" width="9.9" height="8.2"/>
<rect class="C" x="548.3" y="405.0" width="19.5" height="2.9"/>
<rect class="A" x="625.0" y="405.0" width="29.0" height="2.9"/>
<rect class="G" x="711.2" y="405.0" width="29.0" height="2.9"/>
<rect class="A" x="692.0" y="405.0" width="9.9" height="2.9"/>
<rect class="C" x="653.7" y="405.0" width="38.6" height="2.9"/>
<rect class="C" x="739.9" y="405.0" width="9.9" height="2.9"/>
<rect class="A" x="749.5" y="405.0" width="9.9" height="2.9"/>
<rect class="G" x="596.2" y="405.0" width="29.0" height="2.9"/>
<rect class="T" x="759.1" y="405.0" width="19.5" height="2.9"/>
<rect class="T" x="701.6" y="405.0" width="9.9" height="2.9"/>
<rect class="C" x="586.6" y="402.3" width="9.9" height="8.2"/>
<rect class="C" x="462.1" y="405.0" width="9.9" height="5.6"/>
<rect class="T" x="529.2" y="405.0" width="19.5" height="5.6"/>
<rect class="A" x="414.2" y="405.0" width="48.2" height="5.6"/>
<rect class="C" x="481.3" y="405.0" width="48.2" height="5.6"/>
<rect class="G" x="548.3" y="407.6" width="9.9" height="2.9"/>
<rect class="G" x="663.3" y="407.6" width="19.5" height="2.9"/>
<rect class="A" x="682.4" y="407.6" width="29.0" height="2.9"/>
<rect class="T" x="739.9" y="407.6" width="38.6" height="2.9"/>
<rect class="C" x="615.4" y="407.6" width="48.2" height="2.9"/>
<rect class="T" x="557.9" y="407.6" width="9.9" height="2.9"/>
<rect class="A" x="720.8" y="407.6" width="19.5" height="2.9"/>
<rect class="G" x="711.2" y="407.6" width="9.9" height="2.9"/>
<rect class="T" x="471.7" y="407.6" width="9.9" height="2.9"/>
<rect class="G" x="596.2" y="407.6" width="19.5" height="5.6"/>
<rect class="T" x="625.0" y="410.2" width="19.5" height="2.9"/>
<rect class="A" x="768.7" y="410.2" width="9.9" height="2.9"/>
<rect class="A" x="653.7" y="410.2" width="19.5" height="2.9"/>
<rect class="G" x="672.9" y="410.2" width="19.5" height="2.9"/>
<rect class="G" x="644.1" y="410.2" width="9.9" height="2.9"/>
<rect class="C" x="433.4" y="410.2" width="38.6" height="2.9"/>
<rect class="A" x="538.7" y="410.2" width="9.9" height="2.9"/>
<rect class="C" x="692.0" y="410.2" width="19.5" height="2.9"/>
<rect class="C" x="481.3" y="410.2" width="57.8" height="2.9"/>
<rect class="T" x="711.2" y="410.2" width="29.0" height="2.9"/>
<rect class="A" x="414.2" y="410.2" width="9.9" height="2.9"/>
<rect class="T" x="423.8" y="410.2" width="9.9" height="2.9"/>
<rect class="T" x="759.1" y="410.2" width="9.9" height="2.9"/>
<rect class="A" x="739.9" y="410.2" width="19.5" height="2.9"/>
<rect class="C" x="548.3" y="410.2" width="19.5" height="5.6"/>
<rect class="C" x="615.4" y="410.2" width="9.9" height="5.6"/>
<rect class="A" x="442.9" y="412.8" width="9.9" height="2.9"/>
<rect class="A" x="730.3" y="412.8" width="9.9" height="2.9"/>
<rect class="G" x="605.8" y="412.8" width="9.9" height="2.9"/>
<rect class="C" x="462.1" y="412.8" width="9.9" height="2.9"/>
<rect class="C" x="423.8" y="412.8" width="9.9" height="2.9"/>
<rect class="A" x="634.5" y="412.8" width="19.5" height="2.9"/>
<rect class="C" x="682.4" y="412.8" width="19.5" height="2.9"/>
<rect class="A" x="672.9" y="412.8" width="9.9" height="2.9"/>
<rect class="G" x="625.0" y="412.8" width="9.9" height="2.9"/>
<rect class="C" x="519.6" y="412.8" width="19.5" height="2.9"/>
<rect class="T" x="701.6" y="412.8" width="29.0" height="2.9"/>
<rect class="A" x="596.2" y="412.8" width="9.9" height="2.9"/>
<rect class="C" x="739.9" y="412.8" width="38.6" height="2.9"/>
<rect class="C" x="653.7" y="412.8" width="19.5" height="2.9"/>
<rect class="T" x="452.5" y="412.8" width="9.9" height="2.9"/>
<rect class="T" x="586.6" y="410.2" width="9.9" height="8.2"/>
<rect class="G" x="433.4" y="412.8" width="9.9" height="5.6"/>
<rect class="G" x="538.7" y="412.8" width="9.9" height="5.6"/>
<rect class="G" x="720.8" y="415.5" width="9.9" height="2.9"/>
<rect class="C" x="452.5" y="415.5" width="19.5" height="2.9"/>
<rect class="C" x="596.2" y="415.5" width="38.6" height="2.9"/>
<rect class="T" x="672.9" y="415.5" width="19.5" height="2.9"/>
<rect class="T" x="644.1" y="415.5" width="9.9" height="2.9"/>
<rect class="A" x="692.0" y="415.5" width="29.0" height="2.9"/>
<rect class="T" x="442.9" y="415.5" width="9.9" height="2.9"/>
<rect class="T" x="730.3" y="415.5" width="9.9" height="2.9"/>
<rect class="G" x="759.1" y="415.5" width="19.5" height="2.9"/>
<rect class="T" x="529.2" y="415.5" width="9.9" height="2.9"/>
<rect class="G" x="653.7" y="415.5" width="9.9" height="2.9"/>
<rect class="T" x="423.8" y="415.5" width="9.9" height="2.9"/>
<rect class="C" x="739.9" y="415.5" width="19.5" height="2.9"/>
<rect class="A" x="634.5" y="415.5" width="9.9" height="2.9"/>
<rect class="G" x="414.2" y="412.8" width="9.9" height="8.2"/>
<rect class="C" x="481.3" y="412.8" width="29.0" height="8.2"/>
<rect class="T" x="510.0" y="412.8" width="9.9" height="8.2"/>
<rect class="T" x="557.9" y="415.5" width="9.9" height="5.6"/>
<rect class="C" x="548.3" y="415.5" width="9.9" height="5.6"/>
<rect class="C" x="519.6" y="415.5" width="9.9" height="5.6"/>
<rect class="C" x="663.3" y="415.5" width="9.9" height="5.6"/>
<rect class="T" x="529.2" y="418.1" width="19.5" height="2.9"/>
<rect class="G" x="692.0" y="418.1" width="19.5" height="2.9"/>
<rect class="C" x="739.9" y="418.1" width="9.9" height="2.9"/>
<rect class="C" x="625.0" y="418.1" width="29.0" height="2.9"/>
<rect class="C" x="423.8" y="418.1" width="29.0" height="2.9"/>
<rect class="A" x="615.4" y="418.1" width="9.9" height="2.9"/>
<rect class="G" x="730.3" y="418.1" width="9.9" height="2.9"/>
<rect class="A" x="749.5" y="418.1" width="29.0" height="2.9"/>
<rect class="T" x="653.7" y="418.1" width="9.9" height="2.9"/>
<rect class="T" x="672.9" y="418.1" width="9.9" height="2.9"/>
<rect class="T" x="586.6" y="418.1" width="29.0" height="2.9"/>
<rect class="C" x="682.4" y="418.1" width="9.9" height="2.9"/>
<rect class="A" x="711.2" y="418.1" width="19.5" height="2.9"/>
<rect class="T" x="452.5" y="418.1" width="9.9" height="2.9"/>
<rect class="C" x="462.1" y="418.1" width="9.9" height="5.6"/>
<rect class="G" x="615.4" y="420.7" width="29.0" height="2.9"/>
<rect class="A" x="672.9" y="420.7" width="38.6" height="2.9"/>
<rect class="C" x="481.3" y="420.7" width="48.2" height="2.9"/>
<rect class="T" x="644.1" y="420.7" width="29.0" height="2.9"/>
<rect class="G" x="768.7" y="420.7" width="9.9" height="2.9"/>
<rect class="G" x="538.7" y="420.7" width="19.5" height="2.9"/>
<rect class="T" x="586.6" y="420.7" width="19.5" height="2.9"/>
<rect class="C" x="730.3" y="420.7" width="19.5" height="2.9"/>
<rect class="C" x="557.9" y="420.7" width="9.9" height="2.9"/>
<rect class="G" x="711.2" y="420.7" width="9.9" height="2.9"/>
<rect class="A" x="720.8" y="420.7" width="9.9" height="2.9"/>
<rect class="T" x="423.8" y="420.7" width="29.0" height="2.9"/>
<rect class="A" x="749.5" y="420.7" width="19.5" height="2.9"/>
<rect class="A" x="605.8" y="420.7" width="9.9" height="2.9"/>
<rect class="A" x="452.5" y="420.7" width="9.9" height="5.6"/>
<rect class="G" x="634.5" y="423.3" width="29.0" height="2.9"/>
<rect class="T" x="557.9" y="423.3" width="9.9" height="2.9"/>
<rect class="C" x="739.9" y="423.3" width="9.9" height="2.9"/>
<rect class="C" x="481.3" y="423.3" width="29.0" height="2.9"/>
<rect class="G" x="605.8" y="423.3" width="9.9" height="2.9"/>
<rect class="T" x="615.4" y="423.3" width="19.5" height="2.9"/>
<rect class="C" x="682.4" y="423.3" width="19.5" height="2.9"/>
<rect class="T" x="442.9" y="423.3" width="9.9" height="2.9"/>
<rect class="T" x="663.3" y="423.3" width="9.9" height="2.9"/>
<rect class="C" x="586.6" y="423.3" width="9.9" height="2.9"/>
<rect class="A" x="749.5" y="423.3" width="29.0" height="2.9"/>
<rect class="T" x="462.1" y="423.3" width="9.9" height="2.9"/>
<rect class="A" x="596.2" y="423.3" width="9.9" height="2.9"/>
<rect class="C" x="423.8" y="423.3" width="19.5" height="2.9"/>
<rect class="C" x="519.6" y="423.3" width="9.9" height="2.9"/>
<rect class="A" x="701.6" y="423.3" width="38.6" height="2.9"/>
<rect class="T" x="510.0" y="423.3" width="9.9" height="2.9"/>
<rect class="C" x="538.7" y="423.3" width="19.5" height="2.9"/>
<rect class="A" x="414.2" y="420.7" width="9.9" height="8.2"/>
<rect class="A" x="672.9" y="423.3" width="9.9" height="5.6"/>
<rect class="C" x="586.6" y="426.0" width="19.5" height="2.9"/>
<rect class="C" x="701.6" y="426.0" width="9.9" height="2.9"/>
<rect class="G" x="711.2" y="426.0" width="19.5" height="2.9"/>
<rect class="G" x="682.4" y="426.0" width="19.5" height="2.9"/>
<rect class="T" x="605.8" y="426.0" width="67.4" height="2.9"/>
<rect class="T" x="423.8" y="426.0" width="48.2" height="2.9"/>
<rect class="C" x="538.7" y="426.0" width="29.0" height="2.9"/>
<rect class="A" x="730.3" y="426.0" width="48.2" height="5.6"/>
<rect class="G" x="452.5" y="428.6" width="9.9" height="2.9"/>
<rect class="G" x="634.5" y="428.6" width="29.0" height="2.9"/>
<rect class="A" x="625.0" y="428.6" width="9.9" height="2.9"/>
<rect class="T" x="663.3" y="428.6" width="38.6" height="2.9"/>
<rect class="C" x="701.6" y="428.6" width="29.0" height="2.9"/>
<rect class="T" x="442.9" y="428.6" width="9.9" height="2.9"/>
<rect class="A" x="462.1" y="428.6" width="9.9" height="2.9"/>
<rect class="C" x="548.3" y="428.6" width="9.9" height="2.9"/>
<rect class="C" x="586.6" y="428.6" width="9.9" height="2.9"/>
<rect class="T" x="414.2" y="428.6" width="19.5" height="2.9"/>
<rect class="A" x="557.9" y="428.6" width="9.9" height="2.9"/>
<rect class="A" x="596.2" y="428.6" width="9.9" height="2.9"/>
<rect class="C" x="605.8" y="428.6" width="9.9" height="2.9"/>
<rect class="G" x="615.4" y="428.6" width="9.9" height="2.9"/>
<rect class="G" x="567.5" y="402.3" width="19.5" height="31.8"/>
<rect class="T" x="529.2" y="420.7" width="9.9" height="13.4"/>
<rect class="C" x="433.4" y="428.6" width="9.9" height="5.6"/>
<rect class="G" x="538.7" y="428.6" width="9.9" height="5.6"/>
<rect class="C" x="615.4" y="431.2" width="38.6" height="2.9"/>
<rect class="T" x="414.2" y="431.2" width="9.9" height="2.9"/>
<rect class="A" x="701.6" y="431.2" width="9.9" height="2.9"/>
<rect class="A" x="596.2" y="431.2" width="19.5" height="2.9"/>
<rect class="A" x="739.9" y="431.2" width="19.5" height="2.9"/>
<rect class="A" x="653.7" y="431.2" width="9.9" height="2.9"/>
<rect class="A" x="442.9" y="431.2" width="19.5" height="2.9"/>
<rect class="G" x="682.4" y="431.2" width="19.5" height="2.9"/>
<rect class="G" x="423.8" y="431.2" width="9.9" height="2.9"/>
<rect class="T" x="663.3" y="431.2" width="19.5" height="2.9"/>
<rect class="C" x="548.3" y="431.2" width="19.5" height="2.9"/>
<rect class="T" x="586.6" y="431.2" width="9.9" height="2.9"/>
<rect class="A" x="768.7" y="431.2" width="9.9" height="5.6"/>
<rect class="T" x="759.1" y="431.2" width="9.9" height="5.6"/>
<rect class="C" x="720.8" y="431.2" width="19.5" height="5.6"/>
<rect class="C" x="433.4" y="433.8" width="29.0" height="2.9"/>
<rect class="T" x="529.2" y="433.8" width="19.5" height="2.9"/>
<rect class="G" x="596.2" y="433.8" width="9.9" height="2.9"/>
<rect class="A" x="653.7" y="433.8" width="38.6" height="2.9"/>
<rect class="A" x="739.9" y="433.8" width="9.9" height="2.9"/>
<rect class="T" x="414.2" y="433.8" width="19.5" height="2.9"/>
<rect class="C" x="692.0" y="433.8" width="19.5" height="2.9"/>
<rect class="C" x="605.8" y="433.8" width="29.0" height="2.9"/>
<rect class="G" x="749.5" y="433.8" width="9.9" height="2.9"/>
<rect class="A" x="557.9" y="433.8" width="9.9" height="2.9"/>
<rect class="C" x="577.1" y="433.8" width="19.5" height="2.9"/>
<rect class="G" x="548.3" y="433.8" width="9.9" height="2.9"/>
<rect class="G" x="471.7" y="410.2" width="9.9" height="29.2"/>
<rect class="G" x="711.2" y="431.2" width="9.9" height="8.2"/>
<rect class="T" x="462.1" y="431.2" width="9.9" height="8.2"/>
<rect class="T" x="644.1" y="433.8" width="9.9" height="5.6"/>
<rect class="A" x="634.5" y="433.8" width="9.9" height="5.6"/>
<rect class="C" x="577.1" y="436.5" width="57.8" height="2.9"/>
<rect class="T" x="414.2" y="436.5" width="9.9" height="2.9"/>
<rect class="A" x="759.1" y="436.5" width="19.5" height="2.9"/>
<rect class="A" x="663.3" y="436.5" width="9.9" height="2.9"/>
<rect class="A" x="730.3" y="436.5" width="9.9" height="2.9"/>
<rect class="A" x="701.6" y="436.5" width="9.9" height="2.9"/>
<rect class="G" x="739.9" y="436.5" width="19.5" height="2.9"/>
<rect class="C" x="672.9" y="436.5" width="29.0" height="2.9"/>
<rect class="G" x="423.8" y="436.5" width="19.5" height="2.9"/>
<rect class="C" x="720.8" y="436.5" width="9.9" height="2.9"/>
<rect class="C" x="442.9" y="436.5" width="19.5" height="2.9"/>
<rect class="G" x="653.7" y="436.5" width="9.9" height="2.9"/>
<rect class="C" x="548.3" y="436.5" width="9.9" height="5.6"/>
<rect class="G" x="538.7" y="436.5" width="9.9" height="5.6"/>
<rect class="T" x="692.0" y="439.1" width="19.5" height="2.9"/>
<rect class="C" x="442.9" y="439.1" width="9.9" height="2.9"/>
<rect class="C" x="462.1" y="439.1" width="9.9" height="2.9"/>
<rect class="G" x="433.4" y="439.1" width="9.9" height="2.9"/>
<rect class="C" x="423.8" y="439.1" width="9.9" height="2.9"/>
<rect class="C" x="625.0" y="439.1" width="67.4" height="2.9"/>
<rect class="A" x="759.1" y="439.1" width="9.9" height="2.9"/>
<rect class="T" x="596.2" y="439.1" width="19.5" height="2.9"/>
<rect class="A" x="586.6" y="439.1" width="9.9" height="2.9"/>
<rect class="A" x="414.2" y="439.1" width="9.9" height="2.9"/>
<rect class="G" x="615.4" y="439.1" width="9.9" height="2.9"/>
<rect class="G" x="711.2" y="439.1" width="48.2" height="2.9"/>
<rect class="C" x="768.7" y="439.1" width="9.9" height="2.9"/>
<rect class="T" x="471.7" y="439.1" width="9.9" height="2.9"/>
<rect class="T" x="452.5" y="439.1" width="9.9" height="2.9"/>
<rect class="G" x="567.5" y="433.8" width="9.9" height="10.8"/>
<rect class="T" x="557.9" y="436.5" width="9.9" height="8.2"/>
<rect class="T" x="577.1" y="439.1" width="9.9" height="5.6"/>
<rect class="A" x="423.8" y="441.7" width="38.6" height="2.9"/>
<rect class="T" x="414.2" y="441.7" width="9.9" height="2.9"/>
<rect class="C" x="749.5" y="441.7" width="9.9" height="2.9"/>
<rect class="G" x="625.0" y="441.7" width="38.6" height="2.9"/>
<rect class="T" x="682.4" y="441.7" width="29.0" height="2.9"/>
<rect class="A" x="672.9" y="441.7" width="9.9" height="2.9"/>
<rect class="T" x="663.3" y="441.7" width="9.9" height="2.9"/>
<rect class="T" x="730.3" y="441.7" width="9.9" height="2.9"/>
<rect class="G" x="739.9" y="441.7" width="9.9" height="2.9"/>
<rect class="G" x="596.2" y="441.7" width="19.5" height="2.9"/>
<rect class="A" x="471.7" y="441.7" width="9.9" height="2.9"/>
<rect class="G" x="711.2" y="441.7" width="9.9" height="2.9"/>
<rect class="A" x="720.8" y="441.7" width="9.9" height="2.9"/>
<rect class="T" x="462.1" y="441.7" width="9.9" height="2.9"/>
<rect class="T" x="615.4" y="441.7" width="9.9" height="2.9"/>
<rect class="G" x="538.7" y="441.7" width="19.5" height="5.6"/>
<rect class="G" x="759.1" y="441.7" width="19.5" height="5.6"/>
<rect class="A" x="442.9" y="444.3" width="9.9" height="2.9"/>
<rect class="C" x="452.5" y="444.3" width="19.5" height="2.9"/>
<rect class="G" x="634.5" y="444.3" width="9.9" height="2.9"/>
<rect class="G" x="567.5" y="444.3" width="19.5" height="2.9"/>
<rect class="C" x="672.9" y="444.3" width="29.0" height="2.9"/>
<rect class="A" x="749.5" y="444.3" width="9.9" height="2.9"/>
<rect class="G" x="653.7" y="444.3" width="19.5" height="2.9"/>
<rect class="C" x="414.2" y="444.3" width="9.9" height="2.9"/>
<rect class="A" x="701.6" y="444.3" width="19.5" height="2.9"/>
<rect class="A" x="557.9" y="444.3" width="9.9" height="2.9"/>
<rect class="C" x="433.4" y="444.3" width="9.9" height="2.9"/>
<rect class="A" x="596.2" y="444.3" width="29.0" height="2.9"/>
<rect class="G" x="423.8" y="444.3" width="9.9" height="2.9"/>
<rect class="C" x="625.0" y="444.3" width="9.9" height="2.9"/>
<rect class="A" x="644.1" y="444.3" width="9.9" height="2.9"/>
<rect class="T" x="730.3" y="444.3" width="19.5" height="2.9"/>
<rect class="T" x="529.2" y="436.5" width="9.9" height="13.4"/>
<rect class="C" x="720.8" y="444.3" width="9.9" height="5.6"/>
<rect class="G" x="730.3" y="447.0" width="19.5" height="2.9"/>
<rect class="T" x="596.2" y="447.0" width="9.9" height="2.9"/>
<rect class="A" x="605.8" y="447.0" width="29.0" height="2.9"/>
<rect class="T" x="634.5" y="447.0" width="9.9" height="2.9"/>
<rect class="C" x="462.1" y="447.0" width="9.9" height="2.9"/>
<rect class="G" x="433.4" y="447.0" width="29.0" height="2.9"/>
<rect class="G" x="663.3" y="447.0" width="9.9" height="2.9"/>
<rect class="T" x="711.2" y="447.0" width="9.9" height="2.9"/>
<rect class="A" x="644.1" y="447.0" width="19.5" height="2.9"/>
<rect class="G" x="567.5" y="447.0" width="9.9" height="2.9"/>
<rect class="C" x="749.5" y="447.0" width="19.5" height="2.9"/>
<rect class="T" x="672.9" y="447.0" width="9.9" height="2.9"/>
<rect class="G" x="538.7" y="447.0" width="9.9" height="2.9"/>
<rect class="T" x="577.1" y="447.0" width="9.9" height="2.9"/>
<rect class="C" x="481.3" y="426.0" width="48.2" height="26.6"/>
<rect class="C" x="586.6" y="441.7" width="9.9" height="10.8"/>
<rect class="T" x="557.9" y="447.0" width="9.9" height="5.6"/>
<rect class="A" x="414.2" y="447.0" width="19.5" height="5.6"/>
<rect class="G" x="768.7" y="447.0" width="9.9" height="5.6"/>
<rect class="C" x="548.3" y="447.0" width="9.9" height="5.6"/>
<rect class="C" x="682.4" y="447.0" width="29.0" height="5.6"/>
<rect class="G" x="567.5" y="449.6" width="19.5" height="2.9"/>
<rect class="T" x="634.5" y="449.6" width="48.2" height="2.9"/>
<rect class="C" x="433.4" y="449.6" width="19.5" height="2.9"/>
<rect class="C" x="759.1" y="449.6" width="9.9" height="2.9"/>
<rect class="A" x="605.8" y="449.6" width="19.5" height="2.9"/>
<rect class="T" x="452.5" y="449.6" width="19.5" height="2.9"/>
<rect class="C" x="625.0" y="449.6" width="9.9" height="2.9"/>
<rect class="A" x="711.2" y="449.6" width="19.5" height="2.9"/>
<rect class="A" x="739.9" y="449.6" width="19.5" height="2.9"/>
<rect class="T" x="529.2" y="449.6" width="19.5" height="5.6"/>
<rect class="G" x="596.2" y="449.6" width="9.9" height="5.6"/>
<rect class="G" x="730.3" y="449.6" width="9.9" height="5.6"/>
<rect class="G" x="452.5" y="452.2" width="9.9" height="2.9"/>
<rect class="A" x="768.7" y="452.2" width="9.9" height="2.9"/>
<rect class="G" x="557.9" y="452.2" width="9.9" height="2.9"/>
<rect class="A" x="442.9" y="452.2" width="9.9" height="2.9"/>
<rect class="T" x="605.8" y="452.2" width="57.8" height="2.9"/>
<rect class="C" x="692.0" y="452.2" width="29.0" height="2.9"/>
<rect class="T" x="672.9" y="452.2" width="19.5" height="2.9"/>
<rect class="T" x="433.4" y="452.2" width="9.9" height="2.9"/>
<rect class="A" x="548.3" y="452.2" width="9.9" height="2.9"/>
<rect class="T" x="567.5" y="452.2" width="9.9" height="2.9"/>
<rect class="A" x="720.8" y="452.2" width="9.9" height="2.9"/>
<rect class="G" x="423.8" y="452.2" width="9.9" height="2.9"/>
<rect class="G" x="577.1" y="452.2" width="9.9" height="2.9"/>
<rect class="G" x="759.1" y="452.2" width="9.9" height="2.9"/>
<rect class="C" x="663.3" y="452.2" width="9.9" height="2.9"/>
<rect class="T" x="586.6" y="452.2" width="9.9" height="2.9"/>
<rect class="G" x="471.7" y="444.3" width="9.9" height="13.4"/>
<rect class="C" x="481.3" y="452.2" width="29.0" height="5.6"/>
<rect class="T" x="739.9" y="452.2" width="19.5" height="5.6"/>
<rect class="A" x="414.2" y="452.2" width="9.9" height="5.6"/>
<rect class="C" x="519.6" y="452.2" width="9.9" height="5.6"/>
<rect class="T" x="510.0" y="452.2" width="9.9" height="5.6"/>
<rect class="A" x="615.4" y="454.8" width="19.5" height="2.9"/>
<rect class="A" x="730.3" y="454.8" width="9.9" height="2.9"/>
<rect class="G" x="567.5" y="454.8" width="19.5" height="2.9"/>
<rect class="G" x="605.8" y="454.8" width="9.9" height="2.9"/>
<rect class="G" x="433.4" y="454.8" width="29.0" height="2.9"/>
<rect class="C" x="692.0" y="454.8" width="38.6" height="2.9"/>
<rect class="G" x="634.5" y="454.8" width="19.5" height="2.9"/>
<rect class="G" x="663.3" y="454.8" width="29.0" height="2.9"/>
<rect class="A" x="596.2" y="454.8" width="9.9" height="2.9"/>
<rect class="T" x="423.8" y="454.8" width="9.9" height="2.9"/>
<rect class="C" x="538.7" y="454.8" width="19.5" height="2.9"/>
<rect class="T" x="557.9" y="454.8" width="9.9" height="5.6"/>
<rect class="C" x="586.6" y="454.8" width="9.9" height="5.6"/>
<rect class="T" x="653.7" y="454.8" width="9.9" height="5.6"/>
<rect class="C" x="759.1" y="454.8" width="19.5" height="5.6"/>
<rect class="C" x="452.5" y="457.5" width="9.9" height="2.9"/>
<rect class="G" x="663.3" y="457.5" width="19.5" height="2.9"/>
<rect class="T" x="701.6" y="457.5" width="57.8" height="2.9"/>
<rect class="G" x="471.7" y="457.5" width="19.5" height="2.9"/>
<rect class="A" x="442.9" y="457.5" width="9.9" height="2.9"/>
<rect class="C" x="682.4" y="457.5" width="19.5" height="2.9"/>
<rect class="A" x="577.1" y="457.5" width="9.9" height="2.9"/>
<rect class="G" x="596.2" y="457.5" width="57.8" height="2.9"/>
<rect class="G" x="414.2" y="457.5" width="29.0" height="2.9"/>
<rect class="C" x="490.8" y="457.5" width="38.6" height="2.9"/>
<rect class="G" x="538.7" y="457.5" width="19.5" height="2.9"/>
<rect class="G" x="567.5" y="457.5" width="9.9" height="2.9"/>
<rect class="T" x="462.1" y="452.2" width="9.9" height="10.8"/>
<rect class="T" x="739.9" y="460.1" width="38.6" height="2.9"/>
<rect class="A" x="692.0" y="460.1" width="19.5" height="2.9"/>
<rect class="A" x="423.8" y="460.1" width="38.6" height="2.9"/>
<rect class="C" x="711.2" y="460.1" width="29.0" height="2.9"/>
<rect class="C" x="557.9" y="460.1" width="9.9" height="2.9"/>
<rect class="G" x="414.2" y="460.1" width="9.9" height="2.9"/>
<rect class="G" x="615.4" y="460.1" width="19.5" height="2.9"/>
<rect class="G" x="567.5" y="460.1" width="38.6" height="2.9"/>
<rect class="T" x="548.3" y="460.1" width="9.9" height="2.9"/>
<rect class="A" x="605.8" y="460.1" width="9.9" height="2.9"/>
<rect class="G" x="538.7" y="460.1" width="9.9" height="2.9"/>
<rect class="C" x="634.5" y="460.1" width="57.8" height="2.9"/>
<rect class="T" x="529.2" y="454.8" width="9.9" height="10.8"/>
<rect class="C" x="481.3" y="460.1" width="48.2" height="5.6"/>
<rect class="G" x="730.3" y="462.7" width="19.5" height="2.9"/>
<rect class="T" x="557.9" y="462.7" width="9.9" height="2.9"/>
<rect class="A" x="701.6" y="462.7" width="9.9" height="2.9"/>
<rect class="T" x="672.9" y="462.7" width="19.5" height="2.9"/>
<rect class="C" x="634.5" y="462.7" width="19.5" height="2.9"/>
<rect class="C" x="462.1" y="462.7" width="9.9" height="2.9"/>
<rect class="G" x="768.7" y="462.7" width="9.9" height="2.9"/>
<rect class="G" x="692.0" y="462.7" width="9.9" height="2.9"/>
<rect class="A" x="615.4" y="462.7" width="9.9" height="2.9"/>
<rect class="G" x="567.5" y="462.7" width="48.2" height="2.9"/>
<rect class="G" x="653.7" y="462.7" width="9.9" height="2.9"/>
<rect class="C" x="711.2" y="462.7" width="19.5" height="2.9"/>
<rect class="A" x="749.5" y="462.7" width="19.5" height="2.9"/>
<rect class="A" x="414.2" y="462.7" width="48.2" height="2.9"/>
<rect class="C" x="538.7" y="462.7" width="19.5" height="2.9"/>
<rect class="C" x="663.3" y="462.7" width="9.9" height="2.9"/>
<rect class="G" x="471.7" y="460.1" width="9.9" height="8.2"/>
<rect class="G" x="625.0" y="462.7" width="9.9" height="5.6"/>
<rect class="T" x="605.8" y="465.3" width="9.9" height="2.9"/>
<rect class="A" x="739.9" y="465.3" width="9.9" height="2.9"/>
<rect class="C" x="433.4" y="465.3" width="19.5" height="2.9"/>
<rect class="C" x="615.4" y="465.3" width="9.9" height="2.9"/>
<rect class="G" x="663.3" y="465.3" width="76.9" height="2.9"/>
<rect class="C" x="644.1" y="465.3" width="19.5" height="2.9"/>
<rect class="G" x="586.6" y="465.3" width="19.5" height="2.9"/>
<rect class="A" x="577.1" y="465.3" width="9.9" height="2.9"/>
<rect class="A" x="452.5" y="465.3" width="9.9" height="2.9"/>
<rect class="G" x="567.5" y="465.3" width="9.9" height="2.9"/>
<rect class="T" x="462.1" y="465.3" width="9.9" height="2.9"/>
<rect class="A" x="634.5" y="465.3" width="9.9" height="2.9"/>
<rect class="G" x="423.8" y="465.3" width="9.9" height="2.9"/>
<rect class="C" x="768.7" y="465.3" width="9.9" height="2.9"/>
<rect class="G" x="538.7" y="465.3" width="9.9" height="2.9"/>
<rect class="G" x="749.5" y="465.3" width="19.5" height="5.6"/>
<rect class="C" x="481.3" y="465.3" width="57.8" height="5.6"/>
<rect class="C" x="548.3" y="465.3" width="19.5" height="5.6"/>
<rect class="A" x="768.7" y="468.0" width="9.9" height="2.9"/>
<rect class="G" x="644.1" y="468.0" width="9.9" height="2.9"/>
<rect class="T" x="739.9" y="468.0" width="9.9" height="2.9"/>
<rect class="A" x="596.2" y="468.0" width="38.6" height="2.9"/>
<rect class="T" x="538.7" y="468.0" width="9.9" height="2.9"/>
<rect class="G" x="423.8" y="468.0" width="19.5" height="2.9"/>
<rect class="T" x="634.5" y="468.0" width="9.9" height="2.9"/>
<rect class="A" x="471.7" y="468.0" width="9.9" height="2.9"/>
<rect class="C" x="653.7" y="468.0" width="29.0" height="2.9"/>
<rect class="A" x="682.4" y="468.0" width="57.8" height="2.9"/>
<rect class="G" x="462.1" y="468.0" width="9.9" height="2.9"/>
<rect class="C" x="442.9" y="468.0" width="19.5" height="5.6"/>
<rect class="G" x="567.5" y="468.0" width="29.0" height="5.6"/>
<rect class="A" x="663.3" y="470.6" width="9.9" height="2.9"/>
<rect class="C" x="701.6" y="470.6" width="29.0" height="2.9"/>
<rect class="T" x="433.4" y="470.6" width="9.9" height="2.9"/>
<rect class="C" x="423.8" y="470.6" width="9.9" height="2.9"/>
<rect class="G" x="759.1" y="470.6" width="19.5" height="2.9"/>
<rect class="A" x="596.2" y="470.6" width="57.8" height="2.9"/>
<rect class="T" x="730.3" y="470.6" width="29.0" height="2.9"/>
<rect class="T" x="653.7" y="470.6" width="9.9" height="2.9"/>
<rect class="T" x="672.9" y="470.6" width="29.0" height="2.9"/>
<rect class="T" x="462.1" y="470.6" width="9.9" height="2.9"/>
<rect class="A" x="414.2" y="465.3" width="9.9" height="10.8"/>
<rect class="C" x="538.7" y="470.6" width="9.9" height="5.6"/>
<rect class="G" x="548.3" y="470.6" width="9.9" height="5.6"/>
<rect class="A" x="711.2" y="473.2" width="57.8" height="2.9"/>
<rect class="G" x="634.5" y="473.2" width="9.9" height="2.9"/>
<rect class="C" x="433.4" y="473.2" width="19.5" height="2.9"/>
<rect class="A" x="462.1" y="473.2" width="9.9" height="2.9"/>
<rect class="G" x="701.6" y="473.2" width="9.9" height="2.9"/>
<rect class="G" x="596.2" y="473.2" width="19.5" height="2.9"/>
<rect class="A" x="586.6" y="473.2" width="9.9" height="2.9"/>
<rect class="T" x="423.8" y="473.2" width="9.9" height="2.9"/>
<rect class="A" x="663.3" y="473.2" width="38.6" height="2.9"/>
<rect class="C" x="615.4" y="473.2" width="19.5" height="2.9"/>
<rect class="T" x="644.1" y="473.2" width="19.5" height="2.9"/>
<rect class="T" x="452.5" y="473.2" width="9.9" height="2.9"/>
<rect class="G" x="471.7" y="470.6" width="9.9" height="8.2"/>
<rect class="C" x="481.3" y="470.6" width="48.2" height="8.2"/>
<rect class="C" x="768.7" y="473.2" width="9.9" height="5.6"/>
<rect class="G" x="452.5" y="475.9" width="9.9" height="2.9"/>
<rect class="G" x="615.4" y="475.9" width="29.0" height="2.9"/>
<rect class="A" x="586.6" y="475.9" width="19.5" height="2.9"/>
<rect class="C" x="462.1" y="475.9" width="9.9" height="2.9"/>
<rect class="A" x="730.3" y="475.9" width="29.0" height="2.9"/>
<rect class="C" x="663.3" y="475.9" width="19.5" height="2.9"/>
<rect class="A" x="682.4" y="475.9" width="19.5" height="2.9"/>
<rect class="G" x="701.6" y="475.9" width="29.0" height="2.9"/>
<rect class="G" x="653.7" y="475.9" width="9.9" height="2.9"/>
<rect class="C" x="605.8" y="475.9" width="9.9" height="2.9"/>
<rect class="A" x="414.2" y="475.9" width="29.0" height="2.9"/>
<rect class="C" x="442.9" y="475.9" width="9.9" height="2.9"/>
<rect class="G" x="759.1" y="475.9" width="9.9" height="2.9"/>
<rect class="T" x="644.1" y="475.9" width="9.9" height="5.6"/>
<rect class="C" x="548.3" y="475.9" width="9.9" height="5.6"/>
<rect class="A" x="538.7" y="475.9" width="9.9" height="5.6"/>
<rect class="G" x="730.3" y="478.5" width="19.5" height="2.9"/>
<rect class="G" x="596.2" y="478.5" width="9.9" height="2.9"/>
<rect class="A" x="701.6" y="478.5" width="9.9" height="2.9"/>
<rect class="T" x="605.8" y="478.5" width="29.0" height="2.9"/>
<rect class="G" x="759.1" y="478.5" width="19.5" height="2.9"/>
<rect class="C" x="433.4" y="478.5" width="38.6" height="2.9"/>
<rect class="A" x="653.7" y="478.5" width="29.0" height="2.9"/>
<rect class="T" x="749.5" y="478.5" width="9.9" height="2.9"/>
<rect class="G" x="711.2" y="478.5" width="9.9" height="2.9"/>
<rect class="A" x="634.5" y="478.5" width="9.9" height="2.9"/>
<rect class="G" x="682.4" y="478.5" width="19.5" height="2.9"/>
<rect class="T" x="471.7" y="478.5" width="9.9" height="2.9"/>
<rect class="C" x="510.0" y="478.5" width="19.5" height="5.6"/>
<rect class="C" x="481.3" y="478.5" width="19.5" height="5.6"/>
<rect class="C" x="720.8" y="478.5" width="9.9" height="5.6"/>
<rect class="A" x="414.2" y="478.5" width="9.9" height="5.6"/>
<rect class="T" x="423.8" y="478.5" width="9.9" height="5.6"/>
<rect class="A" x="500.4" y="478.5" width="9.9" height="5.6"/>
<rect class="G" x="471.7" y="481.1" width="9.9" height="2.9"/>
<rect class="C" x="701.6" y="481.1" width="9.9" height="2.9"/>
<rect class="C" x="749.5" y="481.1" width="9.9" height="2.9"/>
<rect class="C" x="462.1" y="481.1" width="9.9" height="2.9"/>
<rect class="A" x="711.2" y="481.1" width="9.9" height="2.9"/>
<rect class="A" x="625.0" y="481.1" width="29.0" height="2.9"/>
<rect class="G" x="442.9" y="481.1" width="9.9" height="2.9"/>
<rect class="T" x="759.1" y="481.1" width="19.5" height="2.9"/>
<rect class="T" x="730.3" y="481.1" width="9.9" height="2.9"/>
<rect class="G" x="739.9" y="481.1" width="9.9" height="2.9"/>
<rect class="G" x="596.2" y="481.1" width="19.5" height="2.9"/>
<rect class="T" x="672.9" y="481.1" width="29.0" height="2.9"/>
<rect class="C" x="433.4" y="481.1" width="9.9" height="2.9"/>
<rect class="T" x="615.4" y="481.1" width="9.9" height="2.9"/>
<rect class="C" x="538.7" y="481.1" width="19.5" height="2.9"/>
<rect class="C" x="653.7" y="481.1" width="19.5" height="2.9"/>
<rect class="G" x="567.5" y="473.2" width="19.5" height="13.4"/>
<rect class="A" x="586.6" y="478.5" width="9.9" height="8.2"/>
<rect class="A" x="452.5" y="481.1" width="9.9" height="5.6"/>
<rect class="C" x="481.3" y="483.7" width="29.0" height="2.9"/>
<rect class="C" x="653.7" y="483.7" width="9.9" height="2.9"/>
<rect class="C" x="423.8" y="483.7" width="29.0" height="2.9"/>
<rect class="G" x="644.1" y="483.7" width="9.9" height="2.9"/>
<rect class="T" x="682.4" y="483.7" width="9.9" height="2.9"/>
<rect class="C" x="749.5" y="483.7" width="29.0" height="2.9"/>
<rect class="A" x="672.9" y="483.7" width="9.9" height="2.9"/>
<rect class="T" x="663.3" y="483.7" width="9.9" height="2.9"/>
<rect class="C" x="548.3" y="483.7" width="9.9" height="2.9"/>
<rect class="C" x="692.0" y="483.7" width="19.5" height="2.9"/>
<rect class="G" x="711.2" y="483.7" width="9.9" height="2.9"/>
<rect class="T" x="462.1" y="483.7" width="9.9" height="2.9"/>
<rect class="C" x="596.2" y="483.7" width="48.2" height="2.9"/>
<rect class="C" x="519.6" y="483.7" width="9.9" height="2.9"/>
<rect class="T" x="720.8" y="483.7" width="29.0" height="2.9"/>
<rect class="T" x="510.0" y="483.7" width="9.9" height="2.9"/>
<rect class="G" x="538.7" y="483.7" width="9.9" height="2.9"/>
<rect class="T" x="529.2" y="470.6" width="9.9" height="18.7"/>
<rect class="A" x="471.7" y="483.7" width="9.9" height="5.6"/>
<rect class="C" x="701.6" y="486.4" width="9.9" height="2.9"/>
<rect class="C" x="481.3" y="486.4" width="48.2" height="2.9"/>
<rect class="G" x="672.9" y="486.4" width="19.5" height="2.9"/>
<rect class="T" x="768.7" y="486.4" width="9.9" height="2.9"/>
<rect class="A" x="749.5" y="486.4" width="9.9" height="2.9"/>
<rect class="T" x="692.0" y="486.4" width="9.9" height="2.9"/>
<rect class="G" x="538.7" y="486.4" width="19.5" height="2.9"/>
<rect class="A" x="605.8" y="486.4" width="19.5" height="2.9"/>
<rect class="T" x="625.0" y="486.4" width="48.2" height="2.9"/>
<rect class="C" x="596.2" y="486.4" width="9.9" height="2.9"/>
<rect class="G" x="567.5" y="486.4" width="29.0" height="2.9"/>
<rect class="G" x="462.1" y="486.4" width="9.9" height="2.9"/>
<rect class="C" x="423.8" y="486.4" width="38.6" height="2.9"/>
<rect class="A" x="711.2" y="486.4" width="19.5" height="2.9"/>
<rect class="G" x="759.1" y="486.4" width="9.9" height="2.9"/>
<rect class="T" x="730.3" y="486.4" width="19.5" height="2.9"/>
<rect class="T" x="414.2" y="483.7" width="9.9" height="8.2"/>
<rect class="C" x="730.3" y="489.0" width="9.9" height="2.9"/>
<rect class="A" x="625.0" y="489.0" width="9.9" height="2.9"/>
<rect class="G" x="442.9" y="489.0" width="19.5" height="2.9"/>
<rect class="A" x="663.3" y="489.0" width="9.9" height="2.9"/>
<rect class="A" x="759.1" y="489.0" width="19.5" height="2.9"/>
<rect class="T" x="634.5" y="489.0" width="9.9" height="2.9"/>
<rect class="C" x="481.3" y="489.0" width="29.0" height="2.9"/>
<rect class="A" x="586.6" y="489.0" width="19.5" height="2.9"/>
<rect class="G" x="567.5" y="489.0" width="19.5" height="2.9"/>
<rect class="C" x="672.9" y="489.0" width="9.9" height="2.9"/>
<rect class="G" x="739.9" y="489.0" width="19.5" height="2.9"/>
<rect class="T" x="462.1" y="489.0" width="9.9" height="2.9"/>
<rect class="T" x="692.0" y="489.0" width="38.6" height="2.9"/>
<rect class="C" x="433.4" y="489.0" width="9.9" height="2.9"/>
<rect class="G" x="423.8" y="489.0" width="9.9" height="2.9"/>
<rect class="C" x="519.6" y="489.0" width="9.9" height="2.9"/>
<rect class="T" x="510.0" y="489.0" width="9.9" height="2.9"/>
<rect class="G" x="605.8" y="489.0" width="19.5" height="2.9"/>
<rect class="G" x="644.1" y="489.0" width="19.5" height="2.9"/>
<rect class="G" x="548.3" y="489.0" width="9.9" height="2.9"/>
<rect class="T" x="529.2" y="489.0" width="19.5" height="5.6"/>
<rect class="A" x="682.4" y="489.0" width="9.9" height="5.6"/>
<rect class="T" x="720.8" y="491.6" width="9.9" height="2.9"/>
<rect class="A" x="442.9" y="491.6" width="9.9" height="2.9"/>
<rect class="G" x="596.2" y="491.6" width="29.0" height="2.9"/>
<rect class="C" x="692.0" y="491.6" width="29.0" height="2.9"/>
<rect class="A" x="739.9" y="491.6" width="9.9" height="2.9"/>
<rect class="C" x="548.3" y="491.6" width="9.9" height="2.9"/>
<rect class="C" x="586.6" y="491.6" width="9.9" height="2.9"/>
<rect class="G" x="730.3" y="491.6" width="9.9" height="2.9"/>
<rect class="T" x="452.5" y="491.6" width="19.5" height="2.9"/>
<rect class="G" x="749.5" y="491.6" width="9.9" height="2.9"/>
<rect class="C" x="414.2" y="491.6" width="29.0" height="2.9"/>
<rect class="C" x="625.0" y="491.6" width="57.8" height="2.9"/>
<rect class="C" x="759.1" y="491.6" width="19.5" height="2.9"/>
<rect class="A" x="577.1" y="491.6" width="9.9" height="5.6"/>
<rect class="G" x="567.5" y="491.6" width="9.9" height="5.6"/>
<rect class="G" x="663.3" y="494.2" width="19.5" height="2.9"/>
<rect class="A" x="768.7" y="494.2" width="9.9" height="2.9"/>
<rect class="T" x="749.5" y="494.2" width="19.5" height="2.9"/>
<rect class="G" x="634.5" y="494.2" width="9.9" height="2.9"/>
<rect class="C" x="462.1" y="494.2" width="9.9" height="2.9"/>
<rect class="A" x="433.4" y="494.2" width="19.5" height="2.9"/>
<rect class="G" x="701.6" y="494.2" width="9.9" height="2.9"/>
<rect class="A" x="682.4" y="494.2" width="19.5" height="2.9"/>
<rect class="A" x="605.8" y="494.2" width="19.5" height="2.9"/>
<rect class="T" x="653.7" y="494.2" width="9.9" height="2.9"/>
<rect class="T" x="423.8" y="494.2" width="9.9" height="2.9"/>
<rect class="C" x="625.0" y="494.2" width="9.9" height="2.9"/>
<rect class="C" x="538.7" y="494.2" width="19.5" height="2.9"/>
<rect class="A" x="644.1" y="494.2" width="9.9" height="2.9"/>
<rect class="T" x="452.5" y="494.2" width="9.9" height="2.9"/>
<rect class="A" x="711.2" y="494.2" width="38.6" height="2.9"/>
<rect class="T" x="586.6" y="494.2" width="19.5" height="5.6"/>
<rect class="A" x="423.8" y="496.9" width="19.5" height="2.9"/>
<rect class="G" x="634.5" y="496.9" width="29.0" height="2.9"/>
<rect class="A" x="605.8" y="496.9" width="29.0" height="2.9"/>
<rect class="G" x="567.5" y="496.9" width="19.5" height="2.9"/>
<rect class="T" x="442.9" y="496.9" width="9.9" height="2.9"/>
<rect class="T" x="692.0" y="496.9" width="9.9" height="2.9"/>
<rect class="T" x="759.1" y="496.9" width="19.5" height="2.9"/>
<rect class="T" x="663.3" y="496.9" width="9.9" height="2.9"/>
<rect class="G" x="538.7" y="496.9" width="19.5" height="2.9"/>
<rect class="A" x="701.6" y="496.9" width="57.8" height="2.9"/>
<rect class="A" x="672.9" y="496.9" width="19.5" height="2.9"/>
<rect class="T" x="557.9" y="470.6" width="9.9" height="31.8"/>
<rect class="G" x="414.2" y="494.2" width="9.9" height="8.2"/>
<rect class="A" x="682.4" y="499.5" width="48.2" height="2.9"/>
<rect class="G" x="605.8" y="499.5" width="29.0" height="2.9"/>
<rect class="C" x="548.3" y="499.5" width="9.9" height="2.9"/>
<rect class="C" x="653.7" y="499.5" width="29.0" height="2.9"/>
<rect class="T" x="730.3" y="499.5" width="9.9" height="2.9"/>
<rect class="A" x="739.9" y="499.5" width="29.0" height="2.9"/>
<rect class="A" x="423.8" y="499.5" width="9.9" height="2.9"/>
<rect class="T" x="634.5" y="499.5" width="19.5" height="2.9"/>
<rect class="C" x="768.7" y="499.5" width="9.9" height="2.9"/>
<rect class="G" x="538.7" y="499.5" width="9.9" height="2.9"/>
<rect class="G" x="471.7" y="489.0" width="9.9" height="16.1"/>
<rect class="A" x="452.5" y="496.9" width="9.9" height="8.2"/>
<rect class="T" x="462.1" y="496.9" width="9.9" height="8.2"/>
<rect class="G" x="567.5" y="499.5" width="29.0" height="5.6"/>
<rect class="T" x="433.4" y="499.5" width="19.5" height="5.6"/>
<rect class="A" x="653.7" y="502.1" width="19.5" height="2.9"/>
<rect class="A" x="720.8" y="502.1" width="19.5" height="2.9"/>
<rect class="C" x="692.0" y="502.1" width="29.0" height="2.9"/>
<rect class="T" x="672.9" y="502.1" width="19.5" height="2.9"/>
<rect class="T" x="768.7" y="502.1" width="9.9" height="2.9"/>
<rect class="T" x="615.4" y="502.1" width="38.6" height="2.9"/>
<rect class="G" x="739.9" y="502.1" width="9.9" height="2.9"/>
<rect class="G" x="414.2" y="502.1" width="19.5" height="2.9"/>
<rect class="A" x="557.9" y="502.1" width="9.9" height="2.9"/>
<rect class="A" x="749.5" y="502.1" width="19.5" height="2.9"/>
<rect class="C" x="538.7" y="502.1" width="19.5" height="2.9"/>
<rect class="C" x="596.2" y="499.5" width="9.9" height="8.2"/>
<rect class="A" x="605.8" y="502.1" width="9.9" height="5.6"/>
<rect class="A" x="759.1" y="504.7" width="19.5" height="2.9"/>
<rect class="C" x="625.0" y="504.7" width="48.2" height="2.9"/>
<rect class="G" x="567.5" y="504.7" width="19.5" height="2.9"/>
<rect class="G" x="672.9" y="504.7" width="19.5" height="2.9"/>
<rect class="C" x="462.1" y="504.7" width="9.9" height="2.9"/>
<rect class="G" x="739.9" y="504.7" width="19.5" height="2.9"/>
<rect class="T" x="423.8" y="504.7" width="38.6" height="2.9"/>
<rect class="T" x="730.3" y="504.7" width="9.9" height="2.9"/>
<rect class="C" x="720.8" y="504.7" width="9.9" height="2.9"/>
<rect class="T" x="711.2" y="504.7" width="9.9" height="2.9"/>
<rect class="C" x="414.2" y="504.7" width="9.9" height="2.9"/>
<rect class="A" x="586.6" y="504.7" width="9.9" height="2.9"/>
<rect class="A" x="692.0" y="504.7" width="19.5" height="2.9"/>
<rect class="G" x="615.4" y="504.7" width="9.9" height="2.9"/>
<rect class="T" x="471.7" y="504.7" width="9.9" height="2.9"/>
<rect class="A" x="692.0" y="507.4" width="9.9" height="2.9"/>
<rect class="A" x="739.9" y="507.4" width="9.9" height="2.9"/>
<rect class="G" x="644.1" y="507.4" width="9.9" height="2.9"/>
<rect class="C" x="711.2" y="507.4" width="29.0" height="2.9"/>
<rect class="T" x="653.7" y="507.4" width="19.5" height="2.9"/>
<rect class="G" x="625.0" y="507.4" width="9.9" height="2.9"/>
<rect class="A" x="615.4" y="507.4" width="9.9" height="2.9"/>
<rect class="G" x="701.6" y="507.4" width="9.9" height="2.9"/>
<rect class="T" x="452.5" y="507.4" width="19.5" height="2.9"/>
<rect class="G" x="749.5" y="507.4" width="9.9" height="2.9"/>
<rect class="C" x="634.5" y="507.4" width="9.9" height="2.9"/>
<rect class="G" x="567.5" y="507.4" width="48.2" height="2.9"/>
<rect class="C" x="672.9" y="507.4" width="19.5" height="2.9"/>
<rect class="A" x="414.2" y="507.4" width="29.0" height="2.9"/>
<rect class="T" x="759.1" y="507.4" width="9.9" height="2.9"/>
<rect class="C" x="442.9" y="507.4" width="9.9" height="2.9"/>
<rect class="T" x="529.2" y="494.2" width="9.9" height="18.7"/>
<rect class="C" x="548.3" y="504.7" width="9.9" height="8.2"/>
<rect class="G" x="538.7" y="504.7" width="9.9" height="8.2"/>
<rect class="C" x="768.7" y="507.4" width="9.9" height="5.6"/>
<rect class="T" x="739.9" y="510.0" width="29.0" height="2.9"/>
<rect class="C" x="615.4" y="510.0" width="67.4" height="2.9"/>
<rect class="G" x="682.4" y="510.0" width="57.8" height="2.9"/>
<rect class="A" x="414.2" y="510.0" width="48.2" height="2.9"/>
<rect class="G" x="596.2" y="510.0" width="9.9" height="2.9"/>
<rect class="A" x="605.8" y="510.0" width="9.9" height="2.9"/>
<rect class="T" x="557.9" y="504.7" width="9.9" height="10.8"/>
<rect class="G" x="471.7" y="507.4" width="9.9" height="8.2"/>
<rect class="C" x="586.6" y="510.0" width="9.9" height="5.6"/>
<rect class="T" x="462.1" y="510.0" width="9.9" height="5.6"/>
<rect class="C" x="615.4" y="512.6" width="38.6" height="2.9"/>
<rect class="A" x="682.4" y="512.6" width="29.0" height="2.9"/>
<rect class="A" x="759.1" y="512.6" width="19.5" height="2.9"/>
<rect class="T" x="739.9" y="512.6" width="19.5" height="2.9"/>
<rect class="T" x="423.8" y="512.6" width="19.5" height="2.9"/>
<rect class="A" x="653.7" y="512.6" width="9.9" height="2.9"/>
<rect class="C" x="538.7" y="512.6" width="9.9" height="2.9"/>
<rect class="G" x="720.8" y="512.6" width="19.5" height="2.9"/>
<rect class="T" x="711.2" y="512.6" width="9.9" height="2.9"/>
<rect class="G" x="529.2" y="512.6" width="9.9" height="2.9"/>
<rect class="G" x="596.2" y="512.6" width="19.5" height="2.9"/>
<rect class="A" x="442.9" y="512.6" width="19.5" height="2.9"/>
<rect class="T" x="663.3" y="512.6" width="19.5" height="2.9"/>
<rect class="G" x="548.3" y="512.6" width="9.9" height="2.9"/>
<rect class="G" x="567.5" y="510.0" width="19.5" height="8.2"/>
<rect class="A" x="414.2" y="512.6" width="9.9" height="5.6"/>
<rect class="G" x="625.0" y="515.2" width="19.5" height="2.9"/>
<rect class="C" x="749.5" y="515.2" width="9.9" height="2.9"/>
<rect class="A" x="739.9" y="515.2" width="9.9" height="2.9"/>
<rect class="A" x="692.0" y="515.2" width="29.0" height="2.9"/>
<rect class="G" x="682.4" y="515.2" width="9.9" height="2.9"/>
<rect class="T" x="720.8" y="515.2" width="19.5" height="2.9"/>
<rect class="C" x="586.6" y="515.2" width="29.0" height="2.9"/>
<rect class="A" x="433.4" y="515.2" width="19.5" height="2.9"/>
<rect class="T" x="452.5" y="515.2" width="19.5" height="2.9"/>
<rect class="A" x="471.7" y="515.2" width="9.9" height="2.9"/>
<rect class="G" x="653.7" y="515.2" width="9.9" height="2.9"/>
<rect class="G" x="538.7" y="515.2" width="9.9" height="2.9"/>
<rect class="T" x="615.4" y="515.2" width="9.9" height="2.9"/>
<rect class="T" x="423.8" y="515.2" width="9.9" height="2.9"/>
<rect class="A" x="644.1" y="515.2" width="9.9" height="2.9"/>
<rect class="C" x="548.3" y="515.2" width="19.5" height="2.9"/>
<rect class="A" x="663.3" y="515.2" width="9.9" height="5.6"/>
<rect class="G" x="759.1" y="515.2" width="19.5" height="5.6"/>
<rect class="T" x="672.9" y="515.2" width="9.9" height="5.6"/>
<rect class="A" x="442.9" y="517.9" width="9.9" height="2.9"/>
<rect class="T" x="414.2" y="517.9" width="9.9" height="2.9"/>
<rect class="C" x="653.7" y="517.9" width="9.9" height="2.9"/>
<rect class="A" x="586.6" y="517.9" width="38.6" height="2.9"/>
<rect class="G" x="423.8" y="517.9" width="19.5" height="2.9"/>
<rect class="C" x="538.7" y="517.9" width="9.9" height="2.9"/>
<rect class="C" x="452.5" y="517.9" width="9.9" height="2.9"/>
<rect class="G" x="625.0" y="517.9" width="29.0" height="2.9"/>
<rect class="T" x="749.5" y="517.9" width="9.9" height="2.9"/>
<rect class="G" x="739.9" y="517.9" width="9.9" height="2.9"/>
<rect class="G" x="567.5" y="517.9" width="9.9" height="2.9"/>
<rect class="A" x="682.4" y="517.9" width="57.8" height="2.9"/>
<rect class="T" x="577.1" y="517.9" width="9.9" height="2.9"/>
<rect class="G" x="548.3" y="517.9" width="9.9" height="2.9"/>
<rect class="C" x="481.3" y="491.6" width="48.2" height="31.8"/>
<rect class="G" x="471.7" y="517.9" width="9.9" height="5.6"/>
<rect class="T" x="557.9" y="517.9" width="9.9" height="5.6"/>
<rect class="T" x="462.1" y="517.9" width="9.9" height="5.6"/>
<rect class="A" x="625.0" y="520.5" width="9.9" height="2.9"/>
<rect class="A" x="586.6" y="520.5" width="19.5" height="2.9"/>
<rect class="G" x="605.8" y="520.5" width="9.9" height="2.9"/>
<rect class="G" x="768.7" y="520.5" width="9.9" height="2.9"/>
<rect class="C" x="548.3" y="520.5" width="9.9" height="2.9"/>
<rect class="C" x="634.5" y="520.5" width="29.0" height="2.9"/>
<rect class="G" x="720.8" y="520.5" width="38.6" height="2.9"/>
<rect class="C" x="692.0" y="520.5" width="19.5" height="2.9"/>
<rect class="G" x="663.3" y="520.5" width="29.0" height="2.9"/>
<rect class="T" x="615.4" y="520.5" width="9.9" height="2.9"/>
<rect class="A" x="414.2" y="520.5" width="48.2" height="2.9"/>
<rect class="T" x="759.1" y="520.5" width="9.9" height="2.9"/>
<rect class="G" x="538.7" y="520.5" width="9.9" height="2.9"/>
<rect class="A" x="711.2" y="520.5" width="9.9" height="5.6"/>
<rect class="G" x="720.8" y="523.1" width="9.9" height="2.9"/>
<rect class="C" x="615.4" y="523.1" width="38.6" height="2.9"/>
<rect class="C" x="414.2" y="523.1" width="19.5" height="2.9"/>
<rect class="T" x="462.1" y="523.1" width="19.5" height="2.9"/>
<rect class="A" x="596.2" y="523.1" width="19.5" height="2.9"/>
<rect class="G" x="433.4" y="523.1" width="9.9" height="2.9"/>
<rect class="A" x="749.5" y="523.1" width="9.9" height="2.9"/>
<rect class="A" x="653.7" y="523.1" width="9.9" height="2.9"/>
<rect class="C" x="538.7" y="523.1" width="29.0" height="2.9"/>
<rect class="C" x="586.6" y="523.1" width="9.9" height="2.9"/>
<rect class="C" x="730.3" y="523.1" width="19.5" height="2.9"/>
<rect class="C" x="442.9" y="523.1" width="19.5" height="2.9"/>
<rect class="G" x="663.3" y="523.1" width="48.2" height="2.9"/>
<rect class="C" x="481.3" y="523.1" width="29.0" height="5.6"/>
<rect class="C" x="519.6" y="523.1" width="9.9" height="5.6"/>
<rect class="T" x="510.0" y="523.1" width="9.9" height="5.6"/>
<rect class="A" x="730.3" y="525.7" width="9.9" height="2.9"/>
<rect class="G" x="634.5" y="525.7" width="9.9" height="2.9"/>
<rect class="T" x="739.9" y="525.7" width="19.5" height="2.9"/>
<rect class="A" x="692.0" y="525.7" width="29.0" height="2.9"/>
<rect class="T" x="442.9" y="525.7" width="9.9" height="2.9"/>
<rect class="C" x="644.1" y="525.7" width="19.5" height="2.9"/>
<rect class="C" x="720.8" y="525.7" width="9.9" height="2.9"/>
<rect class="G" x="663.3" y="525.7" width="29.0" height="2.9"/>
<rect class="C" x="615.4" y="525.7" width="19.5" height="2.9"/>
<rect class="C" x="423.8" y="525.7" width="19.5" height="2.9"/>
<rect class="C" x="538.7" y="525.7" width="19.5" height="2.9"/>
<rect class="G" x="759.1" y="523.1" width="19.5" height="8.2"/>
<rect class="T" x="414.2" y="525.7" width="9.9" height="5.6"/>
<rect class="T" x="605.8" y="525.7" width="9.9" height="5.6"/>
<rect class="C" x="462.1" y="525.7" width="9.9" height="5.6"/>
<rect class="C" x="596.2" y="525.7" width="9.9" height="5.6"/>
<rect class="A" x="452.5" y="525.7" width="9.9" height="5.6"/>
<rect class="T" x="586.6" y="525.7" width="9.9" height="5.6"/>
<rect class="A" x="615.4" y="528.4" width="19.5" height="2.9"/>
<rect class="C" x="730.3" y="528.4" width="29.0" height="2.9"/>
<rect class="C" x="634.5" y="528.4" width="19.5" height="2.9"/>
<rect class="G" x="711.2" y="528.4" width="19.5" height="2.9"/>
<rect class="T" x="682.4" y="528.4" width="29.0" height="2.9"/>
<rect class="A" x="672.9" y="528.4" width="9.9" height="2.9"/>
<rect class="T" x="653.7" y="528.4" width="9.9" height="2.9"/>
<rect class="G" x="538.7" y="528.4" width="9.9" height="2.9"/>
<rect class="C" x="442.9" y="528.4" width="9.9" height="2.9"/>
<rect class="C" x="663.3" y="528.4" width="9.9" height="2.9"/>
<rect class="G" x="471.7" y="525.7" width="9.9" height="8.2"/>
<rect class="C" x="481.3" y="528.4" width="48.2" height="5.6"/>
<rect class="G" x="423.8" y="528.4" width="19.5" height="5.6"/>
<rect class="G" x="653.7" y="531.0" width="19.5" height="2.9"/>
<rect class="A" x="672.9" y="531.0" width="29.0" height="2.9"/>
<rect class="T" x="625.0" y="531.0" width="29.0" height="2.9"/>
<rect class="A" x="538.7" y="531.0" width="9.9" height="2.9"/>
<rect class="G" x="739.9" y="531.0" width="9.9" height="2.9"/>
<rect class="C" x="414.2" y="531.0" width="9.9" height="2.9"/>
<rect class="C" x="701.6" y="531.0" width="38.6" height="2.9"/>
<rect class="T" x="462.1" y="531.0" width="9.9" height="2.9"/>
<rect class="A" x="442.9" y="531.0" width="19.5" height="2.9"/>
<rect class="A" x="596.2" y="531.0" width="29.0" height="2.9"/>
<rect class="T" x="749.5" y="531.0" width="29.0" height="2.9"/>
<rect class="C" x="548.3" y="528.4" width="9.9" height="8.2"/>
<rect class="C" x="586.6" y="531.0" width="9.9" height="5.6"/>
<rect class="C" x="701.6" y="533.6" width="9.9" height="2.9"/>
<rect class="G" x="730.3" y="533.6" width="19.5" height="2.9"/>
<rect class="C" x="481.3" y="533.6" width="29.0" height="2.9"/>
<rect class="G" x="414.2" y="533.6" width="48.2" height="2.9"/>
<rect class="C" x="462.1" y="533.6" width="9.9" height="2.9"/>
<rect class="T" x="768.7" y="533.6" width="9.9" height="2.9"/>
<rect class="A" x="672.9" y="533.6" width="9.9" height="2.9"/>
<rect class="C" x="720.8" y="533.6" width="9.9" height="2.9"/>
<rect class="G" x="596.2" y="533.6" width="19.5" height="2.9"/>
<rect class="A" x="471.7" y="533.6" width="9.9" height="2.9"/>
<rect class="G" x="711.2" y="533.6" width="9.9" height="2.9"/>
<rect class="A" x="615.4" y="533.6" width="48.2" height="2.9"/>
<rect class="C" x="749.5" y="533.6" width="19.5" height="2.9"/>
<rect class="G" x="682.4" y="533.6" width="19.5" height="2.9"/>
<rect class="C" x="519.6" y="533.6" width="9.9" height="2.9"/>
<rect class="T" x="510.0" y="533.6" width="9.9" height="2.9"/>
<rect class="G" x="538.7" y="533.6" width="9.9" height="2.9"/>
<rect class="C" x="663.3" y="533.6" width="9.9" height="2.9"/>
<rect class="T" x="557.9" y="525.7" width="9.9" height="13.4"/>
<rect class="A" x="692.0" y="536.2" width="9.9" height="2.9"/>
<rect class="G" x="749.5" y="536.2" width="19.5" height="2.9"/>
<rect class="A" x="615.4" y="536.2" width="38.6" height="2.9"/>
<rect class="G" x="701.6" y="536.2" width="38.6" height="2.9"/>
<rect class="A" x="739.9" y="536.2" width="9.9" height="2.9"/>
<rect class="C" x="423.8" y="536.2" width="9.9" height="2.9"/>
<rect class="G" x="442.9" y="536.2" width="9.9" height="2.9"/>
<rect class="C" x="586.6" y="536.2" width="29.0" height="2.9"/>
<rect class="G" x="538.7" y="536.2" width="19.5" height="2.9"/>
<rect class="C" x="452.5" y="536.2" width="9.9" height="2.9"/>
<rect class="G" x="653.7" y="536.2" width="38.6" height="2.9"/>
<rect class="C" x="768.7" y="536.2" width="9.9" height="2.9"/>
<rect class="A" x="433.4" y="536.2" width="9.9" height="2.9"/>
<rect class="G" x="567.5" y="520.5" width="19.5" height="21.3"/>
<rect class="G" x="414.2" y="536.2" width="9.9" height="5.6"/>
<rect class="C" x="586.6" y="538.9" width="19.5" height="2.9"/>
<rect class="A" x="692.0" y="538.9" width="19.5" height="2.9"/>
<rect class="G" x="711.2" y="538.9" width="19.5" height="2.9"/>
<rect class="C" x="739.9" y="538.9" width="29.0" height="2.9"/>
<rect class="A" x="605.8" y="538.9" width="29.0" height="2.9"/>
<rect class="G" x="768.7" y="538.9" width="9.9" height="2.9"/>
<rect class="C" x="423.8" y="538.9" width="38.6" height="2.9"/>
<rect class="T" x="634.5" y="538.9" width="19.5" height="2.9"/>
<rect class="G" x="663.3" y="538.9" width="29.0" height="2.9"/>
<rect class="A" x="730.3" y="538.9" width="9.9" height="2.9"/>
<rect class="C" x="538.7" y="538.9" width="29.0" height="2.9"/>
<rect class="T" x="462.1" y="536.2" width="9.9" height="8.2"/>
<rect class="A" x="653.7" y="538.9" width="9.9" height="5.6"/>
<rect class="A" x="625.0" y="541.5" width="9.9" height="2.9"/>
<rect class="A" x="701.6" y="541.5" width="9.9" height="2.9"/>
<rect class="T" x="672.9" y="541.5" width="19.5" height="2.9"/>
<rect class="C" x="749.5" y="541.5" width="9.9" height="2.9"/>
<rect class="T" x="644.1" y="541.5" width="9.9" height="2.9"/>
<rect class="T" x="423.8" y="541.5" width="19.5" height="2.9"/>
<rect class="G" x="442.9" y="541.5" width="9.9" height="2.9"/>
<rect class="C" x="548.3" y="541.5" width="9.9" height="2.9"/>
<rect class="G" x="759.1" y="541.5" width="19.5" height="2.9"/>
<rect class="G" x="663.3" y="541.5" width="9.9" height="2.9"/>
<rect class="C" x="586.6" y="541.5" width="9.9" height="2.9"/>
<rect class="C" x="414.2" y="541.5" width="9.9" height="2.9"/>
<rect class="A" x="452.5" y="541.5" width="9.9" height="2.9"/>
<rect class="C" x="634.5" y="541.5" width="9.9" height="2.9"/>
<rect class="A" x="730.3" y="541.5" width="19.5" height="2.9"/>
<rect class="G" x="567.5" y="541.5" width="9.9" height="2.9"/>
<rect class="A" x="596.2" y="541.5" width="9.9" height="2.9"/>
<rect class="C" x="605.8" y="541.5" width="9.9" height="2.9"/>
<rect class="C" x="711.2" y="541.5" width="19.5" height="2.9"/>
<rect class="T" x="615.4" y="541.5" width="9.9" height="2.9"/>
<rect class="T" x="577.1" y="541.5" width="9.9" height="2.9"/>
<rect class="C" x="692.0" y="541.5" width="9.9" height="5.6"/>
<rect class="A" x="538.7" y="541.5" width="9.9" height="5.6"/>
<rect class="G" x="414.2" y="544.1" width="9.9" height="2.9"/>
<rect class="A" x="452.5" y="544.1" width="19.5" height="2.9"/>
<rect class="A" x="730.3" y="544.1" width="29.0" height="2.9"/>
<rect class="G" x="682.4" y="544.1" width="9.9" height="2.9"/>
<rect class="A" x="644.1" y="544.1" width="38.6" height="2.9"/>
<rect class="A" x="423.8" y="544.1" width="9.9" height="2.9"/>
<rect class="C" x="720.8" y="544.1" width="9.9" height="2.9"/>
<rect class="C" x="625.0" y="544.1" width="19.5" height="2.9"/>
<rect class="A" x="701.6" y="544.1" width="19.5" height="2.9"/>
<rect class="G" x="567.5" y="544.1" width="29.0" height="2.9"/>
<rect class="T" x="433.4" y="544.1" width="19.5" height="2.9"/>
<rect class="C" x="759.1" y="544.1" width="19.5" height="2.9"/>
<rect class="G" x="548.3" y="544.1" width="9.9" height="2.9"/>
<rect class="C" x="481.3" y="536.2" width="48.2" height="13.4"/>
<rect class="A" x="596.2" y="544.1" width="29.0" height="5.6"/>
<rect class="T" x="433.4" y="546.7" width="9.9" height="2.9"/>
<rect class="A" x="442.9" y="546.7" width="19.5" height="2.9"/>
<rect class="G" x="567.5" y="546.7" width="19.5" height="2.9"/>
<rect class="C" x="625.0" y="546.7" width="38.6" height="2.9"/>
<rect class="A" x="711.2" y="546.7" width="29.0" height="2.9"/>
<rect class="G" x="682.4" y="546.7" width="29.0" height="2.9"/>
<rect class="C" x="739.9" y="546.7" width="38.6" height="2.9"/>
<rect class="G" x="414.2" y="546.7" width="19.5" height="2.9"/>
<rect class="A" x="672.9" y="546.7" width="9.9" height="2.9"/>
<rect class="T" x="663.3" y="546.7" width="9.9" height="2.9"/>
<rect class="G" x="538.7" y="546.7" width="19.5" height="2.9"/>
<rect class="T" x="586.6" y="546.7" width="9.9" height="2.9"/>
<rect class="T" x="557.9" y="541.5" width="9.9" height="10.8"/>
<rect class="A" x="768.7" y="549.4" width="9.9" height="2.9"/>
<rect class="C" x="510.0" y="549.4" width="19.5" height="2.9"/>
<rect class="G" x="414.2" y="549.4" width="9.9" height="2.9"/>
<rect class="G" x="625.0" y="549.4" width="38.6" height="2.9"/>
<rect class="A" x="596.2" y="549.4" width="19.5" height="2.9"/>
<rect class="C" x="615.4" y="549.4" width="9.9" height="2.9"/>
<rect class="C" x="423.8" y="549.4" width="9.9" height="2.9"/>
<rect class="A" x="739.9" y="549.4" width="19.5" height="2.9"/>
<rect class="C" x="538.7" y="549.4" width="9.9" height="2.9"/>
<rect class="C" x="759.1" y="549.4" width="9.9" height="2.9"/>
<rect class="C" x="481.3" y="549.4" width="19.5" height="2.9"/>
<rect class="G" x="730.3" y="549.4" width="9.9" height="2.9"/>
<rect class="A" x="500.4" y="549.4" width="9.9" height="2.9"/>
<rect class="A" x="720.8" y="549.4" width="9.9" height="2.9"/>
<rect class="G" x="567.5" y="549.4" width="29.0" height="2.9"/>
<rect class="G" x="682.4" y="549.4" width="38.6" height="2.9"/>
<rect class="A" x="433.4" y="549.4" width="9.9" height="2.9"/>
<rect class="T" x="663.3" y="549.4" width="19.5" height="2.9"/>
<rect class="G" x="548.3" y="549.4" width="9.9" height="2.9"/>
<rect class="C" x="462.1" y="546.7" width="9.9" height="8.2"/>
<rect class="G" x="442.9" y="549.4" width="9.9" height="5.6"/>
<rect class="A" x="452.5" y="549.4" width="9.9" height="5.6"/>
<rect class="A" x="682.4" y="552.0" width="29.0" height="2.9"/>
<rect class="G" x="567.5" y="552.0" width="19.5" height="2.9"/>
<rect class="C" x="672.9" y="552.0" width="9.9" height="2.9"/>
<rect class="G" x="605.8" y="552.0" width="29.0" height="2.9"/>
<rect class="T" x="663.3" y="552.0" width="9.9" height="2.9"/>
<rect class="G" x="538.7" y="552.0" width="19.5" height="2.9"/>
<rect class="C" x="557.9" y="552.0" width="9.9" height="2.9"/>
<rect class="C" x="596.2" y="552.0" width="9.9" height="2.9"/>
<rect class="T" x="414.2" y="552.0" width="19.5" height="2.9"/>
<rect class="A" x="644.1" y="552.0" width="19.5" height="2.9"/>
<rect class="C" x="634.5" y="552.0" width="9.9" height="2.9"/>
<rect class="G" x="711.2" y="552.0" width="29.0" height="2.9"/>
<rect class="C" x="739.9" y="552.0" width="38.6" height="2.9"/>
<rect class="T" x="586.6" y="552.0" width="9.9" height="2.9"/>
<rect class="C" x="481.3" y="552.0" width="48.2" height="5.6"/>
<rect class="C" x="433.4" y="552.0" width="9.9" height="5.6"/>
<rect class="G" x="720.8" y="554.6" width="9.9" height="2.9"/>
<rect class="A" x="442.9" y="554.6" width="9.9" height="2.9"/>
<rect class="A" x="730.3" y="554.6" width="9.9" height="2.9"/>
<rect class="C" x="634.5" y="554.6" width="19.5" height="2.9"/>
<rect class="C" x="615.4" y="554.6" width="9.9" height="2.9"/>
<rect class="A" x="653.7" y="554.6" width="9.9" height="2.9"/>
<rect class="G" x="625.0" y="554.6" width="9.9" height="2.9"/>
<rect class="C" x="548.3" y="554.6" width="9.9" height="2.9"/>
<rect class="T" x="711.2" y="554.6" width="9.9" height="2.9"/>
<rect class="G" x="414.2" y="554.6" width="19.5" height="2.9"/>
<rect class="T" x="452.5" y="554.6" width="19.5" height="2.9"/>
<rect class="C" x="692.0" y="554.6" width="19.5" height="2.9"/>
<rect class="G" x="663.3" y="554.6" width="29.0" height="2.9"/>
<rect class="G" x="567.5" y="554.6" width="48.2" height="2.9"/>
<rect class="C" x="739.9" y="554.6" width="19.5" height="2.9"/>
<rect class="C" x="768.7" y="554.6" width="9.9" height="2.9"/>
<rect class="G" x="538.7" y="554.6" width="9.9" height="2.9"/>
<rect class="T" x="759.1" y="554.6" width="9.9" height="5.6"/>
<rect class="T" x="615.4" y="557.2" width="67.4" height="2.9"/>
<rect class="C" x="596.2" y="557.2" width="19.5" height="2.9"/>
<rect class="C" x="481.3" y="557.2" width="29.0" height="2.9"/>
<rect class="C" x="730.3" y="557.2" width="29.0" height="2.9"/>
<rect class="C" x="682.4" y="557.2" width="19.5" height="2.9"/>
<rect class="G" x="768.7" y="557.2" width="9.9" height="2.9"/>
<rect class="T" x="442.9" y="557.2" width="9.9" height="2.9"/>
<rect class="C" x="538.7" y="557.2" width="9.9" height="2.9"/>
<rect class="T" x="701.6" y="557.2" width="9.9" height="2.9"/>
<rect class="C" x="577.1" y="557.2" width="9.9" height="2.9"/>
<rect class="C" x="452.5" y="557.2" width="9.9" height="2.9"/>
<rect class="A" x="414.2" y="557.2" width="29.0" height="2.9"/>
<rect class="C" x="519.6" y="557.2" width="9.9" height="2.9"/>
<rect class="T" x="510.0" y="557.2" width="9.9" height="2.9"/>
<rect class="A" x="711.2" y="557.2" width="19.5" height="2.9"/>
<rect class="G" x="548.3" y="557.2" width="9.9" height="2.9"/>
<rect class="G" x="586.6" y="557.2" width="9.9" height="2.9"/>
<rect class="G" x="567.5" y="557.2" width="9.9" height="5.6"/>
<rect class="T" x="462.1" y="557.2" width="9.9" height="5.6"/>
<rect class="T" x="720.8" y="559.9" width="9.9" height="2.9"/>
<rect class="A" x="768.7" y="559.9" width="9.9" height="2.9"/>
<rect class="T" x="634.5" y="559.9" width="9.9" height="2.9"/>
<rect class="G" x="414.2" y="559.9" width="29.0" height="2.9"/>
<rect class="A" x="730.3" y="559.9" width="9.9" height="2.9"/>
<rect class="A" x="711.2" y="559.9" width="9.9" height="2.9"/>
<rect class="T" x="682.4" y="559.9" width="29.0" height="2.9"/>
<rect class="G" x="625.0" y="559.9" width="9.9" height="2.9"/>
<rect class="C" x="548.3" y="559.9" width="9.9" height="2.9"/>
<rect class="A" x="615.4" y="559.9" width="9.9" height="2.9"/>
<rect class="A" x="644.1" y="559.9" width="38.6" height="2.9"/>
<rect class="A" x="538.7" y="559.9" width="9.9" height="2.9"/>
<rect class="T" x="596.2" y="559.9" width="19.5" height="2.9"/>
<rect class="G" x="739.9" y="559.9" width="9.9" height="2.9"/>
<rect class="C" x="749.5" y="559.9" width="19.5" height="2.9"/>
<rect class="A" x="577.1" y="559.9" width="19.5" height="2.9"/>
<rect class="A" x="442.9" y="559.9" width="19.5" height="5.6"/>
<rect class="G" x="414.2" y="562.5" width="9.9" height="2.9"/>
<rect class="G" x="596.2" y="562.5" width="9.9" height="2.9"/>
<rect class="G" x="749.5" y="562.5" width="19.5" height="2.9"/>
<rect class="A" x="739.9" y="562.5" width="9.9" height="2.9"/>
<rect class="C" x="462.1" y="562.5" width="9.9" height="2.9"/>
<rect class="C" x="615.4" y="562.5" width="9.9" height="2.9"/>
<rect class="G" x="730.3" y="562.5" width="9.9" height="2.9"/>
<rect class="G" x="663.3" y="562.5" width="29.0" height="2.9"/>
<rect class="C" x="423.8" y="562.5" width="19.5" height="2.9"/>
<rect class="C" x="538.7" y="562.5" width="19.5" height="2.9"/>
<rect class="A" x="605.8" y="562.5" width="9.9" height="2.9"/>
<rect class="A" x="625.0" y="562.5" width="38.6" height="2.9"/>
<rect class="T" x="692.0" y="562.5" width="38.6" height="2.9"/>
<rect class="T" x="557.9" y="554.6" width="9.9" height="13.4"/>
<rect class="C" x="586.6" y="562.5" width="9.9" height="5.6"/>
<rect class="C" x="768.7" y="562.5" width="9.9" height="5.6"/>
<rect class="G" x="730.3" y="565.1" width="38.6" height="2.9"/>
<rect class="A" x="701.6" y="565.1" width="9.9" height="2.9"/>
<rect class="C" x="548.3" y="565.1" width="9.9" height="2.9"/>
<rect class="G" x="692.0" y="565.1" width="9.9" height="2.9"/>
<rect class="C" x="433.4" y="565.1" width="38.6" height="2.9"/>
<rect class="C" x="720.8" y="565.1" width="9.9" height="2.9"/>
<rect class="T" x="711.2" y="565.1" width="9.9" height="2.9"/>
<rect class="T" x="663.3" y="565.1" width="29.0" height="2.9"/>
<rect class="G" x="414.2" y="565.1" width="19.5" height="2.9"/>
<rect class="C" x="605.8" y="565.1" width="57.8" height="2.9"/>
<rect class="A" x="596.2" y="565.1" width="9.9" height="2.9"/>
<rect class="C" x="481.3" y="559.9" width="48.2" height="10.8"/>
<rect class="G" x="538.7" y="565.1" width="9.9" height="5.6"/>
<rect class="G" x="452.5" y="567.7" width="9.9" height="2.9"/>
<rect class="G" x="634.5" y="567.7" width="9.9" height="2.9"/>
<rect class="C" x="644.1" y="567.7" width="38.6" height="2.9"/>
<rect class="T" x="682.4" y="567.7" width="29.0" height="2.9"/>
<rect class="G" x="711.2" y="567.7" width="38.6" height="2.9"/>
<rect class="G" x="759.1" y="567.7" width="19.5" height="2.9"/>
<rect class="A" x="586.6" y="567.7" width="29.0" height="2.9"/>
<rect class="T" x="749.5" y="567.7" width="9.9" height="2.9"/>
<rect class="T" x="462.1" y="567.7" width="9.9" height="2.9"/>
<rect class="A" x="414.2" y="567.7" width="29.0" height="2.9"/>
<rect class="G" x="615.4" y="567.7" width="9.9" height="2.9"/>
<rect class="C" x="625.0" y="567.7" width="9.9" height="2.9"/>
<rect class="C" x="442.9" y="567.7" width="9.9" height="2.9"/>
<rect class="C" x="548.3" y="567.7" width="19.5" height="2.9"/>
<rect class="T" x="529.2" y="515.2" width="9.9" height="58.1"/>
<rect class="G" x="567.5" y="562.5" width="19.5" height="10.8"/>
<rect class="C" x="586.6" y="570.4" width="19.5" height="2.9"/>
<rect class="G" x="720.8" y="570.4" width="9.9" height="2.9"/>
<rect class="T" x="692.0" y="570.4" width="19.5" height="2.9"/>
<rect class="C" x="510.0" y="570.4" width="19.5" height="2.9"/>
<rect class="T" x="634.5" y="570.4" width="9.9" height="2.9"/>
<rect class="G" x="749.5" y="570.4" width="19.5" height="2.9"/>
<rect class="A" x="711.2" y="570.4" width="9.9" height="2.9"/>
<rect class="G" x="490.8" y="570.4" width="9.9" height="2.9"/>
<rect class="T" x="442.9" y="570.4" width="29.0" height="2.9"/>
<rect class="A" x="500.4" y="570.4" width="9.9" height="2.9"/>
<rect class="T" x="414.2" y="570.4" width="19.5" height="2.9"/>
<rect class="A" x="730.3" y="570.4" width="19.5" height="2.9"/>
<rect class="C" x="615.4" y="570.4" width="19.5" height="2.9"/>
<rect class="C" x="768.7" y="570.4" width="9.9" height="2.9"/>
<rect class="A" x="605.8" y="570.4" width="9.9" height="2.9"/>
<rect class="A" x="433.4" y="570.4" width="9.9" height="2.9"/>
<rect class="C" x="481.3" y="570.4" width="9.9" height="2.9"/>
<rect class="G" x="548.3" y="570.4" width="9.9" height="2.9"/>
<rect class="C" x="644.1" y="570.4" width="48.2" height="2.9"/>
<rect class="T" x="557.9" y="570.4" width="9.9" height="5.6"/>
<rect class="A" x="538.7" y="570.4" width="9.9" height="5.6"/>
<rect class="G" x="701.6" y="573.0" width="38.6" height="2.9"/>
<rect class="T" x="768.7" y="573.0" width="9.9" height="2.9"/>
<rect class="C" x="548.3" y="573.0" width="9.9" height="2.9"/>
<rect class="T" x="739.9" y="573.0" width="9.9" height="2.9"/>
<rect class="C" x="414.2" y="573.0" width="9.9" height="2.9"/>
<rect class="G" x="567.5" y="573.0" width="9.9" height="2.9"/>
<rect class="C" x="481.3" y="573.0" width="57.8" height="2.9"/>
<rect class="C" x="577.1" y="573.0" width="19.5" height="2.9"/>
<rect class="T" x="423.8" y="573.0" width="9.9" height="2.9"/>
<rect class="A" x="749.5" y="573.0" width="19.5" height="2.9"/>
<rect class="G" x="653.7" y="573.0" width="29.0" height="2.9"/>
<rect class="G" x="433.4" y="573.0" width="29.0" height="5.6"/>
<rect class="A" x="682.4" y="573.0" width="19.5" height="5.6"/>
<rect class="C" x="644.1" y="573.0" width="9.9" height="5.6"/>
<rect class="A" x="596.2" y="573.0" width="48.2" height="5.6"/>
<rect class="G" x="701.6" y="575.6" width="19.5" height="2.9"/>
<rect class="C" x="414.2" y="575.6" width="19.5" height="2.9"/>
<rect class="A" x="739.9" y="575.6" width="9.9" height="2.9"/>
<rect class="G" x="768.7" y="575.6" width="9.9" height="2.9"/>
<rect class="T" x="730.3" y="575.6" width="9.9" height="2.9"/>
<rect class="C" x="749.5" y="575.6" width="19.5" height="2.9"/>
<rect class="G" x="567.5" y="575.6" width="29.0" height="2.9"/>
<rect class="T" x="653.7" y="575.6" width="29.0" height="2.9"/>
<rect class="G" x="538.7" y="575.6" width="9.9" height="2.9"/>
<rect class="C" x="548.3" y="575.6" width="19.5" height="2.9"/>
<rect class="C" x="481.3" y="575.6" width="48.2" height="5.6"/>
<rect class="A" x="720.8" y="575.6" width="9.9" height="5.6"/>
<rect class="A" x="615.4" y="578.2" width="19.5" height="2.9"/>
<rect class="G" x="730.3" y="578.2" width="19.5" height="2.9"/>
<rect class="T" x="557.9" y="578.2" width="9.9" height="2.9"/>
<rect class="A" x="692.0" y="578.2" width="9.9" height="2.9"/>
<rect class="C" x="653.7" y="578.2" width="38.6" height="2.9"/>
<rect class="T" x="749.5" y="578.2" width="19.5" height="2.9"/>
<rect class="T" x="634.5" y="578.2" width="9.9" height="2.9"/>
<rect class="A" x="433.4" y="578.2" width="29.0" height="2.9"/>
<rect class="G" x="644.1" y="578.2" width="9.9" height="2.9"/>
<rect class="C" x="701.6" y="578.2" width="19.5" height="2.9"/>
<rect class="T" x="414.2" y="578.2" width="19.5" height="2.9"/>
<rect class="A" x="596.2" y="578.2" width="9.9" height="2.9"/>
<rect class="C" x="605.8" y="578.2" width="9.9" height="2.9"/>
<rect class="C" x="768.7" y="578.2" width="9.9" height="2.9"/>
<rect class="G" x="586.6" y="578.2" width="9.9" height="2.9"/>
<rect class="C" x="462.1" y="573.0" width="9.9" height="10.8"/>
<rect class="C" x="577.1" y="578.2" width="9.9" height="5.6"/>
<rect class="G" x="567.5" y="578.2" width="9.9" height="5.6"/>
<rect class="C" x="730.3" y="580.9" width="9.9" height="2.9"/>
<rect class="G" x="720.8" y="580.9" width="9.9" height="2.9"/>
<rect class="C" x="510.0" y="580.9" width="19.5" height="2.9"/>
<rect class="T" x="414.2" y="580.9" width="9.9" height="2.9"/>
<rect class="T" x="605.8" y="580.9" width="57.8" height="2.9"/>
<rect class="A" x="711.2" y="580.9" width="9.9" height="2.9"/>
<rect class="T" x="442.9" y="580.9" width="9.9" height="2.9"/>
<rect class="C" x="481.3" y="580.9" width="19.5" height="2.9"/>
<rect class="G" x="663.3" y="580.9" width="9.9" height="2.9"/>
<rect class="G" x="586.6" y="580.9" width="19.5" height="2.9"/>
<rect class="A" x="739.9" y="580.9" width="29.0" height="2.9"/>
<rect class="C" x="557.9" y="580.9" width="9.9" height="2.9"/>
<rect class="C" x="692.0" y="580.9" width="19.5" height="2.9"/>
<rect class="A" x="452.5" y="580.9" width="9.9" height="2.9"/>
<rect class="C" x="423.8" y="580.9" width="19.5" height="2.9"/>
<rect class="A" x="672.9" y="580.9" width="19.5" height="2.9"/>
<rect class="A" x="500.4" y="580.9" width="9.9" height="2.9"/>
<rect class="G" x="538.7" y="578.2" width="19.5" height="8.2"/>
<rect class="G" x="768.7" y="580.9" width="9.9" height="5.6"/>
<rect class="A" x="730.3" y="583.5" width="9.9" height="2.9"/>
<rect class="C" x="481.3" y="583.5" width="29.0" height="2.9"/>
<rect class="A" x="567.5" y="583.5" width="9.9" height="2.9"/>
<rect class="C" x="739.9" y="583.5" width="29.0" height="2.9"/>
<rect class="C" x="682.4" y="583.5" width="19.5" height="2.9"/>
<rect class="T" x="625.0" y="583.5" width="9.9" height="2.9"/>
<rect class="T" x="653.7" y="583.5" width="19.5" height="2.9"/>
<rect class="A" x="672.9" y="583.5" width="9.9" height="2.9"/>
<rect class="A" x="615.4" y="583.5" width="9.9" height="2.9"/>
<rect class="G" x="577.1" y="583.5" width="38.6" height="2.9"/>
<rect class="C" x="720.8" y="583.5" width="9.9" height="2.9"/>
<rect class="T" x="442.9" y="583.5" width="29.0" height="2.9"/>
<rect class="T" x="414.2" y="583.5" width="19.5" height="2.9"/>
<rect class="C" x="634.5" y="583.5" width="9.9" height="2.9"/>
<rect class="C" x="433.4" y="583.5" width="9.9" height="2.9"/>
<rect class="C" x="519.6" y="583.5" width="9.9" height="2.9"/>
<rect class="T" x="510.0" y="583.5" width="9.9" height="2.9"/>
<rect class="A" x="644.1" y="583.5" width="9.9" height="2.9"/>
<rect class="T" x="701.6" y="583.5" width="19.5" height="2.9"/>
<rect class="G" x="471.7" y="536.2" width="9.9" height="52.8"/>
<rect class="T" x="529.2" y="575.6" width="9.9" height="13.4"/>
<rect class="T" x="557.9" y="583.5" width="9.9" height="5.6"/>
<rect class="C" x="739.9" y="586.1" width="9.9" height="2.9"/>
<rect class="T" x="414.2" y="586.1" width="9.9" height="2.9"/>
<rect class="C" x="481.3" y="586.1" width="48.2" height="2.9"/>
<rect class="C" x="462.1" y="586.1" width="9.9" height="2.9"/>
<rect class="G" x="433.4" y="586.1" width="9.9" height="2.9"/>
<rect class="C" x="423.8" y="586.1" width="9.9" height="2.9"/>
<rect class="T" x="759.1" y="586.1" width="19.5" height="2.9"/>
<rect class="T" x="586.6" y="586.1" width="19.5" height="2.9"/>
<rect class="G" x="749.5" y="586.1" width="9.9" height="2.9"/>
<rect class="A" x="605.8" y="586.1" width="76.9" height="2.9"/>
<rect class="G" x="682.4" y="586.1" width="19.5" height="2.9"/>
<rect class="A" x="701.6" y="586.1" width="38.6" height="2.9"/>
<rect class="C" x="538.7" y="586.1" width="19.5" height="2.9"/>
<rect class="T" x="452.5" y="586.1" width="9.9" height="2.9"/>
<rect class="A" x="442.9" y="586.1" width="9.9" height="5.6"/>
<rect class="A" x="557.9" y="588.7" width="9.9" height="2.9"/>
<rect class="C" x="711.2" y="588.7" width="19.5" height="2.9"/>
<rect class="G" x="615.4" y="588.7" width="9.9" height="2.9"/>
<rect class="C" x="596.2" y="588.7" width="19.5" height="2.9"/>
<rect class="G" x="414.2" y="588.7" width="29.0" height="2.9"/>
<rect class="C" x="625.0" y="588.7" width="9.9" height="2.9"/>
<rect class="A" x="471.7" y="588.7" width="9.9" height="2.9"/>
<rect class="C" x="452.5" y="588.7" width="19.5" height="2.9"/>
<rect class="G" x="538.7" y="588.7" width="9.9" height="2.9"/>
<rect class="T" x="730.3" y="588.7" width="29.0" height="2.9"/>
<rect class="C" x="548.3" y="588.7" width="9.9" height="2.9"/>
<rect class="C" x="759.1" y="588.7" width="19.5" height="2.9"/>
<rect class="G" x="663.3" y="588.7" width="48.2" height="2.9"/>
<rect class="A" x="634.5" y="588.7" width="29.0" height="2.9"/>
<rect class="C" x="481.3" y="588.7" width="57.8" height="2.9"/>
<rect class="G" x="567.5" y="586.1" width="19.5" height="8.2"/>
<rect class="T" x="586.6" y="588.7" width="9.9" height="5.6"/>
<rect class="A" x="711.2" y="591.4" width="19.5" height="2.9"/>
<rect class="C" x="462.1" y="591.4" width="9.9" height="2.9"/>
<rect class="G" x="471.7" y="591.4" width="9.9" height="2.9"/>
<rect class="G" x="730.3" y="591.4" width="19.5" height="2.9"/>
<rect class="T" x="682.4" y="591.4" width="9.9" height="2.9"/>
<rect class="T" x="557.9" y="591.4" width="9.9" height="2.9"/>
<rect class="T" x="529.2" y="591.4" width="9.9" height="2.9"/>
<rect class="G" x="692.0" y="591.4" width="19.5" height="2.9"/>
<rect class="C" x="749.5" y="591.4" width="29.0" height="2.9"/>
<rect class="T" x="414.2" y="591.4" width="19.5" height="2.9"/>
<rect class="A" x="634.5" y="591.4" width="48.2" height="2.9"/>
<rect class="A" x="433.4" y="591.4" width="29.0" height="2.9"/>
<rect class="C" x="538.7" y="591.4" width="19.5" height="2.9"/>
<rect class="G" x="596.2" y="591.4" width="38.6" height="2.9"/>
<rect class="C" x="481.3" y="591.4" width="48.2" height="2.9"/>
<rect x="414.2" y="347.2" width="364.04" height="246.8" fill="url(#rows)"/>
<rect x="423.38" y="347.2" width="0.8" height="246.8" fill="rgba(0,0,0,0.05)"/>
<rect x="432.96" y="347.2" width="0.8" height="246.8" fill="rgba(0,0,0,0.05)"/>
<rect x="442.54" y="347.2" width="0.8" height="246.8" fill="rgba(0,0,0,0.05)"/>
<rect x="452.12" y="347.2" width="0.8" height="246.8" fill="rgba(0,0,0,0.05)"/>
<rect x="461.70" y="347.2" width="0.8" height="246.8" fill="rgba(0,0,0,0.05)"/>
<rect x="471.28" y="347.2" width="0.8" height="246.8" fill="rgba(0,0,0,0.05)"/>
<rect x="480.86" y="347.2" width="0.8" height="246.8" fill="rgba(0,0,0,0.05)"/>
<rect x="490.44" y="347.2" width="0.8" height="246.8" fill="rgba(0,0,0,0.05)"/>
<rect x="500.02" y="347.2" width="0.8" height="246.8" fill="rgba(0,0,0,0.05)"/>
<rect x="509.60" y="347.2" width="0.8" height="246.8" fill="rgba(0,0,0,0.05)"/>
<rect x="519.18" y="347.2" width="0.8" height="246.8" fill="rgba(0,0,0,0.05)"/>
<rect x="528.76" y="347.2" width="0.8" height="246.8" fill="rgba(0,0,0,0.05)"/>
<rect x="538.34" y="347.2" width="0.8" height="246.8" fill="rgba(0,0,0,0.05)"/>
<rect x="547.92" y="347.2" width="0.8" height="246.8" fill="rgba(0,0,0,0.05)"/>
<rect x="557.50" y="347.2" width="0.8" height="246.8" fill="rgba(0,0,0,0.05)"/>
<rect x="567.08" y="347.2" width="0.8" height="246.8" fill="rgba(0,0,0,0.05)"/>
<rect x="576.66" y="347.2" width="0.8" height="246.8" fill="rgba(0,0,0,0.05)"/>
<rect x="586.24" y="347.2" width="0.8" height="246.8" fill="rgba(0,0,0,0.05)"/>
<rect x="595.82" y="347.2" width="0.8" height="246.8" fill="rgba(0,0,0,0.05)"/>
<rect x="605.40" y="347.2" width="0.8" height="246.8" fill="rgba(0,0,0,0.05)"/>
<rect x="614.98" y="347.2" width="0.8" height="246.8" fill="rgba(0,0,0,0.05)"/>
<rect x="624.56" y="347.2" width="0.8" height="246.8" fill="rgba(0,0,0,0.05)"/>
<rect x="634.14" y="347.2" width="0.8" height="246.8" fill="rgba(0,0,0,0.05)"/>
<rect x="643.72" y="347.2" width="0.8" height="246.8" fill="rgba(0,0,0,0.05)"/>
<rect x="653.30" y="347.2" width="0.8" height="246.8" fill="rgba(0,0,0,0.05)"/>
<rect x="662.88" y="347.2" width="0.8" height="246.8" fill="rgba(0,0,0,0.05)"/>
<rect x="672.46" y="347.2" width="0.8" height="246.8" fill="rgba(0,0,0,0.05)"/>
<rect x="682.04" y="347.2" width="0.8" height="246.8" fill="rgba(0,0,0,0.05)"/>
<rect x="691.62" y="347.2" width="0.8" height="246.8" fill="rgba(0,0,0,0.05)"/>
<rect x="701.20" y="347.2" width="0.8" height="246.8" fill="rgba(0,0,0,0.05)"/>
<rect x="710.78" y="347.2" width="0.8" height="246.8" fill="rgba(0,0,0,0.05)"/>
<rect x="720.36" y="347.2" width="0.8" height="246.8" fill="rgba(0,0,0,0.05)"/>
<rect x="729.94" y="347.2" width="0.8" height="246.8" fill="rgba(0,0,0,0.05)"/>
<rect x="739.52" y="347.2" width="0.8" height="246.8" fill="rgba(0,0,0,0.05)"/>
<rect x="749.10" y="347.2" width="0.8" height="246.8" fill="rgba(0,0,0,0.05)"/>
<rect x="758.68" y="347.2" width="0.8" height="246.8" fill="rgba(0,0,0,0.05)"/>
<rect x="768.26" y="347.2" width="0.8" height="246.8" fill="rgba(0,0,0,0.05)"/>
<use href="#gA" transform="matrix(0.00654 0 0 -0.00071 462.067 342.800)"/>
<use href="#gC" transform="matrix(0.00671 0 0 -0.00414 461.837 341.717)"/>
<use href="#gT" transform="matrix(0.00745 0 0 -0.00639 462.229 335.800)"/>
<use href="#gA" transform="matrix(0.00654 0 0 -0.00142 471.647 342.800)"/>
<use href="#gT" transform="matrix(0.00745 0 0 -0.00213 471.809 340.800)"/>
<use href="#gG" transform="matrix(0.00650 0 0 -0.01103 471.434 337.579)"/>
<use href="#gA" transform="matrix(0.00654 0 0 -0.00142 481.227 342.800)"/>
<use href="#gC" transform="matrix(0.00671 0 0 -0.01931 480.997 340.414)"/>
<use href="#gC" transform="matrix(0.00671 0 0 -0.03034 490.577 342.193)"/>
<use href="#gA" transform="matrix(0.00654 0 0 -0.00426 500.387 342.800)"/>
<use href="#gC" transform="matrix(0.00671 0 0 -0.01034 500.157 336.593)"/>
<use href="#gC" transform="matrix(0.00671 0 0 -0.00828 509.737 342.634)"/>
<use href="#gT" transform="matrix(0.00745 0 0 -0.00781 510.129 330.800)"/>
<use href="#gC" transform="matrix(0.00671 0 0 -0.03034 519.317 342.193)"/>
<use href="#gA" transform="matrix(0.00654 0 0 -0.00071 529.127 342.800)"/>
<use href="#gT" transform="matrix(0.00745 0 0 -0.02271 529.289 341.800)"/>
<use href="#gG" transform="matrix(0.00650 0 0 -0.00069 538.494 342.786)"/>
<use href="#gA" transform="matrix(0.00654 0 0 -0.00142 538.707 341.800)"/>
<use href="#gT" transform="matrix(0.00745 0 0 -0.00142 538.869 339.800)"/>
<use href="#gA" transform="matrix(0.00654 0 0 -0.00071 548.287 342.800)"/>
<use href="#gG" transform="matrix(0.00650 0 0 -0.00414 548.074 341.717)"/>
<use href="#gC" transform="matrix(0.00671 0 0 -0.00483 548.057 335.703)"/>
<use href="#gG" transform="matrix(0.00650 0 0 -0.00069 557.654 342.786)"/>
<use href="#gA" transform="matrix(0.00654 0 0 -0.00213 557.867 341.800)"/>
<use href="#gT" transform="matrix(0.00745 0 0 -0.01419 558.029 338.800)"/>
<use href="#gG" transform="matrix(0.00650 0 0 -0.03034 567.234 342.193)"/>
<use href="#gA" transform="matrix(0.00654 0 0 -0.00071 577.027 342.800)"/>
<use href="#gT" transform="matrix(0.00745 0 0 -0.00213 577.189 341.800)"/>
<use href="#gG" transform="matrix(0.00650 0 0 -0.01379 576.814 338.524)"/>
<use href="#gT" transform="matrix(0.00745 0 0 -0.00142 586.769 342.800)"/>
<use href="#gC" transform="matrix(0.00671 0 0 -0.00138 586.377 340.772)"/>
<use href="#gG" transform="matrix(0.00650 0 0 -0.00138 605.554 342.772)"/>
<use href="#gA" transform="matrix(0.00654 0 0 -0.00213 605.767 340.800)"/>
<use href="#gT" transform="matrix(0.00745 0 0 -0.01703 605.929 337.800)"/>
<use href="#gA" transform="matrix(0.00654 0 0 -0.00071 615.347 342.800)"/>
<use href="#gT" transform="matrix(0.00745 0 0 -0.00213 615.509 341.800)"/>
<use href="#gC" transform="matrix(0.00671 0 0 -0.01448 615.117 338.510)"/>
<use href="#gA" transform="matrix(0.00654 0 0 -0.00142 624.927 342.800)"/>
<use href="#gC" transform="matrix(0.00671 0 0 -0.00414 624.697 340.717)"/>
<use href="#gT" transform="matrix(0.00745 0 0 -0.00994 625.089 334.800)"/>
<use href="#gC" transform="matrix(0.00671 0 0 -0.00069 634.277 342.786)"/>
<use href="#gA" transform="matrix(0.00654 0 0 -0.00142 634.507 341.800)"/>
<use href="#gG" transform="matrix(0.00650 0 0 -0.00138 634.294 339.772)"/>
<use href="#gC" transform="matrix(0.00671 0 0 -0.00276 643.857 342.745)"/>
<use href="#gT" transform="matrix(0.00745 0 0 -0.00568 644.249 338.800)"/>
<use href="#gA" transform="matrix(0.00654 0 0 -0.00426 653.667 342.800)"/>
<use href="#gG" transform="matrix(0.00650 0 0 -0.00759 653.454 336.648)"/>
<use href="#gA" transform="matrix(0.00654 0 0 -0.00355 663.247 342.800)"/>
<use href="#gG" transform="matrix(0.00650 0 0 -0.02000 663.034 337.400)"/>
<use href="#gC" transform="matrix(0.00671 0 0 -0.00138 672.597 342.772)"/>
<use href="#gA" transform="matrix(0.00654 0 0 -0.00213 672.827 340.800)"/>
<use href="#gG" transform="matrix(0.00650 0 0 -0.02345 672.614 337.331)"/>
<use href="#gC" transform="matrix(0.00671 0 0 -0.00345 682.177 342.731)"/>
<use href="#gT" transform="matrix(0.00745 0 0 -0.00497 682.569 337.800)"/>
<use href="#gA" transform="matrix(0.00654 0 0 -0.03123 691.987 342.800)"/>
<use href="#gT" transform="matrix(0.00745 0 0 -0.00213 701.729 342.800)"/>
<use href="#gC" transform="matrix(0.00671 0 0 -0.02000 701.337 339.400)"/>
<use href="#gT" transform="matrix(0.00745 0 0 -0.03478 711.309 342.800)"/>
<use href="#gA" transform="matrix(0.00654 0 0 -0.00426 720.727 342.800)"/>
<use href="#gG" transform="matrix(0.00650 0 0 -0.02069 720.514 336.386)"/>
<use href="#gC" transform="matrix(0.00671 0 0 -0.03310 730.077 342.138)"/>
<use href="#gA" transform="matrix(0.00654 0 0 -0.03265 739.887 342.800)"/>
<path d="M81.90 346.8 H369.30 V378.60 H206.44 V594.3 H81.90 Z" fill="none" stroke="#111" stroke-width="2.6"/>
<path d="M462.10 346.8 H749.50 V360.20 H586.64 V594.3 H462.10 Z" fill="none" stroke="#111" stroke-width="2.6"/>
<text x="216.50" y="618.00" font-size="19.3" text-anchor="middle" font-weight="normal" font-style="normal" fill="#111" stroke="#111" stroke-width="0.3" >stable CTCF binding sites</text>
<text x="596.50" y="617.50" font-size="19.3" text-anchor="middle" font-weight="normal" font-style="normal" fill="#111" stroke="#111" stroke-width="0.3" >differential CTCF binding sites</text>
<line x1="100.70" y1="691.50" x2="100.70" y2="1009.80" stroke="#111" stroke-width="1.8" />
<line x1="99.80" y1="1009.00" x2="303.50" y2="1009.00" stroke="#111" stroke-width="1.8" />
<line x1="91.50" y1="962.60" x2="100.70" y2="962.60" stroke="#111" stroke-width="1.6" />
<text x="86.00" y="967.80" font-size="17.5" text-anchor="end" font-weight="normal" font-style="normal" fill="#111" stroke="#111" stroke-width="0.3" >0</text>
<line x1="91.50" y1="893.10" x2="100.70" y2="893.10" stroke="#111" stroke-width="1.6" />
<text x="86.00" y="898.30" font-size="17.5" text-anchor="end" font-weight="normal" font-style="normal" fill="#111" stroke="#111" stroke-width="0.3" >10</text>
<line x1="91.50" y1="823.60" x2="100.70" y2="823.60" stroke="#111" stroke-width="1.6" />
<text x="86.00" y="828.80" font-size="17.5" text-anchor="end" font-weight="normal" font-style="normal" fill="#111" stroke="#111" stroke-width="0.3" >20</text>
<line x1="91.50" y1="754.10" x2="100.70" y2="754.10" stroke="#111" stroke-width="1.6" />
<text x="86.00" y="759.30" font-size="17.5" text-anchor="end" font-weight="normal" font-style="normal" fill="#111" stroke="#111" stroke-width="0.3" >30</text>
<text x="0.00" y="0.00" font-size="19.1" text-anchor="middle" font-weight="normal" font-style="normal" fill="#111" stroke="#111" stroke-width="0.3" transform="translate(52.3 852.8) rotate(-90)">motif affinity</text>
<path d="M154.8 690 V682 H248.7 V690" fill="none" stroke="#222" stroke-width="1.4"/>
<text x="201.50" y="685.00" font-size="21" text-anchor="middle" font-weight="normal" font-style="normal" fill="#111" stroke="#111" stroke-width="0.3" >***</text>
<line x1="154.90" y1="759.60" x2="154.90" y2="858.70" stroke="#111" stroke-width="2.2" stroke-dasharray="6.5,7"/>
<line x1="154.90" y1="925.50" x2="154.90" y2="998.50" stroke="#111" stroke-width="2.2" stroke-dasharray="6.5,7"/>
<line x1="135.40" y1="758.60" x2="174.40" y2="758.60" stroke="#111" stroke-width="2.4" />
<line x1="135.40" y1="998.50" x2="174.40" y2="998.50" stroke="#111" stroke-width="2.4" />
<rect x="124.20" y="858.70" width="61.40" height="66.80" fill="#8a8a8a" stroke="#111" stroke-width="2" />
<line x1="124.20" y1="890.90" x2="185.60" y2="890.90" stroke="#111" stroke-width="3.6" />
<circle cx="154.90" cy="710.50" r="1.9" fill="none" stroke="#111" stroke-width="1.1"/>
<circle cx="154.90" cy="713.40" r="1.9" fill="none" stroke="#111" stroke-width="1.1"/>
<circle cx="154.90" cy="716.20" r="1.9" fill="none" stroke="#111" stroke-width="1.1"/>
<circle cx="154.90" cy="724.50" r="1.9" fill="none" stroke="#111" stroke-width="1.1"/>
<circle cx="154.90" cy="727.30" r="1.9" fill="none" stroke="#111" stroke-width="1.1"/>
<circle cx="154.90" cy="730.00" r="1.9" fill="none" stroke="#111" stroke-width="1.1"/>
<rect x="152.40" y="735.00" width="5" height="23.00" rx="2.5" fill="#111"/>
<line x1="248.70" y1="801.60" x2="248.70" y2="882.70" stroke="#111" stroke-width="2.2" stroke-dasharray="6.5,7"/>
<line x1="248.70" y1="937.80" x2="248.70" y2="994.40" stroke="#111" stroke-width="2.2" stroke-dasharray="6.5,7"/>
<line x1="229.20" y1="800.60" x2="268.20" y2="800.60" stroke="#111" stroke-width="2.4" />
<line x1="229.20" y1="994.40" x2="268.20" y2="994.40" stroke="#111" stroke-width="2.4" />
<rect x="218.00" y="882.70" width="61.40" height="55.10" fill="#c0242a" stroke="#111" stroke-width="2" />
<line x1="218.00" y1="913.70" x2="279.40" y2="913.70" stroke="#111" stroke-width="3.6" />
<circle cx="248.70" cy="761.00" r="1.9" fill="none" stroke="#111" stroke-width="1.1"/>
<circle cx="248.70" cy="763.60" r="1.9" fill="none" stroke="#111" stroke-width="1.1"/>
<circle cx="248.70" cy="766.50" r="1.9" fill="none" stroke="#111" stroke-width="1.1"/>
<circle cx="248.70" cy="771.70" r="1.9" fill="none" stroke="#111" stroke-width="1.1"/>
<circle cx="248.70" cy="775.00" r="1.9" fill="none" stroke="#111" stroke-width="1.1"/>
<circle cx="248.70" cy="780.30" r="1.9" fill="none" stroke="#111" stroke-width="1.1"/>
<circle cx="248.70" cy="790.80" r="1.9" fill="none" stroke="#111" stroke-width="1.1"/>
<rect x="246.20" y="794.00" width="5" height="6.00" rx="2.5" fill="#111"/>
<text x="154.90" y="1033.00" font-size="19" text-anchor="middle" font-weight="normal" font-style="normal" fill="#111" stroke="#111" stroke-width="0.3" >stable</text>
<text x="248.50" y="1033.00" font-size="19" text-anchor="middle" font-weight="normal" font-style="normal" fill="#111" stroke="#111" stroke-width="0.3" >differential</text>
<text x="0.00" y="0.00" font-size="19.3" text-anchor="middle" font-weight="normal" font-style="normal" fill="#111" stroke="#111" stroke-width="0.3" transform="translate(364 856.7) rotate(-90)">lineage divergence (million years)</text>
<line x1="437.60" y1="721.00" x2="437.60" y2="781.50" stroke="#333" stroke-width="1.5" />
<line x1="428.70" y1="752.10" x2="437.60" y2="752.10" stroke="#333" stroke-width="1.5" />
<line x1="428.70" y1="752.10" x2="428.70" y2="838.40" stroke="#333" stroke-width="1.5" />
<line x1="428.70" y1="838.40" x2="437.00" y2="838.40" stroke="#333" stroke-width="1.5" />
<line x1="419.40" y1="794.70" x2="428.70" y2="794.70" stroke="#333" stroke-width="1.5" />
<line x1="419.40" y1="794.70" x2="419.40" y2="893.30" stroke="#333" stroke-width="1.5" />
<line x1="419.40" y1="893.30" x2="437.00" y2="893.30" stroke="#333" stroke-width="1.5" />
<line x1="409.90" y1="838.40" x2="419.40" y2="838.40" stroke="#333" stroke-width="1.5" />
<line x1="409.90" y1="838.40" x2="409.90" y2="951.30" stroke="#333" stroke-width="1.5" />
<line x1="409.90" y1="951.30" x2="437.00" y2="951.30" stroke="#333" stroke-width="1.5" />
<line x1="400.60" y1="892.50" x2="409.90" y2="892.50" stroke="#333" stroke-width="1.5" />
<line x1="400.60" y1="892.50" x2="400.60" y2="1008.00" stroke="#333" stroke-width="1.5" />
<line x1="400.60" y1="1008.00" x2="437.00" y2="1008.00" stroke="#333" stroke-width="1.5" />
<line x1="390.80" y1="951.30" x2="400.60" y2="951.30" stroke="#333" stroke-width="1.5" />
<text x="0" y="0" transform="translate(424.80 757.80) scale(1.12 1)" font-size="14.8" text-anchor="end" font-weight="normal" font-style="normal" fill="#222" stroke="#222" stroke-width="0.3" >0</text>
<text x="0" y="0" transform="translate(413.80 801.50) scale(1.12 1)" font-size="14.8" text-anchor="end" font-weight="normal" font-style="normal" fill="#222" stroke="#222" stroke-width="0.3" >1</text>
<text x="0" y="0" transform="translate(403.80 844.70) scale(1.12 1)" font-size="14.8" text-anchor="end" font-weight="normal" font-style="normal" fill="#222" stroke="#222" stroke-width="0.3" >1.5</text>
<text x="0" y="0" transform="translate(396.50 900.50) scale(1.12 1)" font-size="14.8" text-anchor="end" font-weight="normal" font-style="normal" fill="#222" stroke="#222" stroke-width="0.3" >3</text>
<text x="0" y="0" transform="translate(387.80 956.50) scale(1.12 1)" font-size="14.8" text-anchor="end" font-weight="normal" font-style="normal" fill="#222" stroke="#222" stroke-width="0.3" >6</text>
<text x="448.00" y="721.30" font-size="17" text-anchor="start" font-weight="normal" font-style="italic" fill="#111" stroke="#111" stroke-width="0.3" >M. musculus</text>
<text x="448.00" y="741.50" font-size="17" text-anchor="start" font-weight="bold" font-style="italic" fill="#111" stroke="#111" stroke-width="0.3" >Ctcf</text>
<text x="486.30" y="736.00" font-size="10" text-anchor="start" font-weight="bold" font-style="normal" fill="#111" stroke="#111" stroke-width="0.3" >+/+</text>
<text x="448.00" y="776.50" font-size="17" text-anchor="start" font-weight="normal" font-style="italic" fill="#111" stroke="#111" stroke-width="0.3" >M. musculus</text>
<text x="448.00" y="796.50" font-size="17" text-anchor="start" font-weight="bold" font-style="italic" fill="#111" stroke="#111" stroke-width="0.3" >Ctcf</text>
<text x="486.30" y="791.00" font-size="10" text-anchor="start" font-weight="bold" font-style="normal" fill="#111" stroke="#111" stroke-width="0.3" >+/-</text>
<text x="448.00" y="832.80" font-size="17" text-anchor="start" font-weight="normal" font-style="italic" fill="#111" stroke="#111" stroke-width="0.3" >M. musculus</text>
<text x="448.00" y="853.30" font-size="17" text-anchor="start" font-weight="normal" font-style="italic" fill="#111" stroke="#111" stroke-width="0.3" >castaneus</text>
<text x="448.00" y="900.00" font-size="17" text-anchor="start" font-weight="normal" font-style="italic" fill="#111" stroke="#111" stroke-width="0.3" >M. spretus</text>
<text x="448.00" y="957.00" font-size="17" text-anchor="start" font-weight="normal" font-style="italic" fill="#111" stroke="#111" stroke-width="0.3" >M. caroli</text>
<text x="448.00" y="1013.00" font-size="17" text-anchor="start" font-weight="normal" font-style="italic" fill="#111" stroke="#111" stroke-width="0.3" >M. pahari</text>
<path d="M552.30 733.60 L573.69 733.60 L575.22 731.62 L577.51 729.63 L579.81 729.63 L582.10 731.62 L583.63 733.60 L585.92 733.60 L587.45 729.33 L588.98 722.45 L591.27 722.45 L592.80 720.92 L594.63 720.92 L595.86 724.74 L597.39 722.45 L599.22 714.04 L601.21 713.28 L602.74 704.87 L603.81 699.52 L605.79 694.17 L607.78 693.41 L609.61 696.46 L611.14 698.45 L611.91 707.93 L613.44 707.93 L615.42 708.23 L616.03 717.10 L618.02 718.32 L619.55 721.69 L620.31 730.86 L623.37 730.86 L624.14 732.39 L627.19 732.39 L629.49 730.86 L630.56 728.26 L632.54 728.26 L633.31 730.86 L635.60 731.16 L637.13 732.69 L637.89 733.60 L659.30 733.60 Z" fill="#666666" stroke="none"/>
<line x1="552.30" y1="733.60" x2="659.30" y2="733.60" stroke="#666666" stroke-width="1.6" />
<path d="M552.30 788.60 L574.46 788.60 L575.99 785.86 L578.28 784.33 L580.57 784.33 L582.10 783.11 L584.39 783.56 L586.69 784.33 L587.91 781.27 L589.74 780.20 L594.33 780.20 L595.09 773.63 L596.62 769.81 L598.61 759.11 L601.21 755.29 L602.74 752.99 L603.81 747.64 L604.72 742.29 L607.32 742.29 L608.39 750.70 L609.61 756.81 L610.84 770.57 L611.45 773.93 L613.89 774.85 L615.73 776.69 L617.26 779.74 L618.48 783.26 L620.31 784.02 L621.08 779.44 L623.37 778.98 L624.90 780.51 L627.96 780.51 L628.72 783.56 L629.49 777.91 L632.54 777.91 L633.31 780.51 L634.84 780.51 L635.60 785.86 L636.82 788.60 L659.30 788.60 Z" fill="#666666" stroke="none"/>
<line x1="552.30" y1="788.60" x2="659.30" y2="788.60" stroke="#666666" stroke-width="1.6" />
<path d="M552.30 843.50 L580.57 843.50 L585.16 842.74 L587.45 839.68 L591.27 837.39 L593.56 834.33 L595.86 825.16 L598.15 814.46 L600.14 802.23 L601.97 796.11 L604.26 796.88 L609.61 796.88 L610.84 805.29 L612.67 811.40 L614.20 820.57 L616.49 829.74 L618.79 836.62 L621.84 838.61 L626.43 839.68 L629.49 842.74 L632.54 843.04 L638.66 843.04 L641.72 843.50 L659.30 843.50 Z" fill="#666666" stroke="none"/>
<line x1="552.30" y1="843.50" x2="659.30" y2="843.50" stroke="#666666" stroke-width="1.6" />
<path d="M552.30 898.50 L577.51 898.50 L580.57 897.28 L585.92 896.97 L588.21 894.22 L592.80 890.09 L595.09 884.74 L597.39 875.57 L599.68 867.93 L601.97 860.29 L603.50 857.99 L605.79 857.23 L606.86 851.88 L608.85 850.35 L611.14 851.88 L612.37 857.23 L613.44 866.40 L614.96 869.46 L617.26 873.28 L619.55 880.16 L621.84 886.27 L624.90 890.86 L627.96 893.15 L631.01 894.68 L634.07 896.67 L638.66 897.28 L643.24 898.50 L659.30 898.50 Z" fill="#666666" stroke="none"/>
<line x1="552.30" y1="898.50" x2="659.30" y2="898.50" stroke="#666666" stroke-width="1.6" />
<path d="M552.30 953.80 L578.28 953.80 L578.28 952.74 L586.69 952.74 L587.45 950.75 L590.51 950.14 L592.04 948.15 L595.09 948.15 L595.86 939.74 L598.15 936.69 L599.68 928.28 L602.74 925.99 L603.50 917.58 L605.33 910.70 L606.56 907.64 L608.09 909.94 L610.38 911.46 L611.91 916.81 L614.20 919.11 L615.73 923.69 L616.49 938.21 L618.79 941.27 L621.08 944.33 L621.84 947.39 L623.37 949.68 L624.90 948.15 L628.72 948.15 L629.18 942.04 L631.01 940.97 L635.60 941.27 L636.37 943.56 L638.66 943.56 L640.19 945.09 L642.48 943.26 L642.94 953.80 L659.30 953.80 Z" fill="#666666" stroke="none"/>
<line x1="552.30" y1="953.80" x2="659.30" y2="953.80" stroke="#666666" stroke-width="1.6" />
<path d="M552.30 1009.00 L578.28 1008.96 L578.28 1008.19 L582.10 1008.19 L585.16 1000.55 L587.45 999.02 L592.80 999.02 L594.33 991.69 L595.86 982.51 L597.39 975.64 L598.91 972.58 L601.97 969.52 L602.74 966.46 L606.56 964.94 L607.78 961.88 L609.61 963.41 L611.91 964.94 L612.67 968.76 L614.96 971.81 L615.73 974.11 L618.02 974.87 L619.55 980.99 L621.84 984.81 L623.37 988.63 L624.90 997.80 L627.96 999.33 L631.01 1000.86 L632.54 1004.68 L635.60 1008.19 L642.48 1008.50 L643.24 1008.96 L659.30 1009.00 Z" fill="#666666" stroke="none"/>
<line x1="552.30" y1="1009.00" x2="659.30" y2="1009.00" stroke="#666666" stroke-width="1.6" />
<path d="M673.40 733.60 L701.69 733.60 L702.45 730.09 L704.74 727.04 L710.09 727.04 L711.62 729.33 L713.91 730.86 L716.21 729.33 L718.50 726.27 L720.79 722.45 L722.32 720.46 L725.38 719.39 L726.91 710.99 L728.44 709.46 L729.96 691.88 L732.26 691.42 L734.55 692.95 L735.62 700.29 L736.54 709.46 L739.14 708.23 L741.43 708.23 L743.72 710.22 L745.25 713.28 L747.54 714.04 L749.07 721.69 L750.60 729.33 L751.82 733.60 L779.60 733.60 Z" fill="#c11f28" stroke="none"/>
<line x1="673.40" y1="733.60" x2="779.60" y2="733.60" stroke="#c11f28" stroke-width="1.6" />
<path d="M673.40 788.30 L695.57 788.30 L696.34 786.34 L698.63 785.11 L701.69 785.57 L703.98 786.34 L704.74 788.30 L709.33 788.30 L710.09 786.34 L712.39 785.27 L720.79 784.81 L721.86 783.43 L723.85 783.43 L725.38 784.81 L726.91 784.04 L728.44 776.40 L729.96 773.65 L732.26 774.57 L734.55 777.16 L736.08 780.99 L738.37 783.28 L739.90 784.04 L741.43 782.51 L746.01 782.21 L748.31 784.04 L749.84 785.57 L750.60 788.30 L779.60 788.30 Z" fill="#c11f28" stroke="none"/>
<line x1="673.40" y1="788.30" x2="779.60" y2="788.30" stroke="#c11f28" stroke-width="1.6" />
<path d="M673.40 844.00 L693.28 844.00 L693.28 842.93 L709.33 842.62 L712.39 841.40 L716.97 841.09 L721.56 840.64 L725.38 839.11 L728.44 838.65 L732.26 837.58 L736.08 838.04 L741.43 839.57 L746.78 840.64 L748.31 842.93 L756.72 842.16 L760.54 842.93 L761.30 844.00 L779.60 844.00 Z" fill="#c11f28" stroke="none"/>
<line x1="673.40" y1="844.00" x2="779.60" y2="844.00" stroke="#c11f28" stroke-width="1.6" />
<path d="M673.40 899.00 L697.10 898.96 L697.86 897.43 L709.33 896.67 L712.39 895.44 L713.15 893.61 L715.44 893.15 L716.97 889.33 L719.26 883.21 L721.56 875.57 L723.85 867.93 L726.14 860.29 L727.98 853.41 L729.96 851.88 L732.26 852.95 L733.79 857.23 L735.62 860.29 L736.84 869.46 L738.37 876.34 L739.90 881.69 L742.19 887.80 L744.49 890.86 L745.25 893.91 L748.31 893.61 L750.60 894.68 L752.89 896.21 L755.19 897.74 L761.30 896.97 L764.36 898.19 L765.89 898.96 L779.60 899.00 Z" fill="#c11f28" stroke="none"/>
<line x1="673.40" y1="899.00" x2="779.60" y2="899.00" stroke="#c11f28" stroke-width="1.6" />
<path d="M673.40 954.80 L714.68 954.76 L715.44 953.23 L717.74 952.62 L721.56 952.16 L722.32 949.87 L723.85 950.18 L733.79 950.18 L736.84 950.94 L738.37 952.16 L739.14 954.76 L779.60 954.80 Z" fill="#c11f28" stroke="none"/>
<line x1="673.40" y1="954.80" x2="779.60" y2="954.80" stroke="#c11f28" stroke-width="1.6" />
<path d="M673.40 1009.80 L701.69 1009.79 L702.45 1008.26 L709.33 1008.26 L710.09 1009.79 L710.86 1008.72 L720.79 1008.72 L721.56 1009.79 L723.09 1006.89 L732.26 1006.43 L733.79 1005.21 L736.84 1005.97 L743.72 1005.97 L744.49 1007.19 L752.13 1007.19 L752.44 1009.79 L779.60 1009.80 Z" fill="#c11f28" stroke="none"/>
<line x1="673.40" y1="1009.80" x2="779.60" y2="1009.80" stroke="#c11f28" stroke-width="1.6" />
<text x="606.00" y="1033.00" font-size="19" text-anchor="middle" font-weight="normal" font-style="normal" fill="#111" stroke="#111" stroke-width="0.3" >stable</text>
<text x="727.00" y="1033.00" font-size="19" text-anchor="middle" font-weight="normal" font-style="normal" fill="#111" stroke="#111" stroke-width="0.3" >differential</text>
</svg></body></html>
